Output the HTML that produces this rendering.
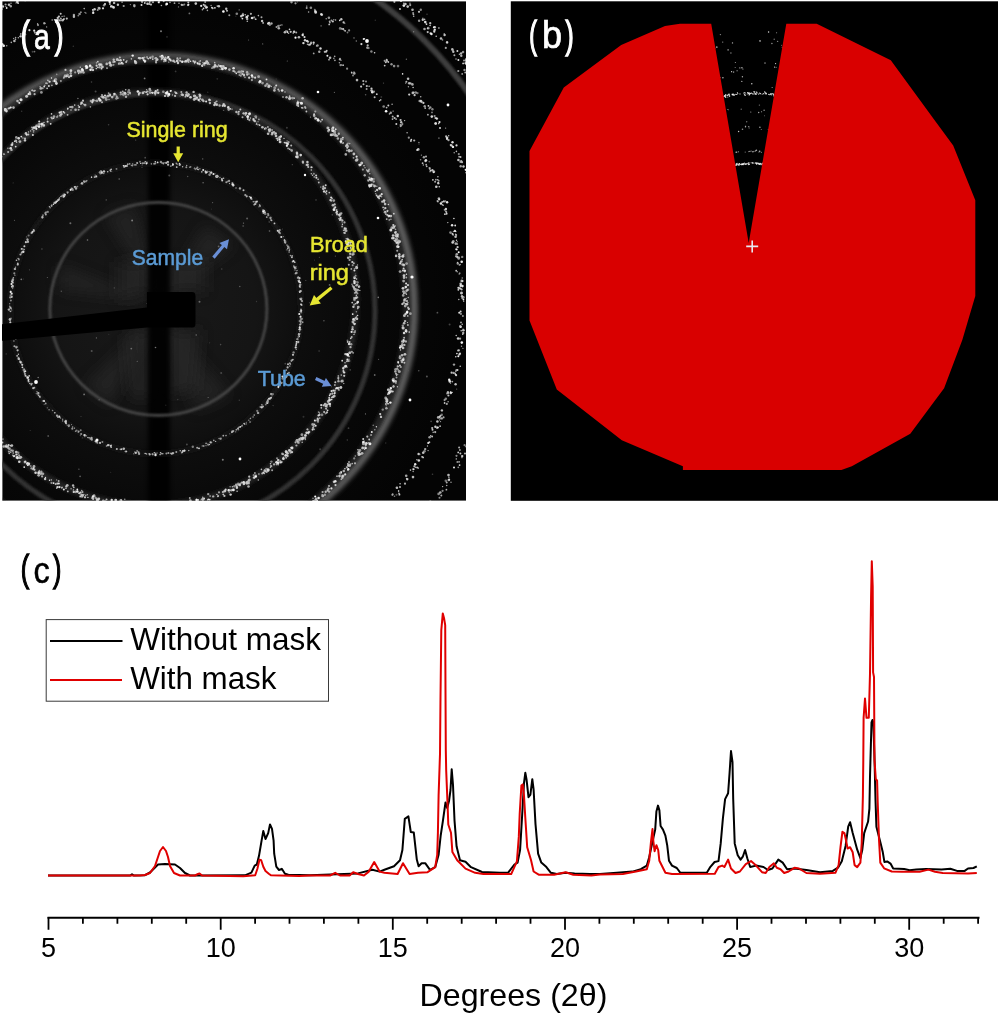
<!DOCTYPE html>
<html><head><meta charset="utf-8"><title>Figure</title>
<style>html,body{margin:0;padding:0;background:#fff;}body{width:1000px;height:1015px;overflow:hidden;}svg{display:block;}</style>
</head><body>
<svg width="1000" height="1015" viewBox="0 0 1000 1015">
<rect width="1000" height="1015" fill="#fff"/>
<defs><clipPath id="ca"><rect x="2.4" y="1.4" width="463.6" height="499.2"/></clipPath><filter id="bl1" x="-20%" y="-20%" width="140%" height="140%"><feGaussianBlur stdDeviation="1.3"/></filter><filter id="bl2" x="-20%" y="-20%" width="140%" height="140%"><feGaussianBlur stdDeviation="2.2"/></filter><filter id="bl3" x="-20%" y="-20%" width="140%" height="140%"><feGaussianBlur stdDeviation="3"/></filter><filter id="bl6" x="-20%" y="-20%" width="140%" height="140%"><feGaussianBlur stdDeviation="7"/></filter><filter id="bld" x="-5%" y="-5%" width="110%" height="110%"><feGaussianBlur stdDeviation="0.45"/></filter><radialGradient id="haze" cx="157" cy="309" r="300" gradientUnits="userSpaceOnUse"><stop offset="0" stop-color="#191919"/><stop offset="0.33" stop-color="#151515"/><stop offset="0.5" stop-color="#0d0d0d"/><stop offset="0.75" stop-color="#070707"/><stop offset="1" stop-color="#040404"/></radialGradient></defs><rect x="2.4" y="1.4" width="463.6" height="499.2" fill="url(#haze)"/><g clip-path="url(#ca)"><g fill="#2c2c2c" opacity="0.6" filter="url(#bl6)"><path d="M158,300 L105,215 L135,205 Z"/><path d="M160,315 L195,410 L230,395 Z"/><path d="M160,300 L205,225 L235,245 Z"/><path d="M158,315 L110,405 L85,385 Z"/><path d="M150,300 L60,265 L60,290 Z"/></g><g fill="#262626" filter="url(#bl6)" opacity="0.8"><path d="M118,262 L148,262 L148,292 L118,300 Z"/><path d="M170,262 L205,262 L205,292 L170,292 Z"/><path d="M125,335 L148,330 L148,400 L130,395 Z"/><path d="M170,330 L200,330 L195,390 L170,395 Z"/></g><rect x="148" y="0" width="22" height="505" fill="#030303" filter="url(#bl2)" opacity="0.9"/><g fill="none" filter="url(#bl1)"><ellipse cx="158.4" cy="308.9" rx="108.5" ry="106.5" stroke="#4a4a4a" stroke-width="2.6"/><circle cx="157" cy="311" r="218" stroke="#333" stroke-width="5"/><circle cx="157" cy="309" r="379" stroke="#3c3c3c" stroke-width="6"/></g><ellipse cx="157" cy="308" rx="257" ry="251.5" stroke="#5c5c5c" stroke-width="8" fill="none" filter="url(#bl2)"/><g fill="none" filter="url(#bl2)"><ellipse cx="151" cy="299" rx="205" ry="207" stroke="#2a2a2a" stroke-width="5"/><circle cx="157" cy="308" r="249" stroke="#2a2a2a" stroke-width="5"/><circle cx="155.7" cy="308.3" r="145.5" stroke="#1e1e1e" stroke-width="3"/></g><g filter="url(#bld)"><circle cx="90.3" cy="439" r="0.6" fill="rgb(218,218,218)" opacity="0.64"/><circle cx="28.6" cy="235.5" r="1.1" fill="rgb(177,177,177)" opacity="0.61"/><circle cx="22.4" cy="367.3" r="0.9" fill="rgb(255,255,255)" opacity="0.83"/><circle cx="293.5" cy="261.1" r="1" fill="rgb(224,224,224)" opacity="0.98"/><circle cx="28.5" cy="241.3" r="0.6" fill="rgb(167,167,167)" opacity="0.72"/><circle cx="246.2" cy="423.9" r="0.7" fill="rgb(189,189,189)" opacity="0.82"/><circle cx="95.1" cy="175.1" r="0.7" fill="rgb(162,162,162)" opacity="0.82"/><circle cx="290.6" cy="364.5" r="0.6" fill="rgb(176,176,176)" opacity="0.80"/><circle cx="12.9" cy="279.5" r="1.2" fill="rgb(196,196,196)" opacity="0.72"/><circle cx="195.5" cy="169.3" r="1" fill="rgb(181,181,181)" opacity="0.63"/><circle cx="110.7" cy="445.9" r="0.9" fill="rgb(227,227,227)" opacity="0.99"/><circle cx="263" cy="406.6" r="0.9" fill="rgb(246,246,246)" opacity="0.74"/><circle cx="287" cy="249.8" r="0.6" fill="rgb(221,221,221)" opacity="0.83"/><circle cx="259.6" cy="205" r="0.8" fill="rgb(238,238,238)" opacity="0.74"/><circle cx="10.1" cy="311.3" r="0.7" fill="rgb(184,184,184)" opacity="0.79"/><circle cx="81.1" cy="183.7" r="0.6" fill="rgb(239,239,239)" opacity="0.72"/><circle cx="27.6" cy="240" r="1" fill="rgb(235,235,235)" opacity="0.74"/><circle cx="290.5" cy="255.6" r="0.8" fill="rgb(228,228,228)" opacity="0.65"/><circle cx="291.4" cy="361" r="0.7" fill="rgb(200,200,200)" opacity="0.97"/><circle cx="10.7" cy="311.5" r="0.7" fill="rgb(201,201,201)" opacity="0.82"/><circle cx="264.4" cy="210.5" r="0.8" fill="rgb(203,203,203)" opacity="0.99"/><circle cx="96.6" cy="176.9" r="0.8" fill="rgb(179,179,179)" opacity="0.66"/><circle cx="220.8" cy="438.5" r="0.9" fill="rgb(225,225,225)" opacity="0.67"/><circle cx="126.6" cy="451.4" r="0.7" fill="rgb(218,218,218)" opacity="0.75"/><circle cx="21.6" cy="248.9" r="0.9" fill="rgb(229,229,229)" opacity="0.86"/><circle cx="146.4" cy="163.5" r="0.9" fill="rgb(249,249,249)" opacity="0.98"/><circle cx="94.5" cy="177.1" r="0.8" fill="rgb(211,211,211)" opacity="0.85"/><circle cx="289.9" cy="363.7" r="0.6" fill="rgb(176,176,176)" opacity="0.78"/><circle cx="267.6" cy="400.8" r="0.9" fill="rgb(218,218,218)" opacity="0.64"/><circle cx="60.6" cy="418.1" r="0.6" fill="rgb(176,176,176)" opacity="0.85"/><circle cx="242.3" cy="425.2" r="0.8" fill="rgb(165,165,165)" opacity="0.65"/><circle cx="9.9" cy="319.3" r="1.2" fill="rgb(211,211,211)" opacity="0.79"/><circle cx="281" cy="383.4" r="0.8" fill="rgb(238,238,238)" opacity="0.66"/><circle cx="300.1" cy="329.4" r="1.2" fill="rgb(217,217,217)" opacity="0.74"/><circle cx="101.8" cy="171.9" r="0.8" fill="rgb(232,232,232)" opacity="0.95"/><circle cx="107.7" cy="171.7" r="0.8" fill="rgb(196,196,196)" opacity="0.96"/><circle cx="65.9" cy="423" r="0.9" fill="rgb(231,231,231)" opacity="0.69"/><circle cx="210.9" cy="172.6" r="1.2" fill="rgb(174,174,174)" opacity="0.92"/><circle cx="216.3" cy="176" r="0.9" fill="rgb(195,195,195)" opacity="0.89"/><circle cx="300.3" cy="298.8" r="1.1" fill="rgb(210,210,210)" opacity="0.70"/><circle cx="104" cy="171.4" r="1.2" fill="rgb(194,194,194)" opacity="0.98"/><circle cx="59.9" cy="417.5" r="0.7" fill="rgb(179,179,179)" opacity="0.79"/><circle cx="80.7" cy="430.3" r="1" fill="rgb(150,150,150)" opacity="0.79"/><circle cx="72.2" cy="188.8" r="1.1" fill="rgb(160,160,160)" opacity="0.93"/><circle cx="261.1" cy="407.2" r="0.7" fill="rgb(172,172,172)" opacity="0.77"/><circle cx="59.5" cy="198" r="0.7" fill="rgb(242,242,242)" opacity="0.76"/><circle cx="36.3" cy="393.5" r="0.7" fill="rgb(166,166,166)" opacity="0.61"/><circle cx="33.6" cy="229.9" r="0.9" fill="rgb(233,233,233)" opacity="0.66"/><circle cx="223.5" cy="178.3" r="0.8" fill="rgb(220,220,220)" opacity="0.82"/><circle cx="299.7" cy="327.8" r="1.1" fill="rgb(242,242,242)" opacity="0.86"/><circle cx="11.5" cy="284" r="1.1" fill="rgb(255,255,255)" opacity="0.95"/><circle cx="298.6" cy="333.7" r="0.7" fill="rgb(214,214,214)" opacity="0.70"/><circle cx="31.2" cy="233.1" r="0.7" fill="rgb(244,244,244)" opacity="0.74"/><circle cx="14.4" cy="346.3" r="1" fill="rgb(216,216,216)" opacity="0.77"/><circle cx="281.3" cy="236.9" r="0.9" fill="rgb(152,152,152)" opacity="0.95"/><circle cx="179.8" cy="164.8" r="1" fill="rgb(249,249,249)" opacity="0.92"/><circle cx="223.3" cy="435.7" r="0.9" fill="rgb(191,191,191)" opacity="0.87"/><circle cx="12.7" cy="280.3" r="0.9" fill="rgb(249,249,249)" opacity="0.64"/><circle cx="20.5" cy="254.5" r="1.1" fill="rgb(214,214,214)" opacity="0.78"/><circle cx="299.6" cy="333.8" r="1.1" fill="rgb(158,158,158)" opacity="0.78"/><circle cx="45.8" cy="214.4" r="1" fill="rgb(207,207,207)" opacity="0.80"/><circle cx="207" cy="172.2" r="0.9" fill="rgb(181,181,181)" opacity="0.88"/><circle cx="260" cy="206" r="0.9" fill="rgb(175,175,175)" opacity="0.94"/><circle cx="250.3" cy="418.6" r="0.7" fill="rgb(206,206,206)" opacity="0.73"/><circle cx="86.8" cy="180.7" r="0.8" fill="rgb(165,165,165)" opacity="0.96"/><circle cx="238" cy="428.6" r="1" fill="rgb(234,234,234)" opacity="0.75"/><circle cx="152.8" cy="454.4" r="1" fill="rgb(162,162,162)" opacity="0.76"/><circle cx="10" cy="320" r="1.2" fill="rgb(178,178,178)" opacity="0.66"/><circle cx="24.1" cy="368.7" r="0.7" fill="rgb(190,190,190)" opacity="0.64"/><circle cx="58.9" cy="416.8" r="0.8" fill="rgb(208,208,208)" opacity="0.78"/><circle cx="299.7" cy="324.7" r="0.9" fill="rgb(158,158,158)" opacity="0.65"/><circle cx="283.4" cy="236.6" r="0.7" fill="rgb(163,163,163)" opacity="0.63"/><circle cx="135.7" cy="452.8" r="1.1" fill="rgb(254,254,254)" opacity="0.77"/><circle cx="279" cy="231.6" r="1.1" fill="rgb(183,183,183)" opacity="0.76"/><circle cx="14.9" cy="275.3" r="0.8" fill="rgb(185,185,185)" opacity="0.62"/><circle cx="100.6" cy="173.7" r="0.9" fill="rgb(159,159,159)" opacity="0.71"/><circle cx="300.9" cy="323.7" r="1" fill="rgb(178,178,178)" opacity="0.63"/><circle cx="250.6" cy="197.6" r="0.9" fill="rgb(193,193,193)" opacity="1.00"/><circle cx="28.4" cy="380.7" r="0.6" fill="rgb(240,240,240)" opacity="0.70"/><circle cx="267.7" cy="400.3" r="0.7" fill="rgb(156,156,156)" opacity="0.67"/><circle cx="287.6" cy="248.5" r="0.7" fill="rgb(207,207,207)" opacity="0.80"/><circle cx="219.1" cy="438.5" r="0.8" fill="rgb(152,152,152)" opacity="1.00"/><circle cx="298.2" cy="342" r="1.2" fill="rgb(215,215,215)" opacity="0.79"/><circle cx="289.2" cy="250.2" r="0.7" fill="rgb(254,254,254)" opacity="0.86"/><circle cx="76" cy="188.5" r="1.2" fill="rgb(189,189,189)" opacity="0.88"/><circle cx="299.8" cy="292.3" r="0.8" fill="rgb(240,240,240)" opacity="0.89"/><circle cx="250.1" cy="422" r="1.1" fill="rgb(151,151,151)" opacity="0.63"/><circle cx="147.4" cy="163.2" r="0.8" fill="rgb(170,170,170)" opacity="0.62"/><circle cx="82.2" cy="183.6" r="1.2" fill="rgb(226,226,226)" opacity="0.70"/><circle cx="116.6" cy="449.1" r="0.9" fill="rgb(170,170,170)" opacity="0.71"/><circle cx="300.7" cy="311.6" r="1.2" fill="rgb(191,191,191)" opacity="0.70"/><circle cx="298.4" cy="277" r="0.8" fill="rgb(195,195,195)" opacity="0.67"/><circle cx="81.1" cy="433.9" r="1" fill="rgb(181,181,181)" opacity="0.80"/><circle cx="301.5" cy="312.8" r="0.8" fill="rgb(161,161,161)" opacity="0.66"/><circle cx="31.8" cy="233.1" r="1" fill="rgb(160,160,160)" opacity="0.83"/><circle cx="12.2" cy="281.7" r="1.1" fill="rgb(234,234,234)" opacity="0.96"/><circle cx="186.3" cy="167.2" r="1" fill="rgb(213,213,213)" opacity="0.66"/><circle cx="132.3" cy="165.5" r="1" fill="rgb(155,155,155)" opacity="0.93"/><circle cx="124.2" cy="167.1" r="1" fill="rgb(214,214,214)" opacity="0.66"/><circle cx="11.9" cy="286.7" r="0.9" fill="rgb(254,254,254)" opacity="0.92"/><circle cx="222.2" cy="180.5" r="1" fill="rgb(238,238,238)" opacity="0.86"/><circle cx="280.2" cy="382" r="0.6" fill="rgb(231,231,231)" opacity="0.74"/><circle cx="271.1" cy="397.7" r="1" fill="rgb(230,230,230)" opacity="0.81"/><circle cx="160.6" cy="452.8" r="0.8" fill="rgb(208,208,208)" opacity="0.92"/><circle cx="154.1" cy="163.8" r="1" fill="rgb(158,158,158)" opacity="0.90"/><circle cx="12.2" cy="332.1" r="1.1" fill="rgb(183,183,183)" opacity="0.69"/><circle cx="161.6" cy="162.8" r="0.9" fill="rgb(198,198,198)" opacity="0.63"/><circle cx="279.8" cy="230.1" r="0.8" fill="rgb(155,155,155)" opacity="0.85"/><circle cx="64.7" cy="194.3" r="0.8" fill="rgb(245,245,245)" opacity="0.88"/><circle cx="50.2" cy="207.8" r="0.7" fill="rgb(211,211,211)" opacity="0.62"/><circle cx="138.6" cy="452.2" r="1" fill="rgb(187,187,187)" opacity="0.88"/><circle cx="123.7" cy="449.1" r="0.9" fill="rgb(248,248,248)" opacity="0.65"/><circle cx="270.5" cy="217.7" r="1.2" fill="rgb(152,152,152)" opacity="0.72"/><circle cx="286.6" cy="376.5" r="0.9" fill="rgb(207,207,207)" opacity="1.00"/><circle cx="44.2" cy="404.3" r="0.6" fill="rgb(161,161,161)" opacity="0.66"/><circle cx="12.8" cy="286.5" r="1.2" fill="rgb(166,166,166)" opacity="0.84"/><circle cx="57.3" cy="201.3" r="0.8" fill="rgb(213,213,213)" opacity="0.96"/><circle cx="10.4" cy="321" r="0.6" fill="rgb(150,150,150)" opacity="0.98"/><circle cx="95.5" cy="177" r="0.8" fill="rgb(198,198,198)" opacity="0.73"/><circle cx="234.2" cy="185" r="0.6" fill="rgb(246,246,246)" opacity="0.74"/><circle cx="38.5" cy="395.4" r="0.6" fill="rgb(244,244,244)" opacity="0.72"/><circle cx="54.8" cy="412.8" r="0.8" fill="rgb(225,225,225)" opacity="0.63"/><circle cx="285.6" cy="242.6" r="0.8" fill="rgb(156,156,156)" opacity="0.93"/><circle cx="123.8" cy="448.6" r="1.2" fill="rgb(181,181,181)" opacity="0.99"/><circle cx="22.2" cy="364.8" r="1.1" fill="rgb(204,204,204)" opacity="0.95"/><circle cx="211.4" cy="172.5" r="1" fill="rgb(220,220,220)" opacity="0.82"/><circle cx="127.8" cy="164.2" r="0.9" fill="rgb(246,246,246)" opacity="0.66"/><circle cx="255.2" cy="201.6" r="0.9" fill="rgb(220,220,220)" opacity="0.65"/><circle cx="12.8" cy="333.5" r="1" fill="rgb(233,233,233)" opacity="0.70"/><circle cx="74.4" cy="187" r="0.8" fill="rgb(221,221,221)" opacity="0.87"/><circle cx="261.8" cy="407.6" r="0.9" fill="rgb(253,253,253)" opacity="0.80"/><circle cx="182.9" cy="451" r="1.1" fill="rgb(247,247,247)" opacity="0.78"/><circle cx="248.8" cy="420.3" r="0.8" fill="rgb(161,161,161)" opacity="0.73"/><circle cx="57" cy="415.7" r="1.1" fill="rgb(175,175,175)" opacity="0.95"/><circle cx="155.4" cy="163.5" r="0.9" fill="rgb(198,198,198)" opacity="0.71"/><circle cx="157.6" cy="162.4" r="0.9" fill="rgb(223,223,223)" opacity="0.99"/><circle cx="257.2" cy="410.9" r="1.1" fill="rgb(177,177,177)" opacity="0.64"/><circle cx="271.6" cy="220.4" r="0.8" fill="rgb(232,232,232)" opacity="0.78"/><circle cx="296.1" cy="266.5" r="0.6" fill="rgb(154,154,154)" opacity="0.77"/><circle cx="168.1" cy="164.7" r="1.1" fill="rgb(225,225,225)" opacity="0.80"/><circle cx="287.6" cy="373.6" r="0.9" fill="rgb(209,209,209)" opacity="0.99"/><circle cx="157.1" cy="453" r="0.7" fill="rgb(169,169,169)" opacity="0.66"/><circle cx="300.1" cy="282.5" r="1" fill="rgb(247,247,247)" opacity="0.96"/><circle cx="281.7" cy="382.8" r="1.1" fill="rgb(150,150,150)" opacity="0.91"/><circle cx="171.7" cy="453.9" r="0.8" fill="rgb(166,166,166)" opacity="0.85"/><circle cx="13" cy="282.7" r="0.9" fill="rgb(247,247,247)" opacity="0.64"/><circle cx="286.3" cy="370.1" r="0.8" fill="rgb(178,178,178)" opacity="0.92"/><circle cx="301" cy="309.4" r="0.9" fill="rgb(208,208,208)" opacity="0.71"/><circle cx="96.6" cy="441.6" r="0.9" fill="rgb(220,220,220)" opacity="0.70"/><circle cx="296.3" cy="272.8" r="1" fill="rgb(189,189,189)" opacity="0.62"/><circle cx="206" cy="445.7" r="0.6" fill="rgb(179,179,179)" opacity="0.87"/><circle cx="284.7" cy="242.7" r="0.7" fill="rgb(154,154,154)" opacity="0.88"/><circle cx="127" cy="166.2" r="0.6" fill="rgb(187,187,187)" opacity="0.90"/><circle cx="9.7" cy="303.8" r="0.7" fill="rgb(175,175,175)" opacity="0.72"/><circle cx="217.7" cy="176.6" r="1.1" fill="rgb(187,187,187)" opacity="0.64"/><circle cx="51.5" cy="205.9" r="1" fill="rgb(178,178,178)" opacity="0.79"/><circle cx="279.6" cy="230.1" r="1.2" fill="rgb(156,156,156)" opacity="0.69"/><circle cx="299.6" cy="284.7" r="0.7" fill="rgb(156,156,156)" opacity="0.88"/><circle cx="213.8" cy="440.4" r="0.8" fill="rgb(164,164,164)" opacity="1.00"/><circle cx="288.3" cy="247.5" r="0.8" fill="rgb(173,173,173)" opacity="0.86"/><circle cx="12.6" cy="285.8" r="1" fill="rgb(197,197,197)" opacity="0.99"/><circle cx="19.5" cy="359.8" r="0.7" fill="rgb(160,160,160)" opacity="0.71"/><circle cx="68.9" cy="425.5" r="1.2" fill="rgb(176,176,176)" opacity="0.75"/><circle cx="172.8" cy="163.9" r="0.8" fill="rgb(252,252,252)" opacity="0.77"/><circle cx="293.6" cy="352.4" r="1.2" fill="rgb(174,174,174)" opacity="0.73"/><circle cx="144.1" cy="163.1" r="0.9" fill="rgb(230,230,230)" opacity="0.76"/><circle cx="210.8" cy="173.6" r="0.6" fill="rgb(158,158,158)" opacity="0.92"/><circle cx="290.1" cy="363.5" r="0.7" fill="rgb(158,158,158)" opacity="0.96"/><circle cx="78.6" cy="431.4" r="1" fill="rgb(183,183,183)" opacity="0.90"/><circle cx="101" cy="171.3" r="1.2" fill="rgb(188,188,188)" opacity="0.60"/><circle cx="160.9" cy="161.9" r="1.2" fill="rgb(153,153,153)" opacity="0.93"/><circle cx="268.9" cy="398.7" r="1" fill="rgb(209,209,209)" opacity="0.98"/><circle cx="45.7" cy="403.5" r="0.9" fill="rgb(213,213,213)" opacity="0.67"/><circle cx="203.2" cy="169.9" r="1" fill="rgb(255,255,255)" opacity="0.88"/><circle cx="240.3" cy="426.8" r="0.9" fill="rgb(250,250,250)" opacity="0.91"/><circle cx="285" cy="378.4" r="0.7" fill="rgb(246,246,246)" opacity="0.66"/><circle cx="34.4" cy="387.7" r="0.9" fill="rgb(170,170,170)" opacity="0.99"/><circle cx="263.4" cy="211.5" r="1.2" fill="rgb(183,183,183)" opacity="0.85"/><circle cx="192.8" cy="446.8" r="1.2" fill="rgb(172,172,172)" opacity="0.69"/><circle cx="28.6" cy="381.5" r="1" fill="rgb(236,236,236)" opacity="0.69"/><circle cx="14.3" cy="273.3" r="1.1" fill="rgb(187,187,187)" opacity="0.72"/><circle cx="24.1" cy="249.5" r="0.8" fill="rgb(244,244,244)" opacity="0.70"/><circle cx="20.4" cy="362.5" r="0.8" fill="rgb(224,224,224)" opacity="0.68"/><circle cx="289.8" cy="366.1" r="0.8" fill="rgb(181,181,181)" opacity="0.80"/><circle cx="172.7" cy="453.2" r="1.2" fill="rgb(163,163,163)" opacity="0.60"/><circle cx="262.7" cy="211.3" r="0.7" fill="rgb(207,207,207)" opacity="0.97"/><circle cx="296.4" cy="344.8" r="0.7" fill="rgb(255,255,255)" opacity="0.83"/><circle cx="287.8" cy="246.3" r="0.8" fill="rgb(172,172,172)" opacity="0.78"/><circle cx="146.6" cy="453.9" r="0.7" fill="rgb(226,226,226)" opacity="0.88"/><circle cx="71.5" cy="424.6" r="0.6" fill="rgb(193,193,193)" opacity="0.66"/><circle cx="197.2" cy="447.7" r="1" fill="rgb(176,176,176)" opacity="0.93"/><circle cx="217.1" cy="175.2" r="0.8" fill="rgb(197,197,197)" opacity="0.67"/><circle cx="100.1" cy="443.2" r="0.9" fill="rgb(158,158,158)" opacity="0.76"/><circle cx="197.4" cy="167.5" r="1" fill="rgb(169,169,169)" opacity="0.86"/><circle cx="278.5" cy="387.5" r="0.8" fill="rgb(186,186,186)" opacity="0.87"/><circle cx="28.2" cy="380.6" r="0.6" fill="rgb(245,245,245)" opacity="0.83"/><circle cx="65.8" cy="421" r="1.2" fill="rgb(196,196,196)" opacity="0.86"/><circle cx="42.5" cy="401" r="0.8" fill="rgb(150,150,150)" opacity="0.77"/><circle cx="236.4" cy="429.7" r="0.9" fill="rgb(196,196,196)" opacity="0.78"/><circle cx="231.8" cy="432.6" r="0.6" fill="rgb(220,220,220)" opacity="0.66"/><circle cx="206" cy="172.6" r="1.2" fill="rgb(244,244,244)" opacity="0.80"/><circle cx="244.6" cy="424.3" r="0.8" fill="rgb(216,216,216)" opacity="0.67"/><circle cx="287.6" cy="367.4" r="1.1" fill="rgb(253,253,253)" opacity="0.68"/><circle cx="258.1" cy="412.9" r="1.2" fill="rgb(211,211,211)" opacity="0.73"/><circle cx="42.4" cy="217.4" r="1" fill="rgb(238,238,238)" opacity="0.93"/><circle cx="233.3" cy="431.1" r="1.1" fill="rgb(178,178,178)" opacity="0.85"/><circle cx="46.2" cy="212.1" r="0.9" fill="rgb(155,155,155)" opacity="0.76"/><circle cx="10.3" cy="291.9" r="0.8" fill="rgb(165,165,165)" opacity="0.66"/><circle cx="298.9" cy="281.6" r="1.1" fill="rgb(246,246,246)" opacity="0.87"/><circle cx="84.2" cy="182.2" r="0.8" fill="rgb(199,199,199)" opacity="0.84"/><circle cx="17.8" cy="263.4" r="0.9" fill="rgb(224,224,224)" opacity="0.70"/><circle cx="44.4" cy="401.3" r="0.8" fill="rgb(214,214,214)" opacity="0.78"/><circle cx="299" cy="329.5" r="0.7" fill="rgb(247,247,247)" opacity="0.85"/><circle cx="216.5" cy="176.8" r="1.1" fill="rgb(253,253,253)" opacity="0.79"/><circle cx="270" cy="399.3" r="0.7" fill="rgb(206,206,206)" opacity="0.80"/><circle cx="75.2" cy="186.4" r="0.6" fill="rgb(166,166,166)" opacity="0.63"/><circle cx="140.6" cy="163.4" r="0.6" fill="rgb(214,214,214)" opacity="0.96"/><circle cx="72.8" cy="189.9" r="1.1" fill="rgb(153,153,153)" opacity="0.94"/><circle cx="301" cy="304.8" r="0.7" fill="rgb(212,212,212)" opacity="0.72"/><circle cx="209.6" cy="174.7" r="1.1" fill="rgb(237,237,237)" opacity="0.92"/><circle cx="288.2" cy="246.5" r="1.1" fill="rgb(170,170,170)" opacity="0.73"/><circle cx="45.5" cy="212.9" r="1.1" fill="rgb(208,208,208)" opacity="0.66"/><circle cx="9.7" cy="306.3" r="0.8" fill="rgb(214,214,214)" opacity="0.69"/><circle cx="54.8" cy="412.7" r="0.7" fill="rgb(201,201,201)" opacity="0.66"/><circle cx="289.1" cy="252" r="0.7" fill="rgb(250,250,250)" opacity="0.71"/><circle cx="172.2" cy="165.3" r="0.6" fill="rgb(196,196,196)" opacity="0.99"/><circle cx="17.6" cy="350.3" r="1.1" fill="rgb(182,182,182)" opacity="1.00"/><circle cx="56.1" cy="202.5" r="0.8" fill="rgb(252,252,252)" opacity="0.75"/><circle cx="52.6" cy="410.5" r="0.8" fill="rgb(160,160,160)" opacity="0.78"/><circle cx="220.5" cy="439" r="1" fill="rgb(156,156,156)" opacity="0.72"/><circle cx="11.7" cy="293.7" r="1.1" fill="rgb(234,234,234)" opacity="0.96"/><circle cx="140" cy="161.7" r="1" fill="rgb(178,178,178)" opacity="0.66"/><circle cx="47.8" cy="211.9" r="1.1" fill="rgb(166,166,166)" opacity="0.80"/><circle cx="44.8" cy="213.5" r="0.6" fill="rgb(156,156,156)" opacity="0.60"/><circle cx="66.2" cy="423.8" r="0.7" fill="rgb(224,224,224)" opacity="0.72"/><circle cx="253.1" cy="417" r="0.8" fill="rgb(210,210,210)" opacity="0.66"/><circle cx="301" cy="321.2" r="0.9" fill="rgb(158,158,158)" opacity="0.86"/><circle cx="255.3" cy="203.9" r="1.1" fill="rgb(201,201,201)" opacity="0.92"/><circle cx="299.5" cy="278.2" r="1.1" fill="rgb(226,226,226)" opacity="0.86"/><circle cx="18.7" cy="358.8" r="1.2" fill="rgb(243,243,243)" opacity="0.80"/><circle cx="229.8" cy="433.8" r="0.6" fill="rgb(173,173,173)" opacity="0.70"/><circle cx="291.5" cy="360.5" r="1.1" fill="rgb(151,151,151)" opacity="0.85"/><circle cx="75.1" cy="186.8" r="0.9" fill="rgb(232,232,232)" opacity="0.80"/><circle cx="63.6" cy="194.7" r="1.1" fill="rgb(172,172,172)" opacity="0.80"/><circle cx="288" cy="364.3" r="1" fill="rgb(211,211,211)" opacity="0.89"/><circle cx="299.3" cy="314" r="1.1" fill="rgb(245,245,245)" opacity="0.96"/><circle cx="282.7" cy="378.6" r="1.2" fill="rgb(183,183,183)" opacity="0.69"/><circle cx="296.5" cy="343.3" r="0.8" fill="rgb(245,245,245)" opacity="0.97"/><circle cx="291.9" cy="257.2" r="1" fill="rgb(236,236,236)" opacity="0.77"/><circle cx="190.6" cy="166.8" r="0.9" fill="rgb(183,183,183)" opacity="0.72"/><circle cx="287" cy="245.1" r="0.9" fill="rgb(171,171,171)" opacity="0.70"/><circle cx="168.4" cy="453" r="1" fill="rgb(170,170,170)" opacity="0.90"/><circle cx="87.9" cy="437.6" r="0.7" fill="rgb(230,230,230)" opacity="0.97"/><circle cx="299.8" cy="291.6" r="1.1" fill="rgb(218,218,218)" opacity="0.79"/><circle cx="233.2" cy="185.7" r="0.9" fill="rgb(242,242,242)" opacity="0.69"/><circle cx="263.6" cy="212.9" r="1.1" fill="rgb(200,200,200)" opacity="0.85"/><circle cx="284.5" cy="376.8" r="0.6" fill="rgb(163,163,163)" opacity="0.85"/><circle cx="232.1" cy="431.8" r="1.2" fill="rgb(239,239,239)" opacity="0.61"/><circle cx="295.9" cy="345.8" r="1" fill="rgb(244,244,244)" opacity="0.62"/><circle cx="245.3" cy="195" r="1.1" fill="rgb(175,175,175)" opacity="0.93"/><circle cx="217.4" cy="176.3" r="1.1" fill="rgb(241,241,241)" opacity="0.98"/><circle cx="269.3" cy="398.9" r="0.7" fill="rgb(164,164,164)" opacity="0.61"/><circle cx="294.9" cy="262.3" r="0.7" fill="rgb(246,246,246)" opacity="0.85"/><circle cx="122" cy="449.1" r="0.7" fill="rgb(162,162,162)" opacity="0.92"/><circle cx="67.6" cy="192.8" r="0.8" fill="rgb(194,194,194)" opacity="0.70"/><circle cx="126" cy="451.4" r="1" fill="rgb(197,197,197)" opacity="0.96"/><circle cx="173.2" cy="164.6" r="0.8" fill="rgb(245,245,245)" opacity="0.61"/><circle cx="31.9" cy="383.7" r="0.9" fill="rgb(248,248,248)" opacity="0.64"/><circle cx="12" cy="336.7" r="1" fill="rgb(255,255,255)" opacity="0.64"/><circle cx="217.6" cy="176.3" r="0.7" fill="rgb(150,150,150)" opacity="0.81"/><circle cx="121" cy="449.6" r="0.8" fill="rgb(162,162,162)" opacity="0.80"/><circle cx="197.8" cy="169.3" r="0.7" fill="rgb(213,213,213)" opacity="0.84"/><circle cx="295" cy="269.9" r="0.7" fill="rgb(254,254,254)" opacity="0.69"/><circle cx="110.3" cy="170.2" r="0.9" fill="rgb(164,164,164)" opacity="0.98"/><circle cx="170.8" cy="166.1" r="0.9" fill="rgb(163,163,163)" opacity="0.85"/><circle cx="66" cy="423" r="0.8" fill="rgb(200,200,200)" opacity="0.96"/><circle cx="151.4" cy="163.9" r="0.8" fill="rgb(188,188,188)" opacity="0.71"/><circle cx="274.5" cy="223.4" r="0.9" fill="rgb(198,198,198)" opacity="0.99"/><circle cx="56.3" cy="201.5" r="1" fill="rgb(238,238,238)" opacity="0.90"/><circle cx="67.6" cy="192.7" r="0.8" fill="rgb(191,191,191)" opacity="0.81"/><circle cx="253.3" cy="201.7" r="0.8" fill="rgb(209,209,209)" opacity="0.78"/><circle cx="177.1" cy="164.1" r="0.9" fill="rgb(166,166,166)" opacity="0.73"/><circle cx="65.1" cy="194.9" r="0.8" fill="rgb(246,246,246)" opacity="0.88"/><circle cx="236" cy="188" r="0.7" fill="rgb(169,169,169)" opacity="0.99"/><circle cx="131.4" cy="165.4" r="0.7" fill="rgb(174,174,174)" opacity="0.70"/><circle cx="295" cy="267.8" r="1.2" fill="rgb(171,171,171)" opacity="0.98"/><circle cx="271.1" cy="394" r="1.1" fill="rgb(243,243,243)" opacity="0.72"/><circle cx="133.8" cy="453.7" r="0.7" fill="rgb(163,163,163)" opacity="0.71"/><circle cx="264.9" cy="212.3" r="1.1" fill="rgb(205,205,205)" opacity="0.88"/><circle cx="10.2" cy="307.9" r="1" fill="rgb(209,209,209)" opacity="0.61"/><circle cx="149.1" cy="453.6" r="0.7" fill="rgb(205,205,205)" opacity="0.88"/><circle cx="31.7" cy="232.4" r="1" fill="rgb(179,179,179)" opacity="0.87"/><circle cx="71.6" cy="188.6" r="1" fill="rgb(179,179,179)" opacity="0.87"/><circle cx="64.5" cy="195.9" r="0.9" fill="rgb(190,190,190)" opacity="0.70"/><circle cx="111.2" cy="169.3" r="0.8" fill="rgb(241,241,241)" opacity="0.85"/><circle cx="155.6" cy="453.4" r="0.9" fill="rgb(208,208,208)" opacity="0.61"/><circle cx="246.7" cy="196.3" r="1.1" fill="rgb(233,233,233)" opacity="0.73"/><circle cx="300.7" cy="318" r="1.1" fill="rgb(163,163,163)" opacity="0.62"/><circle cx="14.9" cy="268.9" r="1.2" fill="rgb(216,216,216)" opacity="0.74"/><circle cx="239.8" cy="188.1" r="0.9" fill="rgb(176,176,176)" opacity="0.89"/><circle cx="11.6" cy="297.2" r="0.9" fill="rgb(202,202,202)" opacity="0.90"/><circle cx="16.6" cy="346.9" r="1.2" fill="rgb(173,173,173)" opacity="0.76"/><circle cx="167.4" cy="161.6" r="0.8" fill="rgb(157,157,157)" opacity="0.70"/><circle cx="47.3" cy="407.8" r="0.6" fill="rgb(159,159,159)" opacity="0.77"/><circle cx="28.2" cy="377.8" r="0.8" fill="rgb(178,178,178)" opacity="0.72"/><circle cx="38.3" cy="393.1" r="1.2" fill="rgb(178,178,178)" opacity="1.00"/><circle cx="296.4" cy="273" r="1.2" fill="rgb(158,158,158)" opacity="0.92"/><circle cx="58.9" cy="199.5" r="0.9" fill="rgb(221,221,221)" opacity="0.89"/><circle cx="213.5" cy="174" r="1.1" fill="rgb(251,251,251)" opacity="0.93"/><circle cx="12.2" cy="337.5" r="0.8" fill="rgb(220,220,220)" opacity="0.86"/><circle cx="182.6" cy="166.7" r="0.7" fill="rgb(240,240,240)" opacity="0.75"/><circle cx="152.4" cy="454" r="0.9" fill="rgb(173,173,173)" opacity="0.79"/><circle cx="205.4" cy="171.3" r="1" fill="rgb(191,191,191)" opacity="0.79"/><circle cx="25.3" cy="371.2" r="1" fill="rgb(234,234,234)" opacity="0.96"/><circle cx="239" cy="427.3" r="0.7" fill="rgb(222,222,222)" opacity="0.96"/><circle cx="186.7" cy="165.4" r="0.7" fill="rgb(194,194,194)" opacity="0.85"/><circle cx="302.5" cy="322.2" r="1" fill="rgb(182,182,182)" opacity="0.84"/><circle cx="27.4" cy="239.4" r="1.1" fill="rgb(173,173,173)" opacity="0.91"/><circle cx="72.3" cy="428.7" r="1.1" fill="rgb(171,171,171)" opacity="0.84"/><circle cx="99.9" cy="172.4" r="1.2" fill="rgb(161,161,161)" opacity="0.87"/><circle cx="270.3" cy="218.1" r="0.7" fill="rgb(238,238,238)" opacity="0.69"/><circle cx="282.5" cy="376.6" r="1.1" fill="rgb(235,235,235)" opacity="0.95"/><circle cx="18.9" cy="259" r="0.7" fill="rgb(213,213,213)" opacity="0.82"/><circle cx="10.3" cy="322.6" r="1.1" fill="rgb(239,239,239)" opacity="0.80"/><circle cx="11.8" cy="310" r="0.6" fill="rgb(191,191,191)" opacity="0.79"/><circle cx="21.7" cy="252.7" r="1" fill="rgb(209,209,209)" opacity="0.75"/><circle cx="28.5" cy="379.5" r="1" fill="rgb(231,231,231)" opacity="0.86"/><circle cx="299.9" cy="327" r="0.6" fill="rgb(244,244,244)" opacity="0.97"/><circle cx="84.8" cy="436.4" r="0.9" fill="rgb(168,168,168)" opacity="0.61"/><circle cx="126.8" cy="165.8" r="1" fill="rgb(193,193,193)" opacity="0.64"/><circle cx="77.4" cy="186.6" r="0.9" fill="rgb(176,176,176)" opacity="0.71"/><circle cx="75.6" cy="431.2" r="0.8" fill="rgb(156,156,156)" opacity="0.93"/><circle cx="116.9" cy="448.9" r="0.9" fill="rgb(184,184,184)" opacity="0.95"/><circle cx="74.5" cy="428.1" r="0.7" fill="rgb(213,213,213)" opacity="0.92"/><circle cx="85" cy="435.2" r="1" fill="rgb(231,231,231)" opacity="0.64"/><circle cx="301.8" cy="305.1" r="0.8" fill="rgb(220,220,220)" opacity="0.95"/><circle cx="15.5" cy="267.2" r="0.6" fill="rgb(174,174,174)" opacity="0.93"/><circle cx="11.8" cy="331" r="1.1" fill="rgb(157,157,157)" opacity="0.92"/><circle cx="277.7" cy="230.7" r="1" fill="rgb(239,239,239)" opacity="0.88"/><circle cx="258.9" cy="206.8" r="0.6" fill="rgb(155,155,155)" opacity="0.87"/><circle cx="15.2" cy="346.4" r="0.7" fill="rgb(154,154,154)" opacity="0.77"/><circle cx="272.8" cy="394.1" r="1.2" fill="rgb(151,151,151)" opacity="0.75"/><circle cx="219.9" cy="177.5" r="0.8" fill="rgb(188,188,188)" opacity="0.67"/><circle cx="296.9" cy="339.1" r="0.6" fill="rgb(222,222,222)" opacity="0.86"/><circle cx="289.7" cy="249.2" r="0.6" fill="rgb(165,165,165)" opacity="0.91"/><circle cx="27.4" cy="377.7" r="1" fill="rgb(201,201,201)" opacity="0.78"/><circle cx="299.8" cy="321.1" r="1.2" fill="rgb(169,169,169)" opacity="0.79"/><circle cx="31.1" cy="384.8" r="0.7" fill="rgb(232,232,232)" opacity="0.79"/><circle cx="270.6" cy="220" r="0.6" fill="rgb(235,235,235)" opacity="0.65"/><circle cx="297.4" cy="277.9" r="0.7" fill="rgb(165,165,165)" opacity="0.65"/><circle cx="300.2" cy="324.5" r="1" fill="rgb(173,173,173)" opacity="0.97"/><circle cx="59.3" cy="416.5" r="1" fill="rgb(238,238,238)" opacity="0.94"/><circle cx="137.1" cy="163" r="1" fill="rgb(208,208,208)" opacity="0.87"/><circle cx="268.3" cy="215.2" r="1.1" fill="rgb(156,156,156)" opacity="0.89"/><circle cx="302" cy="318.8" r="1.1" fill="rgb(160,160,160)" opacity="0.76"/><circle cx="100" cy="442.8" r="1" fill="rgb(212,212,212)" opacity="0.84"/><circle cx="96.3" cy="442.5" r="0.9" fill="rgb(171,171,171)" opacity="0.66"/><circle cx="198.2" cy="169.6" r="0.8" fill="rgb(232,232,232)" opacity="0.67"/><circle cx="201.8" cy="171.8" r="0.9" fill="rgb(184,184,184)" opacity="0.91"/><circle cx="22.7" cy="248.9" r="0.8" fill="rgb(157,157,157)" opacity="0.85"/><circle cx="70.7" cy="189.8" r="1.1" fill="rgb(242,242,242)" opacity="0.99"/><circle cx="226.3" cy="182.3" r="1" fill="rgb(189,189,189)" opacity="0.83"/><circle cx="299.6" cy="286.8" r="0.8" fill="rgb(248,248,248)" opacity="0.96"/><circle cx="207.4" cy="171.4" r="0.8" fill="rgb(150,150,150)" opacity="0.73"/><circle cx="139.1" cy="453.9" r="1.1" fill="rgb(250,250,250)" opacity="0.62"/><circle cx="229.1" cy="180.9" r="1.1" fill="rgb(223,223,223)" opacity="0.66"/><circle cx="299.8" cy="285.8" r="1.1" fill="rgb(213,213,213)" opacity="0.74"/><circle cx="280.1" cy="381.9" r="0.9" fill="rgb(252,252,252)" opacity="0.75"/><circle cx="189.7" cy="167.2" r="0.8" fill="rgb(157,157,157)" opacity="0.87"/><circle cx="15.8" cy="339.3" r="0.7" fill="rgb(182,182,182)" opacity="0.83"/><circle cx="300.2" cy="316.8" r="0.9" fill="rgb(195,195,195)" opacity="0.91"/><circle cx="171.4" cy="453.6" r="0.9" fill="rgb(183,183,183)" opacity="0.95"/><circle cx="12.6" cy="288.5" r="0.7" fill="rgb(174,174,174)" opacity="0.64"/><circle cx="205.8" cy="171.5" r="0.8" fill="rgb(223,223,223)" opacity="0.83"/><circle cx="37" cy="391.7" r="0.6" fill="rgb(213,213,213)" opacity="0.75"/><circle cx="270" cy="398.3" r="1" fill="rgb(250,250,250)" opacity="0.63"/><circle cx="97" cy="442.1" r="1" fill="rgb(162,162,162)" opacity="0.61"/><circle cx="301.1" cy="299.5" r="1.1" fill="rgb(212,212,212)" opacity="0.83"/><circle cx="188.8" cy="450.6" r="0.7" fill="rgb(207,207,207)" opacity="0.91"/><circle cx="216.6" cy="176.5" r="1.2" fill="rgb(182,182,182)" opacity="0.94"/><circle cx="78.2" cy="432.4" r="0.6" fill="rgb(154,154,154)" opacity="0.82"/><circle cx="255.7" cy="202.7" r="0.9" fill="rgb(158,158,158)" opacity="0.95"/><circle cx="62.1" cy="195.4" r="0.7" fill="rgb(190,190,190)" opacity="0.83"/><circle cx="63.8" cy="196.3" r="1.2" fill="rgb(235,235,235)" opacity="0.80"/><circle cx="215.6" cy="441.4" r="0.7" fill="rgb(242,242,242)" opacity="0.69"/><circle cx="296.3" cy="343.1" r="0.8" fill="rgb(195,195,195)" opacity="0.62"/><circle cx="16.5" cy="260.3" r="0.8" fill="rgb(215,215,215)" opacity="0.88"/><circle cx="67.6" cy="192.1" r="1.2" fill="rgb(157,157,157)" opacity="0.64"/><circle cx="95.5" cy="441.3" r="1" fill="rgb(225,225,225)" opacity="0.84"/><circle cx="162.9" cy="163" r="0.7" fill="rgb(191,191,191)" opacity="0.75"/><circle cx="44" cy="400.7" r="0.9" fill="rgb(253,253,253)" opacity="0.66"/><circle cx="91.6" cy="177.1" r="0.6" fill="rgb(241,241,241)" opacity="0.97"/><circle cx="199.9" cy="168.8" r="0.6" fill="rgb(229,229,229)" opacity="0.95"/><circle cx="268" cy="213.8" r="0.7" fill="rgb(207,207,207)" opacity="0.98"/><circle cx="285.6" cy="243.1" r="0.6" fill="rgb(193,193,193)" opacity="0.73"/><circle cx="170.4" cy="453.2" r="0.7" fill="rgb(196,196,196)" opacity="0.66"/><circle cx="181.7" cy="452.7" r="0.9" fill="rgb(168,168,168)" opacity="0.78"/><circle cx="241.9" cy="426" r="0.9" fill="rgb(181,181,181)" opacity="0.66"/><circle cx="136.4" cy="452.9" r="0.7" fill="rgb(212,212,212)" opacity="0.64"/><circle cx="16.3" cy="347.7" r="0.9" fill="rgb(169,169,169)" opacity="0.99"/><circle cx="292.9" cy="359.5" r="0.7" fill="rgb(211,211,211)" opacity="0.93"/><circle cx="261.7" cy="406.9" r="1.1" fill="rgb(196,196,196)" opacity="0.77"/><circle cx="145.2" cy="453.5" r="0.8" fill="rgb(203,203,203)" opacity="0.96"/><circle cx="292.4" cy="359.9" r="1" fill="rgb(187,187,187)" opacity="0.66"/><circle cx="63.4" cy="197" r="0.9" fill="rgb(206,206,206)" opacity="0.60"/><circle cx="227.8" cy="181.5" r="0.9" fill="rgb(173,173,173)" opacity="0.74"/><circle cx="296" cy="344.8" r="0.7" fill="rgb(173,173,173)" opacity="0.81"/><circle cx="173.6" cy="453" r="0.7" fill="rgb(226,226,226)" opacity="0.63"/><circle cx="279.2" cy="383.9" r="0.8" fill="rgb(176,176,176)" opacity="0.65"/><circle cx="85.8" cy="181.4" r="1" fill="rgb(174,174,174)" opacity="0.83"/><circle cx="199" cy="448.4" r="0.8" fill="rgb(242,242,242)" opacity="0.97"/><circle cx="10.7" cy="291.4" r="0.8" fill="rgb(186,186,186)" opacity="0.94"/><circle cx="251.5" cy="199" r="1.1" fill="rgb(211,211,211)" opacity="0.65"/><circle cx="82" cy="182.8" r="0.7" fill="rgb(222,222,222)" opacity="0.93"/><circle cx="57.8" cy="416.5" r="1" fill="rgb(150,150,150)" opacity="0.74"/><circle cx="288.8" cy="247.8" r="1.2" fill="rgb(159,159,159)" opacity="0.65"/><circle cx="123.5" cy="165.8" r="0.8" fill="rgb(241,241,241)" opacity="0.95"/><circle cx="27.9" cy="241.9" r="1.1" fill="rgb(187,187,187)" opacity="0.95"/><circle cx="294.3" cy="267.1" r="0.9" fill="rgb(218,218,218)" opacity="0.65"/><circle cx="161.6" cy="453.7" r="0.7" fill="rgb(229,229,229)" opacity="0.67"/><circle cx="272" cy="395.8" r="0.6" fill="rgb(162,162,162)" opacity="0.97"/><circle cx="145.3" cy="161.7" r="0.8" fill="rgb(226,226,226)" opacity="0.85"/><circle cx="13.9" cy="341" r="0.8" fill="rgb(162,162,162)" opacity="0.89"/><circle cx="296.2" cy="349.3" r="0.7" fill="rgb(213,213,213)" opacity="0.83"/><circle cx="166.2" cy="162.9" r="1.1" fill="rgb(219,219,219)" opacity="0.84"/><circle cx="249.4" cy="196.6" r="0.7" fill="rgb(223,223,223)" opacity="0.78"/><circle cx="39.7" cy="396.4" r="1" fill="rgb(238,238,238)" opacity="0.77"/><circle cx="233.4" cy="185.4" r="0.9" fill="rgb(200,200,200)" opacity="0.99"/><circle cx="293" cy="354.8" r="1.1" fill="rgb(241,241,241)" opacity="0.77"/><circle cx="300.8" cy="291.1" r="1.1" fill="rgb(191,191,191)" opacity="0.93"/><circle cx="240" cy="188.6" r="1.2" fill="rgb(195,195,195)" opacity="0.70"/><circle cx="27" cy="376.8" r="1" fill="rgb(196,196,196)" opacity="0.64"/><circle cx="211.3" cy="442.5" r="1" fill="rgb(178,178,178)" opacity="0.66"/><circle cx="299" cy="280.7" r="1.1" fill="rgb(208,208,208)" opacity="0.85"/><circle cx="209.1" cy="171.6" r="0.6" fill="rgb(232,232,232)" opacity="0.85"/><circle cx="281.3" cy="237.1" r="1" fill="rgb(230,230,230)" opacity="0.82"/><circle cx="284.7" cy="241.9" r="0.9" fill="rgb(205,205,205)" opacity="0.69"/><circle cx="296.4" cy="343.9" r="0.7" fill="rgb(194,194,194)" opacity="0.86"/><circle cx="260.3" cy="407" r="0.9" fill="rgb(184,184,184)" opacity="0.63"/><circle cx="33.9" cy="230.7" r="1.2" fill="rgb(206,206,206)" opacity="0.65"/><circle cx="254.2" cy="415.1" r="0.8" fill="rgb(181,181,181)" opacity="0.89"/><circle cx="146.9" cy="162.3" r="0.8" fill="rgb(208,208,208)" opacity="0.84"/><circle cx="24.4" cy="246.3" r="1" fill="rgb(208,208,208)" opacity="0.96"/><circle cx="107.7" cy="445.2" r="0.9" fill="rgb(254,254,254)" opacity="0.72"/><circle cx="162.8" cy="453.8" r="0.8" fill="rgb(224,224,224)" opacity="0.76"/><circle cx="285.8" cy="241.2" r="0.7" fill="rgb(180,180,180)" opacity="0.73"/><circle cx="89.3" cy="437.6" r="0.7" fill="rgb(157,157,157)" opacity="0.91"/><circle cx="235.7" cy="431.8" r="0.6" fill="rgb(194,194,194)" opacity="0.78"/><circle cx="289.7" cy="363.3" r="1" fill="rgb(163,163,163)" opacity="0.81"/><circle cx="301.4" cy="298.5" r="1" fill="rgb(169,169,169)" opacity="0.77"/><circle cx="84" cy="181.3" r="1" fill="rgb(185,185,185)" opacity="0.93"/><circle cx="10.7" cy="292" r="1" fill="rgb(245,245,245)" opacity="0.97"/><circle cx="301" cy="304.3" r="1" fill="rgb(240,240,240)" opacity="0.65"/><circle cx="256.6" cy="201.9" r="0.6" fill="rgb(248,248,248)" opacity="0.82"/><circle cx="261.9" cy="404.8" r="0.7" fill="rgb(250,250,250)" opacity="0.71"/><circle cx="49.4" cy="206.7" r="0.7" fill="rgb(207,207,207)" opacity="0.88"/><circle cx="121.3" cy="449.2" r="0.9" fill="rgb(226,226,226)" opacity="0.75"/><circle cx="91.8" cy="439.7" r="1.1" fill="rgb(213,213,213)" opacity="0.75"/><circle cx="111.2" cy="445.3" r="0.9" fill="rgb(198,198,198)" opacity="0.83"/><circle cx="279.3" cy="384.5" r="1.2" fill="rgb(191,191,191)" opacity="0.99"/><circle cx="42.5" cy="216.9" r="1.2" fill="rgb(151,151,151)" opacity="0.61"/><circle cx="149.7" cy="454.4" r="1.1" fill="rgb(188,188,188)" opacity="0.97"/><circle cx="176.7" cy="167.1" r="0.9" fill="rgb(216,216,216)" opacity="0.89"/><circle cx="24.6" cy="369.9" r="0.9" fill="rgb(155,155,155)" opacity="0.84"/><circle cx="68.7" cy="426.3" r="0.9" fill="rgb(162,162,162)" opacity="0.76"/><circle cx="10.6" cy="307.5" r="1" fill="rgb(223,223,223)" opacity="0.66"/><circle cx="210.5" cy="442.3" r="1.1" fill="rgb(225,225,225)" opacity="0.74"/><circle cx="12.4" cy="280.8" r="1.1" fill="rgb(171,171,171)" opacity="0.75"/><circle cx="57.9" cy="416.9" r="0.7" fill="rgb(233,233,233)" opacity="0.96"/><circle cx="101.9" cy="172.8" r="1.1" fill="rgb(215,215,215)" opacity="0.96"/><circle cx="27.5" cy="377.9" r="0.9" fill="rgb(214,214,214)" opacity="0.96"/><circle cx="31.3" cy="384.8" r="0.6" fill="rgb(222,222,222)" opacity="0.84"/><circle cx="67.2" cy="425.2" r="0.6" fill="rgb(202,202,202)" opacity="0.60"/><circle cx="301.1" cy="310.8" r="1" fill="rgb(220,220,220)" opacity="0.60"/><circle cx="106.7" cy="445.9" r="1" fill="rgb(175,175,175)" opacity="0.67"/><circle cx="172.9" cy="164.7" r="0.9" fill="rgb(232,232,232)" opacity="0.96"/><circle cx="10.5" cy="295.2" r="1" fill="rgb(168,168,168)" opacity="0.66"/><circle cx="164.4" cy="162.6" r="0.7" fill="rgb(162,162,162)" opacity="0.63"/><circle cx="292.6" cy="261.7" r="0.9" fill="rgb(252,252,252)" opacity="0.62"/><circle cx="300.8" cy="319.7" r="1.1" fill="rgb(191,191,191)" opacity="0.66"/><circle cx="166.4" cy="453.4" r="1" fill="rgb(224,224,224)" opacity="0.63"/><circle cx="207.9" cy="444.3" r="1" fill="rgb(152,152,152)" opacity="0.62"/><circle cx="266.8" cy="217.1" r="0.9" fill="rgb(229,229,229)" opacity="0.70"/><circle cx="180.2" cy="450.7" r="0.7" fill="rgb(225,225,225)" opacity="0.94"/><circle cx="97.6" cy="443" r="0.8" fill="rgb(227,227,227)" opacity="0.70"/><circle cx="265.3" cy="213.9" r="1.2" fill="rgb(158,158,158)" opacity="0.70"/><circle cx="43.8" cy="401.1" r="0.8" fill="rgb(241,241,241)" opacity="0.79"/><circle cx="194.2" cy="168.6" r="0.7" fill="rgb(172,172,172)" opacity="0.67"/><circle cx="49.1" cy="409.7" r="0.8" fill="rgb(196,196,196)" opacity="0.65"/><circle cx="13.4" cy="277.7" r="0.8" fill="rgb(201,201,201)" opacity="0.86"/><circle cx="295.4" cy="273.6" r="0.9" fill="rgb(199,199,199)" opacity="0.68"/><circle cx="125" cy="451.4" r="0.7" fill="rgb(154,154,154)" opacity="0.71"/><circle cx="299.6" cy="331.3" r="0.7" fill="rgb(175,175,175)" opacity="0.71"/><circle cx="229.5" cy="183.5" r="0.7" fill="rgb(206,206,206)" opacity="0.79"/><circle cx="196.3" cy="168.5" r="0.7" fill="rgb(201,201,201)" opacity="0.75"/><circle cx="297" cy="270.5" r="0.7" fill="rgb(210,210,210)" opacity="0.80"/><circle cx="176.3" cy="451.9" r="1" fill="rgb(183,183,183)" opacity="0.84"/><circle cx="20.2" cy="361.6" r="1.2" fill="rgb(218,218,218)" opacity="0.70"/><circle cx="42.3" cy="216.6" r="0.7" fill="rgb(215,215,215)" opacity="0.64"/><circle cx="243.5" cy="190.3" r="1" fill="rgb(247,247,247)" opacity="0.75"/><circle cx="76.2" cy="187.2" r="0.8" fill="rgb(161,161,161)" opacity="0.88"/><circle cx="179.4" cy="165" r="0.7" fill="rgb(174,174,174)" opacity="0.87"/><circle cx="267.9" cy="399.9" r="0.9" fill="rgb(188,188,188)" opacity="0.68"/><circle cx="127.3" cy="165.9" r="0.7" fill="rgb(186,186,186)" opacity="0.65"/><circle cx="125.5" cy="166.1" r="1.1" fill="rgb(249,249,249)" opacity="0.85"/><circle cx="54.6" cy="202.5" r="1.1" fill="rgb(185,185,185)" opacity="0.67"/><circle cx="58.1" cy="416.8" r="1.1" fill="rgb(153,153,153)" opacity="0.86"/><circle cx="110.5" cy="171.2" r="0.7" fill="rgb(201,201,201)" opacity="0.74"/><circle cx="55.2" cy="202.9" r="1.1" fill="rgb(243,243,243)" opacity="0.69"/><circle cx="91.5" cy="177.3" r="0.8" fill="rgb(227,227,227)" opacity="0.66"/><circle cx="202.2" cy="445.9" r="0.6" fill="rgb(189,189,189)" opacity="0.85"/><circle cx="292.2" cy="255.8" r="0.9" fill="rgb(179,179,179)" opacity="0.83"/><circle cx="125.4" cy="166" r="1" fill="rgb(194,194,194)" opacity="0.97"/><circle cx="267.4" cy="402.9" r="1.1" fill="rgb(233,233,233)" opacity="0.71"/><circle cx="296.6" cy="347.3" r="0.6" fill="rgb(181,181,181)" opacity="0.87"/><circle cx="296.4" cy="341.7" r="0.8" fill="rgb(249,249,249)" opacity="0.97"/><circle cx="155.3" cy="161.7" r="0.8" fill="rgb(245,245,245)" opacity="0.85"/><circle cx="182.4" cy="452" r="0.9" fill="rgb(194,194,194)" opacity="0.98"/><circle cx="25.5" cy="375.7" r="1" fill="rgb(230,230,230)" opacity="0.85"/><circle cx="10.9" cy="300.4" r="1" fill="rgb(176,176,176)" opacity="0.77"/><circle cx="10.2" cy="297.4" r="1.1" fill="rgb(155,155,155)" opacity="0.98"/><circle cx="221.8" cy="178.9" r="0.9" fill="rgb(172,172,172)" opacity="0.82"/><circle cx="297.9" cy="280.6" r="0.7" fill="rgb(157,157,157)" opacity="0.67"/><circle cx="72.7" cy="426.9" r="0.7" fill="rgb(231,231,231)" opacity="0.72"/><circle cx="250.6" cy="418.1" r="0.7" fill="rgb(180,180,180)" opacity="0.60"/><circle cx="103.8" cy="173.6" r="0.7" fill="rgb(232,232,232)" opacity="0.74"/><circle cx="111.2" cy="447.2" r="0.9" fill="rgb(192,192,192)" opacity="0.85"/><circle cx="262.8" cy="406.3" r="0.9" fill="rgb(171,171,171)" opacity="0.87"/><circle cx="238.5" cy="429.8" r="0.8" fill="rgb(176,176,176)" opacity="0.65"/><circle cx="120.1" cy="449.2" r="0.8" fill="rgb(176,176,176)" opacity="0.62"/><circle cx="271" cy="219.8" r="0.8" fill="rgb(164,164,164)" opacity="0.66"/><circle cx="18.4" cy="357.6" r="0.9" fill="rgb(187,187,187)" opacity="0.67"/><circle cx="288.9" cy="372.8" r="1.1" fill="rgb(160,160,160)" opacity="0.90"/><circle cx="84.1" cy="435.2" r="1" fill="rgb(183,183,183)" opacity="0.64"/><circle cx="11" cy="318.4" r="0.9" fill="rgb(151,151,151)" opacity="0.74"/><circle cx="278.2" cy="387.1" r="0.8" fill="rgb(228,228,228)" opacity="0.97"/><circle cx="72.1" cy="189.2" r="0.7" fill="rgb(153,153,153)" opacity="0.61"/><circle cx="40.1" cy="397.6" r="0.7" fill="rgb(197,197,197)" opacity="0.67"/><circle cx="61" cy="196.5" r="0.7" fill="rgb(250,250,250)" opacity="0.89"/><circle cx="102.4" cy="442.1" r="1" fill="rgb(198,198,198)" opacity="0.67"/><circle cx="221.9" cy="179.1" r="0.9" fill="rgb(197,197,197)" opacity="0.94"/><circle cx="152.4" cy="454.5" r="0.6" fill="rgb(163,163,163)" opacity="0.83"/><circle cx="54.5" cy="203" r="1.1" fill="rgb(177,177,177)" opacity="0.80"/><circle cx="11.3" cy="308.7" r="0.7" fill="rgb(188,188,188)" opacity="0.84"/><circle cx="53.5" cy="204.2" r="0.7" fill="rgb(231,231,231)" opacity="0.99"/><circle cx="279.1" cy="386.2" r="0.6" fill="rgb(206,206,206)" opacity="0.79"/><circle cx="184.5" cy="450.8" r="1" fill="rgb(250,250,250)" opacity="0.80"/><circle cx="246.3" cy="422.3" r="0.6" fill="rgb(157,157,157)" opacity="0.81"/><circle cx="28.1" cy="377.2" r="1" fill="rgb(255,255,255)" opacity="0.67"/><circle cx="132.6" cy="163.9" r="0.8" fill="rgb(150,150,150)" opacity="0.78"/><circle cx="21.9" cy="252" r="0.7" fill="rgb(191,191,191)" opacity="0.81"/><circle cx="24.3" cy="371.8" r="0.9" fill="rgb(230,230,230)" opacity="0.95"/><circle cx="300.4" cy="284.8" r="1.1" fill="rgb(157,157,157)" opacity="0.89"/><circle cx="84.5" cy="434.9" r="1" fill="rgb(222,222,222)" opacity="0.83"/><circle cx="293.8" cy="266.1" r="0.8" fill="rgb(193,193,193)" opacity="0.81"/><circle cx="58.5" cy="199.8" r="1.1" fill="rgb(178,178,178)" opacity="0.87"/><circle cx="17.1" cy="355.9" r="0.8" fill="rgb(224,224,224)" opacity="0.98"/><circle cx="62.6" cy="420.9" r="0.7" fill="rgb(206,206,206)" opacity="0.76"/><circle cx="265.8" cy="404.5" r="0.9" fill="rgb(164,164,164)" opacity="0.69"/><circle cx="232.4" cy="182.9" r="1" fill="rgb(174,174,174)" opacity="0.81"/><circle cx="154.3" cy="452.8" r="0.7" fill="rgb(223,223,223)" opacity="0.88"/><circle cx="142.5" cy="163.3" r="1.1" fill="rgb(222,222,222)" opacity="0.63"/><circle cx="33.2" cy="388.2" r="1.1" fill="rgb(220,220,220)" opacity="0.80"/><circle cx="232.7" cy="184.4" r="1.2" fill="rgb(230,230,230)" opacity="1.00"/><circle cx="129.7" cy="163.9" r="0.8" fill="rgb(171,171,171)" opacity="0.99"/><circle cx="208.2" cy="445" r="0.9" fill="rgb(161,161,161)" opacity="0.65"/><circle cx="179.6" cy="164.2" r="0.8" fill="rgb(151,151,151)" opacity="0.88"/><circle cx="295.8" cy="268.2" r="0.9" fill="rgb(165,165,165)" opacity="0.88"/><circle cx="24.9" cy="373.9" r="1.1" fill="rgb(222,222,222)" opacity="0.65"/><circle cx="135.9" cy="164.9" r="0.8" fill="rgb(196,196,196)" opacity="0.90"/><circle cx="76.6" cy="430.5" r="1.1" fill="rgb(165,165,165)" opacity="0.70"/><circle cx="11.9" cy="296.4" r="0.9" fill="rgb(195,195,195)" opacity="0.89"/><circle cx="295.5" cy="347.5" r="0.9" fill="rgb(252,252,252)" opacity="0.84"/><circle cx="297.6" cy="339.2" r="1.1" fill="rgb(181,181,181)" opacity="0.70"/><circle cx="206.1" cy="443.3" r="0.9" fill="rgb(164,164,164)" opacity="0.92"/><circle cx="10.1" cy="319.3" r="0.6" fill="rgb(183,183,183)" opacity="0.67"/><circle cx="18.9" cy="259.8" r="0.8" fill="rgb(168,168,168)" opacity="0.84"/><circle cx="155.5" cy="455" r="1.2" fill="rgb(247,247,247)" opacity="0.92"/><circle cx="294.4" cy="262" r="0.7" fill="rgb(214,214,214)" opacity="0.79"/><circle cx="298.4" cy="337" r="1.1" fill="rgb(159,159,159)" opacity="0.67"/><circle cx="216.1" cy="176.3" r="0.9" fill="rgb(170,170,170)" opacity="0.88"/><circle cx="18.4" cy="354.3" r="0.7" fill="rgb(228,228,228)" opacity="0.81"/><circle cx="62.7" cy="419.3" r="0.7" fill="rgb(229,229,229)" opacity="0.62"/><circle cx="226" cy="435.6" r="0.8" fill="rgb(209,209,209)" opacity="0.73"/><circle cx="12.4" cy="337.1" r="0.8" fill="rgb(211,211,211)" opacity="0.73"/><circle cx="299.7" cy="327" r="0.9" fill="rgb(227,227,227)" opacity="0.62"/><circle cx="244.1" cy="423.5" r="0.8" fill="rgb(214,214,214)" opacity="1.00"/><circle cx="65.6" cy="421.8" r="0.9" fill="rgb(224,224,224)" opacity="0.98"/><circle cx="302" cy="301.1" r="1.1" fill="rgb(175,175,175)" opacity="0.91"/><circle cx="58" cy="200.2" r="1" fill="rgb(196,196,196)" opacity="0.92"/><circle cx="194.6" cy="168" r="0.7" fill="rgb(159,159,159)" opacity="0.72"/><circle cx="168" cy="161.9" r="1" fill="rgb(215,215,215)" opacity="0.94"/><circle cx="160.1" cy="454.6" r="0.8" fill="rgb(240,240,240)" opacity="0.73"/><circle cx="91.5" cy="437.9" r="1.2" fill="rgb(211,211,211)" opacity="0.80"/><circle cx="271" cy="217.9" r="0.7" fill="rgb(176,176,176)" opacity="0.60"/><circle cx="254.2" cy="204.7" r="0.9" fill="rgb(207,207,207)" opacity="0.76"/><circle cx="176.2" cy="163.3" r="0.7" fill="rgb(242,242,242)" opacity="0.72"/><circle cx="134.5" cy="164.8" r="0.9" fill="rgb(193,193,193)" opacity="0.63"/><circle cx="209.4" cy="444.5" r="0.8" fill="rgb(195,195,195)" opacity="0.99"/><circle cx="65.4" cy="421.8" r="1.1" fill="rgb(204,204,204)" opacity="0.89"/><circle cx="284.4" cy="239.6" r="0.7" fill="rgb(182,182,182)" opacity="0.82"/><circle cx="163.4" cy="163.6" r="1" fill="rgb(180,180,180)" opacity="0.88"/><circle cx="184.4" cy="450.5" r="1" fill="rgb(214,214,214)" opacity="0.86"/><circle cx="203.6" cy="446" r="1" fill="rgb(166,166,166)" opacity="0.84"/><circle cx="284" cy="378.1" r="0.8" fill="rgb(167,167,167)" opacity="0.60"/><circle cx="137.1" cy="451.1" r="1" fill="rgb(151,151,151)" opacity="0.86"/><circle cx="284.6" cy="240.5" r="1" fill="rgb(233,233,233)" opacity="0.79"/><circle cx="42.9" cy="215.3" r="1.1" fill="rgb(172,172,172)" opacity="0.62"/><circle cx="29.9" cy="383.5" r="0.8" fill="rgb(213,213,213)" opacity="1.00"/><circle cx="38" cy="394.3" r="1.2" fill="rgb(151,151,151)" opacity="0.61"/><circle cx="96.5" cy="440.8" r="0.8" fill="rgb(240,240,240)" opacity="0.89"/><circle cx="86.5" cy="435.7" r="0.7" fill="rgb(169,169,169)" opacity="0.68"/><circle cx="12.3" cy="281.4" r="0.8" fill="rgb(194,194,194)" opacity="0.82"/><circle cx="32.7" cy="231.8" r="0.9" fill="rgb(234,234,234)" opacity="0.99"/><circle cx="25.9" cy="242.2" r="1.1" fill="rgb(211,211,211)" opacity="0.91"/><circle cx="179.5" cy="163.6" r="0.8" fill="rgb(248,248,248)" opacity="0.82"/><circle cx="116.5" cy="168.9" r="0.9" fill="rgb(185,185,185)" opacity="0.65"/><circle cx="300.7" cy="316.5" r="0.9" fill="rgb(233,233,233)" opacity="0.92"/><circle cx="300.3" cy="287.1" r="0.8" fill="rgb(161,161,161)" opacity="0.97"/><circle cx="51.9" cy="205" r="0.7" fill="rgb(219,219,219)" opacity="0.80"/><circle cx="18.1" cy="258.5" r="0.8" fill="rgb(169,169,169)" opacity="0.96"/><circle cx="257" cy="201.5" r="1.1" fill="rgb(249,249,249)" opacity="0.66"/><circle cx="298.9" cy="334.7" r="1.2" fill="rgb(213,213,213)" opacity="0.69"/><circle cx="279.2" cy="232.5" r="1.1" fill="rgb(199,199,199)" opacity="0.78"/><circle cx="90.5" cy="438.7" r="1" fill="rgb(158,158,158)" opacity="0.92"/><circle cx="280.1" cy="233.3" r="1" fill="rgb(194,194,194)" opacity="0.62"/><circle cx="23.3" cy="251.8" r="1.2" fill="rgb(230,230,230)" opacity="0.94"/><circle cx="299.4" cy="336.4" r="0.6" fill="rgb(240,240,240)" opacity="0.77"/><circle cx="172.7" cy="453.2" r="1" fill="rgb(188,188,188)" opacity="0.95"/><circle cx="8.9" cy="309.6" r="1.2" fill="rgb(251,251,251)" opacity="0.66"/><circle cx="250.9" cy="197.7" r="1.1" fill="rgb(255,255,255)" opacity="0.72"/><circle cx="278.9" cy="384.8" r="0.6" fill="rgb(181,181,181)" opacity="0.66"/><circle cx="96.3" cy="176.2" r="0.9" fill="rgb(250,250,250)" opacity="0.68"/><circle cx="263.6" cy="211.4" r="0.8" fill="rgb(249,249,249)" opacity="0.91"/><circle cx="21.1" cy="362.5" r="1.2" fill="rgb(237,237,237)" opacity="0.61"/><circle cx="267" cy="402.3" r="1.2" fill="rgb(151,151,151)" opacity="0.65"/><circle cx="108.6" cy="445.2" r="1.1" fill="rgb(209,209,209)" opacity="0.87"/><circle cx="278.4" cy="386.4" r="0.8" fill="rgb(235,235,235)" opacity="0.89"/><circle cx="263.1" cy="209.9" r="0.7" fill="rgb(251,251,251)" opacity="0.85"/><circle cx="300.5" cy="322.3" r="0.7" fill="rgb(226,226,226)" opacity="0.69"/><circle cx="23.7" cy="369.9" r="1.2" fill="rgb(190,190,190)" opacity="0.63"/><circle cx="267.7" cy="401.4" r="1.2" fill="rgb(167,167,167)" opacity="0.81"/><circle cx="301.3" cy="310.7" r="1" fill="rgb(219,219,219)" opacity="0.80"/><circle cx="267.2" cy="403.3" r="0.8" fill="rgb(213,213,213)" opacity="0.98"/><circle cx="285.7" cy="377" r="1.2" fill="rgb(178,178,178)" opacity="0.89"/><circle cx="134.8" cy="452" r="0.7" fill="rgb(183,183,183)" opacity="0.71"/><circle cx="298" cy="277.7" r="1.1" fill="rgb(196,196,196)" opacity="0.71"/><circle cx="89" cy="437.9" r="0.6" fill="rgb(208,208,208)" opacity="0.82"/><circle cx="17.8" cy="264.6" r="1.1" fill="rgb(241,241,241)" opacity="0.71"/><circle cx="29.2" cy="375.8" r="0.9" fill="rgb(199,199,199)" opacity="0.99"/><circle cx="279.4" cy="462" r="1.4" fill="rgb(170,170,170)" opacity="0.77"/><circle cx="125.3" cy="93.8" r="1.4" fill="rgb(195,195,195)" opacity="0.90"/><circle cx="326" cy="406.2" r="1.2" fill="rgb(221,221,221)" opacity="0.91"/><circle cx="58.8" cy="483.5" r="1.1" fill="rgb(240,240,240)" opacity="0.90"/><circle cx="28.3" cy="134.4" r="1" fill="rgb(213,213,213)" opacity="0.88"/><circle cx="356.1" cy="292.2" r="1.2" fill="rgb(218,218,218)" opacity="0.81"/><circle cx="341.9" cy="381.2" r="1.4" fill="rgb(204,204,204)" opacity="0.88"/><circle cx="61" cy="114.3" r="1.1" fill="rgb(198,198,198)" opacity="0.98"/><circle cx="171" cy="90.7" r="0.8" fill="rgb(230,230,230)" opacity="0.96"/><circle cx="34" cy="466.5" r="1.4" fill="rgb(178,178,178)" opacity="0.98"/><circle cx="247.5" cy="482.6" r="1.1" fill="rgb(253,253,253)" opacity="0.96"/><circle cx="346.7" cy="354.1" r="0.9" fill="rgb(224,224,224)" opacity="0.74"/><circle cx="267.5" cy="469.3" r="0.9" fill="rgb(236,236,236)" opacity="0.86"/><circle cx="321.3" cy="405.1" r="1.2" fill="rgb(227,227,227)" opacity="0.89"/><circle cx="125.7" cy="89.8" r="0.8" fill="rgb(236,236,236)" opacity="0.74"/><circle cx="64.5" cy="112.9" r="0.8" fill="rgb(217,217,217)" opacity="0.86"/><circle cx="216.8" cy="101.2" r="0.8" fill="rgb(241,241,241)" opacity="0.76"/><circle cx="110.2" cy="95.7" r="0.9" fill="rgb(211,211,211)" opacity="0.78"/><circle cx="327.6" cy="410.3" r="0.9" fill="rgb(217,217,217)" opacity="0.98"/><circle cx="108.6" cy="93.1" r="0.9" fill="rgb(175,175,175)" opacity="0.91"/><circle cx="94.1" cy="495.6" r="1.3" fill="rgb(215,215,215)" opacity="0.77"/><circle cx="272" cy="130.1" r="0.7" fill="rgb(249,249,249)" opacity="0.76"/><circle cx="352.3" cy="262" r="1.1" fill="rgb(212,212,212)" opacity="0.96"/><circle cx="329.2" cy="397.8" r="1" fill="rgb(220,220,220)" opacity="0.86"/><circle cx="351.6" cy="331.9" r="1.1" fill="rgb(229,229,229)" opacity="0.98"/><circle cx="90.4" cy="106.9" r="0.8" fill="rgb(178,178,178)" opacity="0.83"/><circle cx="138.8" cy="94.8" r="1" fill="rgb(175,175,175)" opacity="0.98"/><circle cx="95.3" cy="497.3" r="1" fill="rgb(181,181,181)" opacity="0.77"/><circle cx="333.8" cy="396.2" r="1.3" fill="rgb(183,183,183)" opacity="0.85"/><circle cx="269.8" cy="129.8" r="1.3" fill="rgb(195,195,195)" opacity="0.91"/><circle cx="343.3" cy="368.6" r="1.1" fill="rgb(222,222,222)" opacity="0.95"/><circle cx="291.9" cy="151.1" r="0.8" fill="rgb(212,212,212)" opacity="0.76"/><circle cx="355.6" cy="275.8" r="1" fill="rgb(181,181,181)" opacity="0.79"/><circle cx="279.3" cy="140.2" r="1" fill="rgb(176,176,176)" opacity="0.79"/><circle cx="2.9" cy="439.1" r="0.9" fill="rgb(186,186,186)" opacity="0.72"/><circle cx="8.6" cy="445" r="1.1" fill="rgb(216,216,216)" opacity="0.98"/><circle cx="39" cy="472.9" r="1" fill="rgb(241,241,241)" opacity="0.90"/><circle cx="124.3" cy="93.1" r="1.4" fill="rgb(211,211,211)" opacity="0.71"/><circle cx="189.8" cy="502.3" r="1" fill="rgb(195,195,195)" opacity="0.91"/><circle cx="216.8" cy="104.7" r="1.4" fill="rgb(226,226,226)" opacity="0.76"/><circle cx="210.1" cy="496.1" r="0.8" fill="rgb(251,251,251)" opacity="0.74"/><circle cx="286.2" cy="457.8" r="1" fill="rgb(171,171,171)" opacity="0.98"/><circle cx="214.4" cy="105" r="1.2" fill="rgb(207,207,207)" opacity="0.94"/><circle cx="262.2" cy="473.5" r="1" fill="rgb(229,229,229)" opacity="0.73"/><circle cx="194.2" cy="99.5" r="1.4" fill="rgb(223,223,223)" opacity="0.77"/><circle cx="253.5" cy="120.3" r="1" fill="rgb(177,177,177)" opacity="0.98"/><circle cx="286.9" cy="451.5" r="0.8" fill="rgb(227,227,227)" opacity="0.79"/><circle cx="268.1" cy="470.6" r="1.3" fill="rgb(189,189,189)" opacity="0.98"/><circle cx="47.5" cy="121.3" r="0.8" fill="rgb(174,174,174)" opacity="0.80"/><circle cx="264.8" cy="470.4" r="1.2" fill="rgb(195,195,195)" opacity="0.84"/><circle cx="122.7" cy="91.4" r="1" fill="rgb(221,221,221)" opacity="0.73"/><circle cx="249.4" cy="114.1" r="1.4" fill="rgb(237,237,237)" opacity="0.86"/><circle cx="98.4" cy="502" r="0.9" fill="rgb(233,233,233)" opacity="0.97"/><circle cx="326.5" cy="191.1" r="0.9" fill="rgb(244,244,244)" opacity="0.86"/><circle cx="326.3" cy="408.9" r="0.8" fill="rgb(204,204,204)" opacity="0.93"/><circle cx="170.6" cy="91" r="0.9" fill="rgb(244,244,244)" opacity="0.88"/><circle cx="350.4" cy="257.1" r="0.9" fill="rgb(189,189,189)" opacity="0.90"/><circle cx="345" cy="362.7" r="0.8" fill="rgb(216,216,216)" opacity="0.75"/><circle cx="199.5" cy="96.1" r="0.9" fill="rgb(178,178,178)" opacity="0.92"/><circle cx="258.9" cy="474" r="0.9" fill="rgb(174,174,174)" opacity="0.71"/><circle cx="290.5" cy="452.7" r="1.1" fill="rgb(215,215,215)" opacity="0.72"/><circle cx="122.3" cy="94.2" r="1.1" fill="rgb(181,181,181)" opacity="0.80"/><circle cx="262.4" cy="127.3" r="1.3" fill="rgb(231,231,231)" opacity="0.79"/><circle cx="268.7" cy="469.5" r="0.9" fill="rgb(239,239,239)" opacity="0.74"/><circle cx="13.2" cy="453.1" r="0.8" fill="rgb(186,186,186)" opacity="0.97"/><circle cx="120.7" cy="92.5" r="1.1" fill="rgb(200,200,200)" opacity="0.97"/><circle cx="357" cy="318.8" r="1.2" fill="rgb(243,243,243)" opacity="0.76"/><circle cx="142.9" cy="92.9" r="0.7" fill="rgb(191,191,191)" opacity="0.75"/><circle cx="97.4" cy="499.4" r="1.1" fill="rgb(199,199,199)" opacity="0.77"/><circle cx="182.9" cy="95" r="1" fill="rgb(177,177,177)" opacity="0.95"/><circle cx="334.4" cy="390.5" r="0.8" fill="rgb(192,192,192)" opacity="0.94"/><circle cx="38.5" cy="472.9" r="1.3" fill="rgb(229,229,229)" opacity="0.88"/><circle cx="234.3" cy="486.2" r="1.2" fill="rgb(174,174,174)" opacity="0.73"/><circle cx="130.2" cy="93.5" r="0.9" fill="rgb(187,187,187)" opacity="0.76"/><circle cx="332.8" cy="205.3" r="1.2" fill="rgb(178,178,178)" opacity="1.00"/><circle cx="203.4" cy="101.1" r="1.2" fill="rgb(178,178,178)" opacity="0.93"/><circle cx="16.6" cy="142.3" r="0.8" fill="rgb(250,250,250)" opacity="0.72"/><circle cx="16.3" cy="452.1" r="1.4" fill="rgb(244,244,244)" opacity="0.75"/><circle cx="352.6" cy="254.5" r="1.2" fill="rgb(233,233,233)" opacity="0.74"/><circle cx="249.7" cy="113.4" r="1.2" fill="rgb(245,245,245)" opacity="0.75"/><circle cx="18.8" cy="138.2" r="1.2" fill="rgb(245,245,245)" opacity="0.86"/><circle cx="343.5" cy="230.3" r="0.7" fill="rgb(202,202,202)" opacity="0.93"/><circle cx="268.9" cy="129.5" r="1.1" fill="rgb(233,233,233)" opacity="0.87"/><circle cx="340.4" cy="213.7" r="1.3" fill="rgb(176,176,176)" opacity="0.82"/><circle cx="194.4" cy="95.9" r="1.4" fill="rgb(218,218,218)" opacity="0.82"/><circle cx="323.8" cy="405.3" r="1.1" fill="rgb(213,213,213)" opacity="0.90"/><circle cx="318.8" cy="182.5" r="0.9" fill="rgb(247,247,247)" opacity="0.70"/><circle cx="309" cy="432" r="1.3" fill="rgb(223,223,223)" opacity="0.82"/><circle cx="87.9" cy="497.4" r="0.7" fill="rgb(220,220,220)" opacity="0.95"/><circle cx="97" cy="500" r="1.2" fill="rgb(226,226,226)" opacity="0.82"/><circle cx="3.7" cy="446.5" r="1.3" fill="rgb(219,219,219)" opacity="0.78"/><circle cx="348" cy="244.9" r="1.3" fill="rgb(248,248,248)" opacity="0.96"/><circle cx="350.7" cy="247.9" r="0.9" fill="rgb(210,210,210)" opacity="0.99"/><circle cx="250.4" cy="118.1" r="0.8" fill="rgb(237,237,237)" opacity="0.70"/><circle cx="275.8" cy="133.4" r="1.1" fill="rgb(254,254,254)" opacity="0.78"/><circle cx="27.6" cy="465.4" r="0.7" fill="rgb(240,240,240)" opacity="0.92"/><circle cx="155" cy="92.5" r="1.2" fill="rgb(202,202,202)" opacity="0.90"/><circle cx="332.4" cy="393.6" r="1.1" fill="rgb(226,226,226)" opacity="0.78"/><circle cx="93" cy="496.5" r="1.2" fill="rgb(236,236,236)" opacity="0.94"/><circle cx="344.2" cy="375.8" r="1.1" fill="rgb(233,233,233)" opacity="0.81"/><circle cx="356.9" cy="267.7" r="1.2" fill="rgb(241,241,241)" opacity="0.81"/><circle cx="73.7" cy="492" r="1" fill="rgb(189,189,189)" opacity="0.92"/><circle cx="150.8" cy="90.4" r="0.8" fill="rgb(204,204,204)" opacity="0.74"/><circle cx="147.6" cy="91.5" r="1.1" fill="rgb(205,205,205)" opacity="0.89"/><circle cx="18.3" cy="138.2" r="1" fill="rgb(216,216,216)" opacity="0.91"/><circle cx="246" cy="113.3" r="1.2" fill="rgb(214,214,214)" opacity="0.97"/><circle cx="213.5" cy="496.4" r="0.9" fill="rgb(236,236,236)" opacity="0.75"/><circle cx="73.4" cy="489.9" r="0.7" fill="rgb(208,208,208)" opacity="0.99"/><circle cx="185.4" cy="96.7" r="0.9" fill="rgb(230,230,230)" opacity="0.76"/><circle cx="61.8" cy="487.7" r="1" fill="rgb(183,183,183)" opacity="0.90"/><circle cx="19.4" cy="456" r="1" fill="rgb(184,184,184)" opacity="0.76"/><circle cx="325.7" cy="185.2" r="1" fill="rgb(222,222,222)" opacity="0.89"/><circle cx="187.6" cy="95.8" r="1.2" fill="rgb(230,230,230)" opacity="0.90"/><circle cx="270.1" cy="129.3" r="1" fill="rgb(179,179,179)" opacity="0.78"/><circle cx="16.4" cy="457.7" r="0.9" fill="rgb(250,250,250)" opacity="0.74"/><circle cx="352.7" cy="314.1" r="0.9" fill="rgb(247,247,247)" opacity="0.98"/><circle cx="155.8" cy="91.1" r="1.2" fill="rgb(222,222,222)" opacity="0.95"/><circle cx="102" cy="97" r="0.8" fill="rgb(251,251,251)" opacity="0.92"/><circle cx="302" cy="438.3" r="1" fill="rgb(213,213,213)" opacity="0.82"/><circle cx="102" cy="94.8" r="0.8" fill="rgb(236,236,236)" opacity="0.82"/><circle cx="334.7" cy="207.8" r="1.2" fill="rgb(222,222,222)" opacity="0.72"/><circle cx="357.2" cy="303.1" r="1.1" fill="rgb(200,200,200)" opacity="0.87"/><circle cx="265.6" cy="128.2" r="1.2" fill="rgb(186,186,186)" opacity="0.75"/><circle cx="54" cy="116.6" r="1.3" fill="rgb(174,174,174)" opacity="0.92"/><circle cx="238.5" cy="114.2" r="1.1" fill="rgb(206,206,206)" opacity="0.74"/><circle cx="92.9" cy="101.2" r="0.9" fill="rgb(178,178,178)" opacity="0.93"/><circle cx="77.3" cy="489.5" r="0.9" fill="rgb(242,242,242)" opacity="0.99"/><circle cx="216.4" cy="104.7" r="0.7" fill="rgb(211,211,211)" opacity="0.77"/><circle cx="168.8" cy="94.8" r="1.4" fill="rgb(245,245,245)" opacity="0.87"/><circle cx="223.6" cy="104.6" r="0.7" fill="rgb(229,229,229)" opacity="0.73"/><circle cx="183.6" cy="502.2" r="0.9" fill="rgb(242,242,242)" opacity="0.77"/><circle cx="238.4" cy="112.8" r="1.1" fill="rgb(173,173,173)" opacity="0.77"/><circle cx="248.5" cy="486.5" r="1.3" fill="rgb(204,204,204)" opacity="0.83"/><circle cx="338.3" cy="378.1" r="1.1" fill="rgb(221,221,221)" opacity="0.82"/><circle cx="345.7" cy="241.3" r="1" fill="rgb(255,255,255)" opacity="0.96"/><circle cx="357.5" cy="293.4" r="0.9" fill="rgb(202,202,202)" opacity="0.72"/><circle cx="286" cy="451.2" r="1.2" fill="rgb(228,228,228)" opacity="0.76"/><circle cx="308.6" cy="433.8" r="0.7" fill="rgb(236,236,236)" opacity="0.70"/><circle cx="186.6" cy="92.5" r="1.2" fill="rgb(195,195,195)" opacity="0.93"/><circle cx="212.9" cy="496.5" r="0.9" fill="rgb(172,172,172)" opacity="0.98"/><circle cx="116.4" cy="98.5" r="1.2" fill="rgb(178,178,178)" opacity="0.81"/><circle cx="147.6" cy="94.3" r="1.1" fill="rgb(241,241,241)" opacity="0.81"/><circle cx="254.9" cy="473" r="0.9" fill="rgb(175,175,175)" opacity="0.92"/><circle cx="78.6" cy="109.8" r="1" fill="rgb(173,173,173)" opacity="0.94"/><circle cx="267.7" cy="469.8" r="1.2" fill="rgb(230,230,230)" opacity="0.85"/><circle cx="328.2" cy="401.4" r="1.3" fill="rgb(186,186,186)" opacity="0.95"/><circle cx="36.6" cy="125.9" r="1.4" fill="rgb(194,194,194)" opacity="0.91"/><circle cx="345.8" cy="228.6" r="1.2" fill="rgb(219,219,219)" opacity="0.75"/><circle cx="313.9" cy="173.7" r="1" fill="rgb(187,187,187)" opacity="0.70"/><circle cx="196.6" cy="499.2" r="0.7" fill="rgb(181,181,181)" opacity="0.84"/><circle cx="347.6" cy="354.3" r="1.3" fill="rgb(238,238,238)" opacity="0.97"/><circle cx="279.4" cy="139.2" r="1" fill="rgb(251,251,251)" opacity="0.97"/><circle cx="357.7" cy="308.6" r="0.8" fill="rgb(215,215,215)" opacity="0.81"/><circle cx="313.1" cy="424.4" r="0.8" fill="rgb(228,228,228)" opacity="0.87"/><circle cx="330.5" cy="200.1" r="1.2" fill="rgb(226,226,226)" opacity="0.93"/><circle cx="249.2" cy="476.7" r="1.1" fill="rgb(200,200,200)" opacity="0.92"/><circle cx="300.6" cy="438" r="1" fill="rgb(218,218,218)" opacity="0.72"/><circle cx="199.8" cy="96.8" r="1.2" fill="rgb(174,174,174)" opacity="0.77"/><circle cx="320.8" cy="187.1" r="0.8" fill="rgb(170,170,170)" opacity="0.71"/><circle cx="346.7" cy="361.4" r="0.8" fill="rgb(175,175,175)" opacity="0.98"/><circle cx="16.3" cy="137.4" r="1.3" fill="rgb(203,203,203)" opacity="0.71"/><circle cx="163.3" cy="91.8" r="1.3" fill="rgb(182,182,182)" opacity="0.76"/><circle cx="223.3" cy="104.1" r="0.7" fill="rgb(218,218,218)" opacity="0.97"/><circle cx="357.8" cy="302" r="1.3" fill="rgb(241,241,241)" opacity="0.89"/><circle cx="325.1" cy="403.9" r="1.2" fill="rgb(238,238,238)" opacity="0.72"/><circle cx="343.3" cy="367.9" r="1.1" fill="rgb(207,207,207)" opacity="0.84"/><circle cx="53.6" cy="118.2" r="0.8" fill="rgb(234,234,234)" opacity="0.94"/><circle cx="298" cy="442.2" r="1" fill="rgb(184,184,184)" opacity="0.88"/><circle cx="325.7" cy="405.4" r="1" fill="rgb(182,182,182)" opacity="0.73"/><circle cx="321.3" cy="407.8" r="0.9" fill="rgb(209,209,209)" opacity="0.93"/><circle cx="271.4" cy="461.6" r="1.2" fill="rgb(170,170,170)" opacity="0.72"/><circle cx="345.4" cy="354.1" r="1.2" fill="rgb(246,246,246)" opacity="0.76"/><circle cx="201" cy="499.9" r="0.7" fill="rgb(172,172,172)" opacity="0.95"/><circle cx="109" cy="99.5" r="0.7" fill="rgb(187,187,187)" opacity="0.95"/><circle cx="342.1" cy="226.4" r="1" fill="rgb(187,187,187)" opacity="0.78"/><circle cx="87.3" cy="494.8" r="0.7" fill="rgb(226,226,226)" opacity="0.75"/><circle cx="345.8" cy="230.5" r="1.1" fill="rgb(230,230,230)" opacity="0.93"/><circle cx="258.9" cy="119.4" r="0.9" fill="rgb(201,201,201)" opacity="0.70"/><circle cx="41.3" cy="471.9" r="1.3" fill="rgb(170,170,170)" opacity="0.93"/><circle cx="182.9" cy="95" r="1.3" fill="rgb(180,180,180)" opacity="0.86"/><circle cx="313.7" cy="426.2" r="1.1" fill="rgb(216,216,216)" opacity="0.72"/><circle cx="297.8" cy="441.5" r="1" fill="rgb(197,197,197)" opacity="0.86"/><circle cx="32.9" cy="134.9" r="1" fill="rgb(236,236,236)" opacity="0.91"/><circle cx="350.7" cy="257.1" r="0.7" fill="rgb(197,197,197)" opacity="0.77"/><circle cx="157.6" cy="89.9" r="1" fill="rgb(185,185,185)" opacity="1.00"/><circle cx="241.8" cy="482.5" r="1" fill="rgb(191,191,191)" opacity="0.91"/><circle cx="145.9" cy="92" r="0.8" fill="rgb(173,173,173)" opacity="0.73"/><circle cx="286.9" cy="145.8" r="1.1" fill="rgb(249,249,249)" opacity="0.99"/><circle cx="25" cy="138.6" r="1.1" fill="rgb(220,220,220)" opacity="0.79"/><circle cx="338.4" cy="379.4" r="0.7" fill="rgb(171,171,171)" opacity="0.72"/><circle cx="331.6" cy="391.1" r="1.1" fill="rgb(235,235,235)" opacity="0.91"/><circle cx="176" cy="93.2" r="0.9" fill="rgb(222,222,222)" opacity="0.91"/><circle cx="246.5" cy="483" r="1.4" fill="rgb(182,182,182)" opacity="0.96"/><circle cx="195.3" cy="95.9" r="0.9" fill="rgb(212,212,212)" opacity="0.78"/><circle cx="356.4" cy="311.8" r="0.8" fill="rgb(181,181,181)" opacity="0.75"/><circle cx="41.6" cy="126.7" r="0.8" fill="rgb(188,188,188)" opacity="0.84"/><circle cx="256.7" cy="123.3" r="0.7" fill="rgb(202,202,202)" opacity="0.90"/><circle cx="355.8" cy="318.3" r="1.3" fill="rgb(186,186,186)" opacity="0.98"/><circle cx="25.6" cy="461.4" r="0.9" fill="rgb(202,202,202)" opacity="0.81"/><circle cx="253.8" cy="477.7" r="1.1" fill="rgb(201,201,201)" opacity="0.97"/><circle cx="254.6" cy="478" r="0.7" fill="rgb(253,253,253)" opacity="0.76"/><circle cx="189.8" cy="498" r="0.9" fill="rgb(216,216,216)" opacity="0.77"/><circle cx="311.3" cy="170" r="0.7" fill="rgb(218,218,218)" opacity="0.95"/><circle cx="351.7" cy="336.9" r="1" fill="rgb(232,232,232)" opacity="0.73"/><circle cx="302.6" cy="438.8" r="1" fill="rgb(192,192,192)" opacity="0.97"/><circle cx="344.4" cy="372.5" r="1" fill="rgb(231,231,231)" opacity="0.92"/><circle cx="277.5" cy="140.4" r="0.7" fill="rgb(225,225,225)" opacity="0.86"/><circle cx="328.4" cy="402" r="1" fill="rgb(186,186,186)" opacity="0.72"/><circle cx="66" cy="488.2" r="0.9" fill="rgb(185,185,185)" opacity="0.91"/><circle cx="228.3" cy="107.4" r="1.3" fill="rgb(252,252,252)" opacity="0.84"/><circle cx="138.8" cy="93.7" r="1" fill="rgb(247,247,247)" opacity="0.74"/><circle cx="16.1" cy="454.5" r="0.9" fill="rgb(211,211,211)" opacity="0.92"/><circle cx="277.4" cy="139.4" r="0.8" fill="rgb(199,199,199)" opacity="0.70"/><circle cx="117.9" cy="98.1" r="0.9" fill="rgb(187,187,187)" opacity="0.95"/><circle cx="81.9" cy="495" r="0.9" fill="rgb(195,195,195)" opacity="0.98"/><circle cx="345.1" cy="233.1" r="0.8" fill="rgb(231,231,231)" opacity="0.81"/><circle cx="274.8" cy="134.2" r="0.8" fill="rgb(197,197,197)" opacity="0.76"/><circle cx="75.6" cy="491.8" r="1.4" fill="rgb(211,211,211)" opacity="0.71"/><circle cx="240.6" cy="483.6" r="1" fill="rgb(172,172,172)" opacity="0.87"/><circle cx="176.8" cy="93.4" r="0.8" fill="rgb(203,203,203)" opacity="0.88"/><circle cx="120.9" cy="500.3" r="1.4" fill="rgb(187,187,187)" opacity="0.87"/><circle cx="307.6" cy="162.3" r="0.7" fill="rgb(199,199,199)" opacity="0.83"/><circle cx="331.7" cy="399.6" r="0.8" fill="rgb(242,242,242)" opacity="0.90"/><circle cx="280.1" cy="141.9" r="1.4" fill="rgb(204,204,204)" opacity="0.99"/><circle cx="102.2" cy="96.3" r="1.3" fill="rgb(172,172,172)" opacity="0.97"/><circle cx="337.2" cy="388.2" r="1.2" fill="rgb(192,192,192)" opacity="0.96"/><circle cx="222.7" cy="105.8" r="1.1" fill="rgb(235,235,235)" opacity="0.87"/><circle cx="63.5" cy="111.8" r="0.9" fill="rgb(236,236,236)" opacity="0.99"/><circle cx="224.4" cy="495.9" r="1.1" fill="rgb(193,193,193)" opacity="0.96"/><circle cx="350.1" cy="242.8" r="1.1" fill="rgb(222,222,222)" opacity="0.81"/><circle cx="139.8" cy="92.9" r="1.1" fill="rgb(230,230,230)" opacity="0.76"/><circle cx="53.6" cy="483.1" r="0.9" fill="rgb(252,252,252)" opacity="0.97"/><circle cx="56.6" cy="488.3" r="0.7" fill="rgb(196,196,196)" opacity="0.86"/><circle cx="287.6" cy="453.3" r="1.2" fill="rgb(218,218,218)" opacity="0.90"/><circle cx="172.5" cy="94.9" r="0.7" fill="rgb(198,198,198)" opacity="0.89"/><circle cx="300.7" cy="155.1" r="1.3" fill="rgb(248,248,248)" opacity="0.83"/><circle cx="333.2" cy="396.9" r="1.1" fill="rgb(212,212,212)" opacity="0.87"/><circle cx="25" cy="461.6" r="0.8" fill="rgb(231,231,231)" opacity="0.91"/><circle cx="60.4" cy="115.4" r="1.2" fill="rgb(220,220,220)" opacity="0.81"/><circle cx="350.7" cy="250.6" r="1.1" fill="rgb(251,251,251)" opacity="0.77"/><circle cx="175.1" cy="95.9" r="1.1" fill="rgb(190,190,190)" opacity="0.95"/><circle cx="272.1" cy="129.9" r="0.8" fill="rgb(171,171,171)" opacity="0.88"/><circle cx="258" cy="121.7" r="0.7" fill="rgb(201,201,201)" opacity="0.70"/><circle cx="358.2" cy="282.2" r="0.7" fill="rgb(184,184,184)" opacity="0.72"/><circle cx="325.7" cy="408.6" r="0.7" fill="rgb(214,214,214)" opacity="0.80"/><circle cx="328.7" cy="403.5" r="0.8" fill="rgb(181,181,181)" opacity="0.72"/><circle cx="345.9" cy="366.1" r="1.3" fill="rgb(212,212,212)" opacity="0.80"/><circle cx="229.2" cy="492.6" r="0.7" fill="rgb(189,189,189)" opacity="0.95"/><circle cx="93.2" cy="499.2" r="0.7" fill="rgb(230,230,230)" opacity="0.73"/><circle cx="224.6" cy="491.3" r="1.2" fill="rgb(199,199,199)" opacity="0.89"/><circle cx="242.5" cy="117.3" r="1" fill="rgb(225,225,225)" opacity="0.74"/><circle cx="222.9" cy="492" r="1.1" fill="rgb(200,200,200)" opacity="0.93"/><circle cx="352.5" cy="329.3" r="1.2" fill="rgb(228,228,228)" opacity="0.88"/><circle cx="318.1" cy="179.3" r="0.8" fill="rgb(209,209,209)" opacity="1.00"/><circle cx="316.1" cy="175.6" r="1" fill="rgb(213,213,213)" opacity="0.95"/><circle cx="107.8" cy="96.2" r="1.4" fill="rgb(209,209,209)" opacity="0.82"/><circle cx="67.8" cy="491.4" r="0.9" fill="rgb(211,211,211)" opacity="0.85"/><circle cx="272.1" cy="470.2" r="1" fill="rgb(195,195,195)" opacity="0.80"/><circle cx="195.4" cy="98.5" r="1.2" fill="rgb(216,216,216)" opacity="0.91"/><circle cx="39.7" cy="124.4" r="1.1" fill="rgb(225,225,225)" opacity="0.85"/><circle cx="66.2" cy="486.2" r="1" fill="rgb(223,223,223)" opacity="0.93"/><circle cx="11.8" cy="445.6" r="1.4" fill="rgb(249,249,249)" opacity="0.72"/><circle cx="175.8" cy="92.1" r="0.7" fill="rgb(205,205,205)" opacity="0.74"/><circle cx="281.2" cy="136.3" r="0.7" fill="rgb(249,249,249)" opacity="0.71"/><circle cx="39" cy="126.6" r="1.3" fill="rgb(254,254,254)" opacity="0.93"/><circle cx="322" cy="414.8" r="1.4" fill="rgb(176,176,176)" opacity="0.71"/><circle cx="323.1" cy="188.5" r="1.2" fill="rgb(210,210,210)" opacity="0.75"/><circle cx="253.5" cy="119.1" r="1.2" fill="rgb(224,224,224)" opacity="0.91"/><circle cx="17.3" cy="457.2" r="1.3" fill="rgb(228,228,228)" opacity="0.99"/><circle cx="302.9" cy="437.7" r="1.3" fill="rgb(219,219,219)" opacity="0.84"/><circle cx="351.2" cy="242.2" r="1.1" fill="rgb(206,206,206)" opacity="0.93"/><circle cx="149.7" cy="89" r="1.3" fill="rgb(232,232,232)" opacity="0.73"/><circle cx="230.3" cy="108.9" r="0.8" fill="rgb(230,230,230)" opacity="0.94"/><circle cx="81.6" cy="103" r="1.4" fill="rgb(248,248,248)" opacity="0.80"/><circle cx="246.5" cy="482.1" r="0.8" fill="rgb(223,223,223)" opacity="0.72"/><circle cx="354.4" cy="299.2" r="0.8" fill="rgb(214,214,214)" opacity="0.70"/><circle cx="168" cy="95.8" r="1.4" fill="rgb(211,211,211)" opacity="0.77"/><circle cx="67.3" cy="485.3" r="1.3" fill="rgb(216,216,216)" opacity="0.79"/><circle cx="0.5" cy="160.2" r="1.4" fill="rgb(171,171,171)" opacity="0.97"/><circle cx="14.7" cy="141.3" r="0.8" fill="rgb(252,252,252)" opacity="0.94"/><circle cx="353.7" cy="287" r="1.2" fill="rgb(189,189,189)" opacity="0.94"/><circle cx="259.7" cy="125.3" r="0.8" fill="rgb(239,239,239)" opacity="0.91"/><circle cx="51.5" cy="113.9" r="0.8" fill="rgb(210,210,210)" opacity="0.96"/><circle cx="283.4" cy="458.7" r="1.4" fill="rgb(239,239,239)" opacity="0.90"/><circle cx="348.2" cy="361" r="1" fill="rgb(213,213,213)" opacity="0.84"/><circle cx="149.6" cy="90.5" r="0.9" fill="rgb(178,178,178)" opacity="0.73"/><circle cx="56.6" cy="479.9" r="0.7" fill="rgb(173,173,173)" opacity="0.77"/><circle cx="338.6" cy="389.1" r="0.8" fill="rgb(229,229,229)" opacity="0.89"/><circle cx="73.7" cy="492.1" r="1" fill="rgb(218,218,218)" opacity="0.79"/><circle cx="11.8" cy="144.9" r="1.3" fill="rgb(209,209,209)" opacity="0.92"/><circle cx="28.9" cy="463.7" r="1.3" fill="rgb(246,246,246)" opacity="0.88"/><circle cx="247.9" cy="118.9" r="1" fill="rgb(255,255,255)" opacity="0.77"/><circle cx="203.9" cy="498.7" r="1.1" fill="rgb(254,254,254)" opacity="0.91"/><circle cx="296.4" cy="445.5" r="1.1" fill="rgb(225,225,225)" opacity="0.71"/><circle cx="290.2" cy="450.6" r="1.4" fill="rgb(193,193,193)" opacity="0.86"/><circle cx="238.9" cy="111.6" r="0.8" fill="rgb(247,247,247)" opacity="0.94"/><circle cx="190.4" cy="500.5" r="1.3" fill="rgb(225,225,225)" opacity="0.75"/><circle cx="16.2" cy="140.8" r="0.9" fill="rgb(212,212,212)" opacity="0.85"/><circle cx="353.8" cy="263.2" r="1" fill="rgb(234,234,234)" opacity="0.70"/><circle cx="291.6" cy="150.3" r="1.3" fill="rgb(191,191,191)" opacity="0.76"/><circle cx="323.3" cy="188.9" r="1.1" fill="rgb(184,184,184)" opacity="0.96"/><circle cx="17.9" cy="457.9" r="0.7" fill="rgb(234,234,234)" opacity="0.96"/><circle cx="105.6" cy="97.7" r="1.2" fill="rgb(197,197,197)" opacity="0.85"/><circle cx="337.1" cy="214.4" r="1.1" fill="rgb(173,173,173)" opacity="0.83"/><circle cx="40.9" cy="473.7" r="1.2" fill="rgb(200,200,200)" opacity="0.86"/><circle cx="243.7" cy="482.3" r="1.3" fill="rgb(244,244,244)" opacity="0.92"/><circle cx="307.3" cy="429.2" r="0.8" fill="rgb(224,224,224)" opacity="0.98"/><circle cx="345.5" cy="366.3" r="1.4" fill="rgb(226,226,226)" opacity="0.96"/><circle cx="291.2" cy="145.5" r="1" fill="rgb(210,210,210)" opacity="0.84"/><circle cx="19.9" cy="141.6" r="1.4" fill="rgb(213,213,213)" opacity="0.82"/><circle cx="114.5" cy="94" r="1.3" fill="rgb(215,215,215)" opacity="0.89"/><circle cx="83.8" cy="494.5" r="0.8" fill="rgb(197,197,197)" opacity="0.83"/><circle cx="278.6" cy="460" r="0.9" fill="rgb(223,223,223)" opacity="0.84"/><circle cx="348.8" cy="264.8" r="1" fill="rgb(195,195,195)" opacity="0.84"/><circle cx="338.8" cy="387.7" r="0.9" fill="rgb(220,220,220)" opacity="0.89"/><circle cx="254.7" cy="121" r="1.2" fill="rgb(231,231,231)" opacity="0.81"/><circle cx="10.7" cy="148.3" r="1.3" fill="rgb(221,221,221)" opacity="0.99"/><circle cx="146.6" cy="89.8" r="0.7" fill="rgb(188,188,188)" opacity="0.89"/><circle cx="61.8" cy="114.1" r="1.1" fill="rgb(198,198,198)" opacity="0.80"/><circle cx="344.7" cy="228.4" r="1.1" fill="rgb(221,221,221)" opacity="0.90"/><circle cx="356.5" cy="266.8" r="1.1" fill="rgb(231,231,231)" opacity="0.83"/><circle cx="203.7" cy="101" r="0.7" fill="rgb(202,202,202)" opacity="0.82"/><circle cx="196.9" cy="97.4" r="0.9" fill="rgb(216,216,216)" opacity="0.94"/><circle cx="7.9" cy="148.3" r="0.7" fill="rgb(212,212,212)" opacity="0.79"/><circle cx="332.7" cy="393.5" r="0.8" fill="rgb(187,187,187)" opacity="0.74"/><circle cx="129.6" cy="92.6" r="1.2" fill="rgb(183,183,183)" opacity="0.98"/><circle cx="333.4" cy="205.3" r="1" fill="rgb(194,194,194)" opacity="0.71"/><circle cx="11.5" cy="149.9" r="1.2" fill="rgb(192,192,192)" opacity="0.88"/><circle cx="354.4" cy="268.8" r="0.7" fill="rgb(172,172,172)" opacity="0.80"/><circle cx="80.8" cy="104.3" r="0.8" fill="rgb(229,229,229)" opacity="0.75"/><circle cx="236.3" cy="484.9" r="1.4" fill="rgb(216,216,216)" opacity="0.74"/><circle cx="277.6" cy="138.4" r="0.9" fill="rgb(222,222,222)" opacity="0.78"/><circle cx="95.1" cy="100.8" r="0.8" fill="rgb(193,193,193)" opacity="0.97"/><circle cx="206.1" cy="101.5" r="1" fill="rgb(249,249,249)" opacity="0.90"/><circle cx="349.6" cy="341.9" r="1" fill="rgb(243,243,243)" opacity="0.70"/><circle cx="41.2" cy="123.8" r="1" fill="rgb(188,188,188)" opacity="0.96"/><circle cx="326.5" cy="193.9" r="0.8" fill="rgb(219,219,219)" opacity="0.75"/><circle cx="26.7" cy="134.8" r="1" fill="rgb(235,235,235)" opacity="0.98"/><circle cx="264.6" cy="128.9" r="0.8" fill="rgb(218,218,218)" opacity="0.92"/><circle cx="353.4" cy="246.5" r="1.1" fill="rgb(210,210,210)" opacity="0.97"/><circle cx="225" cy="490.8" r="1.4" fill="rgb(197,197,197)" opacity="0.94"/><circle cx="200.2" cy="95.6" r="1.2" fill="rgb(210,210,210)" opacity="0.89"/><circle cx="215.3" cy="103.7" r="1.1" fill="rgb(205,205,205)" opacity="0.96"/><circle cx="357.5" cy="284.3" r="1" fill="rgb(175,175,175)" opacity="0.74"/><circle cx="165" cy="96" r="1.1" fill="rgb(224,224,224)" opacity="0.91"/><circle cx="354.2" cy="304.6" r="1.1" fill="rgb(187,187,187)" opacity="0.73"/><circle cx="120.7" cy="94.4" r="1.1" fill="rgb(182,182,182)" opacity="0.71"/><circle cx="256.1" cy="117.8" r="0.9" fill="rgb(178,178,178)" opacity="0.90"/><circle cx="115.7" cy="500.1" r="1.4" fill="rgb(237,237,237)" opacity="0.83"/><circle cx="224.7" cy="105.7" r="1.3" fill="rgb(221,221,221)" opacity="0.91"/><circle cx="85.1" cy="105.1" r="1.4" fill="rgb(175,175,175)" opacity="0.92"/><circle cx="276.6" cy="462.3" r="1.4" fill="rgb(239,239,239)" opacity="0.92"/><circle cx="339.9" cy="220.1" r="0.9" fill="rgb(218,218,218)" opacity="0.96"/><circle cx="353.3" cy="332.1" r="0.7" fill="rgb(174,174,174)" opacity="0.76"/><circle cx="98.9" cy="498.7" r="1.3" fill="rgb(247,247,247)" opacity="0.76"/><circle cx="285.2" cy="455.9" r="0.8" fill="rgb(234,234,234)" opacity="0.78"/><circle cx="255.8" cy="475.9" r="1.3" fill="rgb(198,198,198)" opacity="0.84"/><circle cx="196.8" cy="97.2" r="0.8" fill="rgb(248,248,248)" opacity="0.79"/><circle cx="359.8" cy="290.4" r="0.7" fill="rgb(219,219,219)" opacity="0.86"/><circle cx="276" cy="135.9" r="1.3" fill="rgb(210,210,210)" opacity="0.90"/><circle cx="144.2" cy="91.8" r="0.8" fill="rgb(229,229,229)" opacity="0.84"/><circle cx="299.5" cy="439.4" r="1.3" fill="rgb(230,230,230)" opacity="0.84"/><circle cx="341.4" cy="213.3" r="1.1" fill="rgb(182,182,182)" opacity="0.87"/><circle cx="166.2" cy="93.5" r="1.3" fill="rgb(217,217,217)" opacity="0.81"/><circle cx="306.7" cy="432.8" r="1.4" fill="rgb(233,233,233)" opacity="0.87"/><circle cx="349.9" cy="256.5" r="0.9" fill="rgb(173,173,173)" opacity="0.80"/><circle cx="346.9" cy="243.9" r="1.2" fill="rgb(216,216,216)" opacity="0.84"/><circle cx="336.7" cy="210.1" r="0.8" fill="rgb(255,255,255)" opacity="0.90"/><circle cx="20.8" cy="457.3" r="1.4" fill="rgb(201,201,201)" opacity="0.91"/><circle cx="44" cy="122.4" r="0.7" fill="rgb(206,206,206)" opacity="0.98"/><circle cx="354.4" cy="288.8" r="1.2" fill="rgb(255,255,255)" opacity="0.70"/><circle cx="342.2" cy="360.7" r="0.9" fill="rgb(242,242,242)" opacity="0.91"/><circle cx="30.8" cy="466" r="0.8" fill="rgb(243,243,243)" opacity="0.76"/><circle cx="238.2" cy="483.9" r="1.3" fill="rgb(183,183,183)" opacity="0.76"/><circle cx="297.2" cy="440.5" r="1.4" fill="rgb(219,219,219)" opacity="0.82"/><circle cx="85" cy="104.6" r="0.7" fill="rgb(224,224,224)" opacity="0.73"/><circle cx="146.2" cy="92.2" r="0.9" fill="rgb(254,254,254)" opacity="0.71"/><circle cx="354" cy="334.4" r="0.7" fill="rgb(224,224,224)" opacity="0.89"/><circle cx="33.2" cy="127.7" r="1.1" fill="rgb(215,215,215)" opacity="0.98"/><circle cx="8.9" cy="451.6" r="1.1" fill="rgb(190,190,190)" opacity="0.75"/><circle cx="270.5" cy="463.7" r="0.8" fill="rgb(234,234,234)" opacity="0.87"/><circle cx="318.4" cy="415.5" r="1" fill="rgb(229,229,229)" opacity="0.86"/><circle cx="356.8" cy="318.8" r="0.8" fill="rgb(170,170,170)" opacity="0.77"/><circle cx="243.2" cy="113.4" r="0.8" fill="rgb(181,181,181)" opacity="0.95"/><circle cx="349.9" cy="352.7" r="1.4" fill="rgb(176,176,176)" opacity="0.84"/><circle cx="236.7" cy="485.8" r="0.7" fill="rgb(180,180,180)" opacity="0.93"/><circle cx="156.8" cy="92.5" r="1.2" fill="rgb(179,179,179)" opacity="0.85"/><circle cx="340.5" cy="218.5" r="0.8" fill="rgb(189,189,189)" opacity="0.75"/><circle cx="334" cy="209.7" r="1.4" fill="rgb(252,252,252)" opacity="0.92"/><circle cx="236.4" cy="112" r="1.2" fill="rgb(206,206,206)" opacity="0.85"/><circle cx="45.1" cy="479" r="1.2" fill="rgb(235,235,235)" opacity="0.82"/><circle cx="202.6" cy="499.2" r="0.8" fill="rgb(229,229,229)" opacity="0.70"/><circle cx="72.2" cy="107.1" r="1.4" fill="rgb(212,212,212)" opacity="0.77"/><circle cx="42.8" cy="123.4" r="1" fill="rgb(225,225,225)" opacity="0.72"/><circle cx="327.9" cy="404.4" r="0.7" fill="rgb(194,194,194)" opacity="1.00"/><circle cx="332.1" cy="198.4" r="1" fill="rgb(194,194,194)" opacity="0.73"/><circle cx="334.7" cy="204.4" r="1.1" fill="rgb(227,227,227)" opacity="0.79"/><circle cx="339.3" cy="215.1" r="0.8" fill="rgb(231,231,231)" opacity="0.83"/><circle cx="42.1" cy="125.8" r="0.7" fill="rgb(193,193,193)" opacity="0.87"/><circle cx="356.4" cy="267.9" r="1.3" fill="rgb(184,184,184)" opacity="0.94"/><circle cx="248.9" cy="480.3" r="1.3" fill="rgb(222,222,222)" opacity="0.91"/><circle cx="355.7" cy="303.7" r="0.7" fill="rgb(225,225,225)" opacity="0.96"/><circle cx="15.8" cy="140.7" r="1.2" fill="rgb(184,184,184)" opacity="0.94"/><circle cx="325.3" cy="413.7" r="0.8" fill="rgb(189,189,189)" opacity="0.71"/><circle cx="24.2" cy="467.1" r="0.9" fill="rgb(241,241,241)" opacity="0.96"/><circle cx="349.6" cy="259.9" r="1.1" fill="rgb(195,195,195)" opacity="0.79"/><circle cx="208.2" cy="494.1" r="1.2" fill="rgb(186,186,186)" opacity="0.81"/><circle cx="116" cy="502.3" r="1" fill="rgb(234,234,234)" opacity="0.71"/><circle cx="96.2" cy="498.1" r="0.7" fill="rgb(250,250,250)" opacity="0.91"/><circle cx="190.5" cy="97.3" r="1.3" fill="rgb(235,235,235)" opacity="0.86"/><circle cx="96.1" cy="498.7" r="0.8" fill="rgb(211,211,211)" opacity="0.92"/><circle cx="198.2" cy="500" r="1" fill="rgb(215,215,215)" opacity="0.91"/><circle cx="34.4" cy="127.7" r="1.3" fill="rgb(225,225,225)" opacity="0.90"/><circle cx="60.1" cy="115.5" r="0.9" fill="rgb(177,177,177)" opacity="0.80"/><circle cx="288.1" cy="148.4" r="0.9" fill="rgb(199,199,199)" opacity="0.80"/><circle cx="230.1" cy="486.8" r="0.7" fill="rgb(195,195,195)" opacity="0.78"/><circle cx="268.1" cy="133.7" r="1.3" fill="rgb(226,226,226)" opacity="0.79"/><circle cx="266.6" cy="471.7" r="1.2" fill="rgb(215,215,215)" opacity="0.78"/><circle cx="333.8" cy="200.6" r="1.3" fill="rgb(212,212,212)" opacity="0.71"/><circle cx="247.1" cy="483.9" r="0.8" fill="rgb(217,217,217)" opacity="0.85"/><circle cx="308.3" cy="432.7" r="0.9" fill="rgb(235,235,235)" opacity="0.82"/><circle cx="0.9" cy="442.6" r="1.2" fill="rgb(212,212,212)" opacity="0.74"/><circle cx="351.2" cy="344.3" r="1.2" fill="rgb(196,196,196)" opacity="0.71"/><circle cx="57.7" cy="116" r="0.8" fill="rgb(200,200,200)" opacity="0.77"/><circle cx="57.3" cy="483.6" r="1.1" fill="rgb(247,247,247)" opacity="0.73"/><circle cx="357.7" cy="290" r="1.3" fill="rgb(171,171,171)" opacity="0.97"/><circle cx="304.9" cy="437.8" r="1.3" fill="rgb(201,201,201)" opacity="0.80"/><circle cx="15.7" cy="146.6" r="0.9" fill="rgb(230,230,230)" opacity="0.93"/><circle cx="357" cy="282" r="0.8" fill="rgb(249,249,249)" opacity="0.75"/><circle cx="348" cy="242.8" r="1.4" fill="rgb(226,226,226)" opacity="0.98"/><circle cx="297.7" cy="156.3" r="1.2" fill="rgb(178,178,178)" opacity="0.73"/><circle cx="326.3" cy="412.8" r="0.9" fill="rgb(225,225,225)" opacity="0.82"/><circle cx="12.7" cy="450.7" r="1.2" fill="rgb(182,182,182)" opacity="0.85"/><circle cx="203.2" cy="501.9" r="1.3" fill="rgb(215,215,215)" opacity="0.95"/><circle cx="165.7" cy="93.1" r="1.1" fill="rgb(217,217,217)" opacity="0.95"/><circle cx="12.7" cy="455.3" r="0.8" fill="rgb(184,184,184)" opacity="0.80"/><circle cx="347.4" cy="243.9" r="0.8" fill="rgb(254,254,254)" opacity="0.76"/><circle cx="19.7" cy="457.9" r="1.2" fill="rgb(191,191,191)" opacity="0.95"/><circle cx="5.3" cy="446.2" r="1.2" fill="rgb(173,173,173)" opacity="0.81"/><circle cx="306.2" cy="165" r="0.7" fill="rgb(239,239,239)" opacity="0.84"/><circle cx="217.9" cy="496.4" r="0.8" fill="rgb(252,252,252)" opacity="0.75"/><circle cx="231.3" cy="490.3" r="1.2" fill="rgb(191,191,191)" opacity="0.90"/><circle cx="289.7" cy="149.2" r="0.9" fill="rgb(238,238,238)" opacity="0.74"/><circle cx="77.4" cy="491.5" r="1.2" fill="rgb(239,239,239)" opacity="0.99"/><circle cx="199.6" cy="94.6" r="1.2" fill="rgb(210,210,210)" opacity="0.87"/><circle cx="155" cy="93.3" r="0.9" fill="rgb(227,227,227)" opacity="0.86"/><circle cx="258.3" cy="480" r="0.7" fill="rgb(249,249,249)" opacity="0.71"/><circle cx="340" cy="214.9" r="1.4" fill="rgb(188,188,188)" opacity="0.78"/><circle cx="267.9" cy="127.1" r="1" fill="rgb(172,172,172)" opacity="0.89"/><circle cx="327" cy="407" r="0.8" fill="rgb(193,193,193)" opacity="0.76"/><circle cx="314.3" cy="176.9" r="0.9" fill="rgb(173,173,173)" opacity="0.74"/><circle cx="7.9" cy="447.7" r="1.2" fill="rgb(176,176,176)" opacity="0.75"/><circle cx="96.9" cy="498.4" r="0.9" fill="rgb(181,181,181)" opacity="0.96"/><circle cx="352.6" cy="285.9" r="0.9" fill="rgb(170,170,170)" opacity="0.94"/><circle cx="127.9" cy="92.1" r="0.8" fill="rgb(181,181,181)" opacity="0.98"/><circle cx="43.8" cy="125.4" r="1.3" fill="rgb(218,218,218)" opacity="0.91"/><circle cx="196.8" cy="98.4" r="1.4" fill="rgb(205,205,205)" opacity="0.78"/><circle cx="347.7" cy="239.4" r="1" fill="rgb(187,187,187)" opacity="0.91"/><circle cx="348.7" cy="239.7" r="0.9" fill="rgb(235,235,235)" opacity="0.80"/><circle cx="209.9" cy="103" r="1.2" fill="rgb(221,221,221)" opacity="0.76"/><circle cx="33.4" cy="468.2" r="1" fill="rgb(237,237,237)" opacity="0.93"/><circle cx="233.4" cy="489.9" r="1.4" fill="rgb(253,253,253)" opacity="0.92"/><circle cx="27.2" cy="463.7" r="1.3" fill="rgb(182,182,182)" opacity="0.78"/><circle cx="31.4" cy="468.4" r="1.1" fill="rgb(197,197,197)" opacity="0.79"/><circle cx="223.8" cy="104.4" r="1.3" fill="rgb(208,208,208)" opacity="0.78"/><circle cx="249.4" cy="120.1" r="1.1" fill="rgb(186,186,186)" opacity="0.91"/><circle cx="249.5" cy="479.7" r="1.2" fill="rgb(182,182,182)" opacity="0.94"/><circle cx="61.2" cy="112" r="1.2" fill="rgb(225,225,225)" opacity="0.76"/><circle cx="314.9" cy="420.4" r="1" fill="rgb(235,235,235)" opacity="0.97"/><circle cx="66.8" cy="486.4" r="0.9" fill="rgb(182,182,182)" opacity="0.75"/><circle cx="225.7" cy="489.4" r="1" fill="rgb(234,234,234)" opacity="0.85"/><circle cx="317.8" cy="420" r="1.4" fill="rgb(195,195,195)" opacity="0.83"/><circle cx="308.2" cy="166.9" r="1" fill="rgb(209,209,209)" opacity="0.89"/><circle cx="342.1" cy="221.9" r="0.7" fill="rgb(178,178,178)" opacity="0.99"/><circle cx="264.2" cy="473.3" r="0.9" fill="rgb(202,202,202)" opacity="0.87"/><circle cx="128.9" cy="90.4" r="1.3" fill="rgb(176,176,176)" opacity="0.76"/><circle cx="207.7" cy="500.1" r="0.8" fill="rgb(181,181,181)" opacity="0.78"/><circle cx="237.1" cy="491.3" r="0.8" fill="rgb(201,201,201)" opacity="0.94"/><circle cx="116" cy="95" r="0.7" fill="rgb(198,198,198)" opacity="0.96"/><circle cx="305.2" cy="435.3" r="1" fill="rgb(172,172,172)" opacity="1.00"/><circle cx="202.7" cy="497.2" r="0.7" fill="rgb(219,219,219)" opacity="0.82"/><circle cx="336" cy="212.7" r="0.7" fill="rgb(235,235,235)" opacity="0.92"/><circle cx="59.6" cy="112.6" r="1.1" fill="rgb(237,237,237)" opacity="0.95"/><circle cx="311.3" cy="167.3" r="1" fill="rgb(254,254,254)" opacity="0.71"/><circle cx="354.8" cy="292.9" r="1" fill="rgb(185,185,185)" opacity="0.72"/><circle cx="9.2" cy="453.5" r="0.7" fill="rgb(250,250,250)" opacity="0.85"/><circle cx="261.4" cy="469.4" r="0.8" fill="rgb(186,186,186)" opacity="0.96"/><circle cx="277" cy="458.2" r="0.9" fill="rgb(170,170,170)" opacity="0.90"/><circle cx="352.6" cy="327.2" r="1.1" fill="rgb(213,213,213)" opacity="0.72"/><circle cx="347.1" cy="361.3" r="0.7" fill="rgb(175,175,175)" opacity="0.94"/><circle cx="81.8" cy="490.5" r="0.7" fill="rgb(252,252,252)" opacity="0.72"/><circle cx="338.9" cy="218.7" r="0.7" fill="rgb(217,217,217)" opacity="0.91"/><circle cx="311.3" cy="173.7" r="0.7" fill="rgb(229,229,229)" opacity="0.79"/><circle cx="350.3" cy="257" r="0.8" fill="rgb(195,195,195)" opacity="0.80"/><circle cx="25.9" cy="133.4" r="1.3" fill="rgb(220,220,220)" opacity="0.86"/><circle cx="33.5" cy="132" r="0.8" fill="rgb(195,195,195)" opacity="0.75"/><circle cx="248.7" cy="482" r="1.3" fill="rgb(185,185,185)" opacity="0.87"/><circle cx="347.7" cy="341.9" r="0.9" fill="rgb(245,245,245)" opacity="0.83"/><circle cx="167.6" cy="91.3" r="0.7" fill="rgb(183,183,183)" opacity="0.82"/><circle cx="18.3" cy="452.8" r="1.2" fill="rgb(181,181,181)" opacity="0.70"/><circle cx="270.4" cy="467.4" r="0.7" fill="rgb(194,194,194)" opacity="0.88"/><circle cx="336.9" cy="388" r="0.9" fill="rgb(223,223,223)" opacity="0.83"/><circle cx="351.3" cy="268.9" r="0.9" fill="rgb(177,177,177)" opacity="0.96"/><circle cx="315.9" cy="420.7" r="0.7" fill="rgb(197,197,197)" opacity="0.88"/><circle cx="113.9" cy="95.8" r="0.8" fill="rgb(225,225,225)" opacity="0.71"/><circle cx="58.7" cy="481" r="1" fill="rgb(182,182,182)" opacity="0.94"/><circle cx="112.2" cy="97.1" r="1.3" fill="rgb(205,205,205)" opacity="0.88"/><circle cx="345.1" cy="230" r="1.3" fill="rgb(196,196,196)" opacity="0.74"/><circle cx="357.4" cy="319" r="0.8" fill="rgb(192,192,192)" opacity="0.81"/><circle cx="74.7" cy="105.1" r="0.8" fill="rgb(253,253,253)" opacity="0.73"/><circle cx="42.3" cy="124.4" r="0.7" fill="rgb(230,230,230)" opacity="0.89"/><circle cx="350.7" cy="244.6" r="0.9" fill="rgb(224,224,224)" opacity="0.76"/><circle cx="50.7" cy="123.8" r="0.9" fill="rgb(254,254,254)" opacity="0.87"/><circle cx="230.6" cy="494.6" r="1.2" fill="rgb(241,241,241)" opacity="0.84"/><circle cx="259.1" cy="124.8" r="0.8" fill="rgb(179,179,179)" opacity="0.91"/><circle cx="342.6" cy="220.4" r="0.9" fill="rgb(228,228,228)" opacity="0.84"/><circle cx="73.8" cy="487.3" r="0.9" fill="rgb(193,193,193)" opacity="0.95"/><circle cx="51.4" cy="117.5" r="1.1" fill="rgb(197,197,197)" opacity="0.84"/><circle cx="287" cy="142.9" r="1" fill="rgb(188,188,188)" opacity="0.92"/><circle cx="269.5" cy="131.7" r="0.9" fill="rgb(204,204,204)" opacity="0.76"/><circle cx="331.1" cy="197.5" r="1" fill="rgb(226,226,226)" opacity="0.96"/><circle cx="6.2" cy="444.9" r="0.7" fill="rgb(199,199,199)" opacity="0.82"/><circle cx="47.8" cy="118.2" r="0.8" fill="rgb(177,177,177)" opacity="0.81"/><circle cx="356.6" cy="285.2" r="1.3" fill="rgb(185,185,185)" opacity="0.93"/><circle cx="303" cy="162.7" r="1" fill="rgb(188,188,188)" opacity="0.94"/><circle cx="266.1" cy="468.6" r="0.9" fill="rgb(194,194,194)" opacity="0.73"/><circle cx="354.6" cy="278" r="1.2" fill="rgb(254,254,254)" opacity="0.89"/><circle cx="55.9" cy="484.2" r="0.7" fill="rgb(212,212,212)" opacity="0.78"/><circle cx="142.9" cy="92.9" r="1.4" fill="rgb(203,203,203)" opacity="0.90"/><circle cx="340.6" cy="219.4" r="1" fill="rgb(242,242,242)" opacity="0.80"/><circle cx="307.6" cy="429.5" r="1.1" fill="rgb(184,184,184)" opacity="0.77"/><circle cx="67.7" cy="109" r="0.8" fill="rgb(233,233,233)" opacity="0.90"/><circle cx="228.5" cy="490" r="0.9" fill="rgb(227,227,227)" opacity="0.84"/><circle cx="349" cy="359.2" r="0.7" fill="rgb(227,227,227)" opacity="0.72"/><circle cx="352.9" cy="321.9" r="1.4" fill="rgb(222,222,222)" opacity="0.77"/><circle cx="283.5" cy="457.2" r="0.7" fill="rgb(222,222,222)" opacity="0.77"/><circle cx="82.4" cy="492.1" r="1.1" fill="rgb(234,234,234)" opacity="0.70"/><circle cx="350.5" cy="347.1" r="1.2" fill="rgb(225,225,225)" opacity="0.76"/><circle cx="45.5" cy="477.4" r="0.7" fill="rgb(224,224,224)" opacity="0.96"/><circle cx="2.5" cy="442.5" r="0.9" fill="rgb(219,219,219)" opacity="0.89"/><circle cx="315.7" cy="425.8" r="1" fill="rgb(225,225,225)" opacity="0.94"/><circle cx="301.9" cy="434.7" r="1.4" fill="rgb(208,208,208)" opacity="0.71"/><circle cx="297.6" cy="157.4" r="1.1" fill="rgb(205,205,205)" opacity="0.90"/><circle cx="352.2" cy="302.6" r="0.9" fill="rgb(229,229,229)" opacity="0.81"/><circle cx="92.4" cy="498" r="1.2" fill="rgb(248,248,248)" opacity="0.72"/><circle cx="79.1" cy="493.2" r="0.9" fill="rgb(242,242,242)" opacity="0.94"/><circle cx="39.2" cy="121.5" r="1" fill="rgb(240,240,240)" opacity="0.89"/><circle cx="82.1" cy="496.4" r="1.3" fill="rgb(175,175,175)" opacity="0.91"/><circle cx="346.2" cy="230.7" r="1.3" fill="rgb(177,177,177)" opacity="0.93"/><circle cx="324.9" cy="188.1" r="1.2" fill="rgb(198,198,198)" opacity="0.92"/><circle cx="109.8" cy="95" r="1.4" fill="rgb(211,211,211)" opacity="0.88"/><circle cx="280.6" cy="460.9" r="0.7" fill="rgb(226,226,226)" opacity="0.85"/><circle cx="34.4" cy="469.7" r="1.1" fill="rgb(206,206,206)" opacity="0.98"/><circle cx="353.6" cy="323" r="0.9" fill="rgb(233,233,233)" opacity="0.72"/><circle cx="298.5" cy="442.8" r="1.3" fill="rgb(178,178,178)" opacity="0.80"/><circle cx="335.8" cy="388.4" r="0.9" fill="rgb(208,208,208)" opacity="0.86"/><circle cx="351.9" cy="351.7" r="1" fill="rgb(188,188,188)" opacity="0.85"/><circle cx="256.4" cy="124.3" r="0.7" fill="rgb(189,189,189)" opacity="0.94"/><circle cx="245.3" cy="115.2" r="0.7" fill="rgb(193,193,193)" opacity="0.93"/><circle cx="12.5" cy="142.9" r="0.9" fill="rgb(186,186,186)" opacity="0.98"/><circle cx="73.1" cy="485.5" r="1.2" fill="rgb(188,188,188)" opacity="0.95"/><circle cx="287.8" cy="456.4" r="0.8" fill="rgb(172,172,172)" opacity="0.90"/><circle cx="296.7" cy="440.4" r="1.2" fill="rgb(170,170,170)" opacity="0.79"/><circle cx="317.7" cy="418.4" r="1" fill="rgb(239,239,239)" opacity="0.75"/><circle cx="314.2" cy="429.3" r="0.9" fill="rgb(193,193,193)" opacity="0.75"/><circle cx="334.6" cy="391.1" r="1.2" fill="rgb(180,180,180)" opacity="0.74"/><circle cx="347.1" cy="367.1" r="0.7" fill="rgb(220,220,220)" opacity="0.80"/><circle cx="200.2" cy="98.8" r="1" fill="rgb(186,186,186)" opacity="0.96"/><circle cx="335.3" cy="382.3" r="1" fill="rgb(207,207,207)" opacity="0.92"/><circle cx="196.6" cy="500.1" r="1.3" fill="rgb(251,251,251)" opacity="0.94"/><circle cx="82.7" cy="495.6" r="1.1" fill="rgb(181,181,181)" opacity="0.98"/><circle cx="174.9" cy="92.1" r="0.8" fill="rgb(225,225,225)" opacity="0.76"/><circle cx="358.3" cy="307.1" r="1.4" fill="rgb(213,213,213)" opacity="0.81"/><circle cx="295.6" cy="442.3" r="1.1" fill="rgb(180,180,180)" opacity="0.98"/><circle cx="41.6" cy="124.8" r="0.9" fill="rgb(227,227,227)" opacity="0.95"/><circle cx="102.4" cy="502.2" r="1.3" fill="rgb(245,245,245)" opacity="0.84"/><circle cx="353.4" cy="252.5" r="1.1" fill="rgb(172,172,172)" opacity="0.82"/><circle cx="358.8" cy="287" r="0.7" fill="rgb(238,238,238)" opacity="0.95"/><circle cx="6.3" cy="446.5" r="1.2" fill="rgb(229,229,229)" opacity="1.00"/><circle cx="123.5" cy="95" r="1.2" fill="rgb(181,181,181)" opacity="0.73"/><circle cx="354.4" cy="270.5" r="1" fill="rgb(243,243,243)" opacity="0.90"/><circle cx="70.1" cy="106.9" r="1" fill="rgb(225,225,225)" opacity="0.81"/><circle cx="312.6" cy="429.6" r="1.1" fill="rgb(227,227,227)" opacity="0.93"/><circle cx="340.6" cy="217.8" r="1.1" fill="rgb(243,243,243)" opacity="0.83"/><circle cx="248.8" cy="483.5" r="1.1" fill="rgb(224,224,224)" opacity="0.80"/><circle cx="355.9" cy="298.3" r="1" fill="rgb(235,235,235)" opacity="0.76"/><circle cx="344" cy="367.3" r="0.8" fill="rgb(214,214,214)" opacity="0.79"/><circle cx="331.9" cy="397.4" r="0.9" fill="rgb(238,238,238)" opacity="0.82"/><circle cx="334.4" cy="396" r="1.2" fill="rgb(192,192,192)" opacity="0.90"/><circle cx="75.6" cy="109.7" r="1.3" fill="rgb(208,208,208)" opacity="0.81"/><circle cx="281.8" cy="462" r="0.9" fill="rgb(224,224,224)" opacity="0.77"/><circle cx="347.8" cy="355.2" r="1.2" fill="rgb(250,250,250)" opacity="0.92"/><circle cx="9.4" cy="448.7" r="1.4" fill="rgb(204,204,204)" opacity="0.76"/><circle cx="236.9" cy="487.8" r="1.2" fill="rgb(214,214,214)" opacity="0.93"/><circle cx="286.2" cy="452.2" r="1.2" fill="rgb(220,220,220)" opacity="0.93"/><circle cx="338.5" cy="381.2" r="0.9" fill="rgb(200,200,200)" opacity="0.89"/><circle cx="318" cy="421.8" r="0.9" fill="rgb(199,199,199)" opacity="0.89"/><circle cx="63.8" cy="489.4" r="1" fill="rgb(250,250,250)" opacity="0.92"/><circle cx="85.7" cy="495.4" r="0.8" fill="rgb(198,198,198)" opacity="0.79"/><circle cx="116.8" cy="96.7" r="1.1" fill="rgb(218,218,218)" opacity="0.72"/><circle cx="288.6" cy="142.2" r="1.1" fill="rgb(173,173,173)" opacity="0.88"/><circle cx="79.2" cy="107" r="1" fill="rgb(225,225,225)" opacity="0.94"/><circle cx="158.3" cy="92.6" r="1.2" fill="rgb(197,197,197)" opacity="0.80"/><circle cx="186.2" cy="95" r="1.2" fill="rgb(207,207,207)" opacity="0.90"/><circle cx="169.1" cy="94.1" r="1.2" fill="rgb(255,255,255)" opacity="0.95"/><circle cx="106.5" cy="499.5" r="1" fill="rgb(193,193,193)" opacity="0.92"/><circle cx="216.9" cy="494.4" r="0.7" fill="rgb(214,214,214)" opacity="0.97"/><circle cx="223.2" cy="494.4" r="0.8" fill="rgb(222,222,222)" opacity="0.92"/><circle cx="303.3" cy="437.6" r="0.7" fill="rgb(202,202,202)" opacity="0.93"/><circle cx="25" cy="140.4" r="1.2" fill="rgb(241,241,241)" opacity="0.80"/><circle cx="38.8" cy="124.5" r="1.4" fill="rgb(171,171,171)" opacity="0.77"/><circle cx="134.6" cy="502.1" r="0.9" fill="rgb(252,252,252)" opacity="0.79"/><circle cx="356.4" cy="316.7" r="0.8" fill="rgb(184,184,184)" opacity="0.89"/><circle cx="39.1" cy="471.5" r="1" fill="rgb(224,224,224)" opacity="0.78"/><circle cx="181.9" cy="94.6" r="1.3" fill="rgb(203,203,203)" opacity="0.87"/><circle cx="51.5" cy="482.9" r="1.1" fill="rgb(182,182,182)" opacity="0.77"/><circle cx="292" cy="452.1" r="1.2" fill="rgb(233,233,233)" opacity="0.81"/><circle cx="8.1" cy="152" r="1" fill="rgb(230,230,230)" opacity="0.76"/><circle cx="101" cy="96.8" r="0.7" fill="rgb(189,189,189)" opacity="0.85"/><circle cx="307.5" cy="164.8" r="1.4" fill="rgb(250,250,250)" opacity="0.73"/><circle cx="3.8" cy="154.1" r="0.8" fill="rgb(212,212,212)" opacity="0.84"/><circle cx="337" cy="213.7" r="0.9" fill="rgb(220,220,220)" opacity="0.76"/><circle cx="181.3" cy="92.1" r="1" fill="rgb(195,195,195)" opacity="0.86"/><circle cx="342.4" cy="224.2" r="0.7" fill="rgb(228,228,228)" opacity="0.93"/><circle cx="150.2" cy="92.7" r="1.4" fill="rgb(183,183,183)" opacity="0.76"/><circle cx="22.9" cy="138" r="0.7" fill="rgb(239,239,239)" opacity="0.71"/><circle cx="338.8" cy="214.7" r="0.9" fill="rgb(229,229,229)" opacity="0.84"/><circle cx="229" cy="108.4" r="0.7" fill="rgb(232,232,232)" opacity="0.75"/><circle cx="209.7" cy="499.6" r="0.9" fill="rgb(244,244,244)" opacity="0.83"/><circle cx="357.5" cy="265" r="0.7" fill="rgb(175,175,175)" opacity="0.88"/><circle cx="353.5" cy="319.4" r="1.3" fill="rgb(226,226,226)" opacity="0.98"/><circle cx="41.9" cy="123.8" r="1" fill="rgb(242,242,242)" opacity="0.78"/><circle cx="353.1" cy="352.9" r="0.8" fill="rgb(196,196,196)" opacity="0.92"/><circle cx="202.7" cy="501.7" r="1.1" fill="rgb(244,244,244)" opacity="0.78"/><circle cx="17.5" cy="458.1" r="1.2" fill="rgb(234,234,234)" opacity="1.00"/><circle cx="312.6" cy="424.5" r="1.4" fill="rgb(175,175,175)" opacity="0.82"/><circle cx="285.7" cy="455.3" r="1.2" fill="rgb(221,221,221)" opacity="0.94"/><circle cx="289.2" cy="450.4" r="1.3" fill="rgb(223,223,223)" opacity="0.78"/><circle cx="330.1" cy="406" r="0.9" fill="rgb(182,182,182)" opacity="0.97"/><circle cx="354.8" cy="320.5" r="0.9" fill="rgb(210,210,210)" opacity="0.77"/><circle cx="347.4" cy="359.4" r="1" fill="rgb(254,254,254)" opacity="0.91"/><circle cx="125" cy="92.9" r="1.2" fill="rgb(208,208,208)" opacity="0.93"/><circle cx="12.4" cy="144.2" r="1" fill="rgb(230,230,230)" opacity="0.75"/><circle cx="35.6" cy="472.7" r="1.3" fill="rgb(212,212,212)" opacity="0.99"/><circle cx="302.1" cy="439.2" r="1.2" fill="rgb(212,212,212)" opacity="0.89"/><circle cx="189" cy="94.7" r="1" fill="rgb(241,241,241)" opacity="0.74"/><circle cx="67.9" cy="108.3" r="0.7" fill="rgb(243,243,243)" opacity="0.93"/><circle cx="291.1" cy="447.8" r="1" fill="rgb(241,241,241)" opacity="0.86"/><circle cx="274.1" cy="464.4" r="1.1" fill="rgb(226,226,226)" opacity="0.71"/><circle cx="114.2" cy="93.8" r="0.9" fill="rgb(227,227,227)" opacity="0.75"/><circle cx="302.2" cy="442.2" r="0.8" fill="rgb(176,176,176)" opacity="0.98"/><circle cx="105" cy="501.3" r="1" fill="rgb(211,211,211)" opacity="0.97"/><circle cx="323.3" cy="186.4" r="1" fill="rgb(230,230,230)" opacity="0.83"/><circle cx="305.3" cy="439.4" r="0.8" fill="rgb(216,216,216)" opacity="0.73"/><circle cx="278.2" cy="464.8" r="0.7" fill="rgb(226,226,226)" opacity="0.90"/><circle cx="312" cy="167.2" r="0.7" fill="rgb(245,245,245)" opacity="0.70"/><circle cx="327" cy="412.3" r="1.1" fill="rgb(193,193,193)" opacity="0.92"/><circle cx="338.4" cy="381.3" r="1.3" fill="rgb(172,172,172)" opacity="0.73"/><circle cx="39.4" cy="470.4" r="0.7" fill="rgb(185,185,185)" opacity="0.80"/><circle cx="208.3" cy="499.3" r="0.8" fill="rgb(235,235,235)" opacity="0.78"/><circle cx="324.1" cy="191.4" r="1.2" fill="rgb(227,227,227)" opacity="0.93"/><circle cx="265" cy="470.8" r="1.3" fill="rgb(191,191,191)" opacity="0.88"/><circle cx="297.1" cy="154.1" r="1.3" fill="rgb(209,209,209)" opacity="0.82"/><circle cx="331.4" cy="200.7" r="1" fill="rgb(196,196,196)" opacity="0.81"/><circle cx="287.3" cy="455.4" r="1.2" fill="rgb(228,228,228)" opacity="0.85"/><circle cx="282.2" cy="453.8" r="1.2" fill="rgb(203,203,203)" opacity="0.70"/><circle cx="102" cy="102.3" r="1" fill="rgb(178,178,178)" opacity="0.99"/><circle cx="324.1" cy="412.1" r="1" fill="rgb(246,246,246)" opacity="0.77"/><circle cx="98.3" cy="500" r="0.9" fill="rgb(214,214,214)" opacity="0.90"/><circle cx="83" cy="100.7" r="1.1" fill="rgb(254,254,254)" opacity="0.73"/><circle cx="349" cy="356.4" r="0.8" fill="rgb(203,203,203)" opacity="0.96"/><circle cx="329.6" cy="395.4" r="0.8" fill="rgb(232,232,232)" opacity="0.99"/><circle cx="155.3" cy="94.7" r="0.9" fill="rgb(175,175,175)" opacity="0.95"/><circle cx="80.2" cy="496.5" r="0.9" fill="rgb(215,215,215)" opacity="0.93"/><circle cx="99.1" cy="98.8" r="1.3" fill="rgb(247,247,247)" opacity="0.89"/><circle cx="67.6" cy="114.8" r="0.9" fill="rgb(204,204,204)" opacity="0.88"/><circle cx="0.5" cy="438.4" r="1.1" fill="rgb(253,253,253)" opacity="0.83"/><circle cx="336.9" cy="211.8" r="1.1" fill="rgb(254,254,254)" opacity="0.85"/><circle cx="93.2" cy="498.7" r="1.1" fill="rgb(184,184,184)" opacity="0.87"/><circle cx="350.8" cy="338.4" r="0.8" fill="rgb(223,223,223)" opacity="0.97"/><circle cx="349.1" cy="353" r="0.9" fill="rgb(188,188,188)" opacity="0.71"/><circle cx="341.3" cy="375.1" r="0.8" fill="rgb(208,208,208)" opacity="0.79"/><circle cx="272.4" cy="132.6" r="1.2" fill="rgb(222,222,222)" opacity="0.89"/><circle cx="93.3" cy="498.6" r="1" fill="rgb(193,193,193)" opacity="0.74"/><circle cx="214.4" cy="102.8" r="0.7" fill="rgb(212,212,212)" opacity="0.88"/><circle cx="152.6" cy="92.8" r="1.1" fill="rgb(250,250,250)" opacity="0.87"/><circle cx="302.6" cy="438.4" r="1.3" fill="rgb(211,211,211)" opacity="0.96"/><circle cx="355.4" cy="323.6" r="0.7" fill="rgb(193,193,193)" opacity="0.91"/><circle cx="209.2" cy="99.4" r="0.9" fill="rgb(188,188,188)" opacity="0.92"/><circle cx="121.4" cy="500.2" r="0.7" fill="rgb(214,214,214)" opacity="0.80"/><circle cx="268.2" cy="470" r="1.3" fill="rgb(213,213,213)" opacity="0.79"/><circle cx="99.2" cy="100.5" r="0.7" fill="rgb(210,210,210)" opacity="0.96"/><circle cx="27.5" cy="463.4" r="1.3" fill="rgb(240,240,240)" opacity="0.87"/><circle cx="19" cy="455.1" r="0.9" fill="rgb(179,179,179)" opacity="0.94"/><circle cx="81" cy="494.7" r="1.4" fill="rgb(175,175,175)" opacity="0.71"/><circle cx="335.4" cy="207.2" r="0.9" fill="rgb(239,239,239)" opacity="0.75"/><circle cx="325.7" cy="192.5" r="0.8" fill="rgb(187,187,187)" opacity="0.99"/><circle cx="4.4" cy="154.3" r="0.8" fill="rgb(198,198,198)" opacity="0.70"/><circle cx="188.3" cy="94.1" r="1.2" fill="rgb(190,190,190)" opacity="0.96"/><circle cx="280.8" cy="136.5" r="1.2" fill="rgb(243,243,243)" opacity="0.82"/><circle cx="193.6" cy="91.9" r="1.2" fill="rgb(208,208,208)" opacity="0.87"/><circle cx="194" cy="96.2" r="1" fill="rgb(186,186,186)" opacity="0.91"/><circle cx="347.6" cy="248.3" r="0.7" fill="rgb(232,232,232)" opacity="0.87"/><circle cx="247.7" cy="116.4" r="0.9" fill="rgb(242,242,242)" opacity="1.00"/><circle cx="28.5" cy="131.9" r="0.7" fill="rgb(242,242,242)" opacity="0.82"/><circle cx="36.3" cy="128.8" r="1.1" fill="rgb(241,241,241)" opacity="0.98"/><circle cx="269.5" cy="130.7" r="1.4" fill="rgb(197,197,197)" opacity="0.95"/><circle cx="334.5" cy="393.8" r="0.7" fill="rgb(224,224,224)" opacity="0.98"/><circle cx="47.4" cy="119" r="0.8" fill="rgb(200,200,200)" opacity="0.77"/><circle cx="343.4" cy="371" r="1" fill="rgb(208,208,208)" opacity="0.98"/><circle cx="198.7" cy="100" r="1.2" fill="rgb(243,243,243)" opacity="0.91"/><circle cx="105" cy="95.4" r="1" fill="rgb(229,229,229)" opacity="0.96"/><circle cx="59.5" cy="487.1" r="1.1" fill="rgb(234,234,234)" opacity="0.96"/><circle cx="275.7" cy="133.6" r="0.8" fill="rgb(204,204,204)" opacity="0.81"/><circle cx="329.3" cy="192.6" r="0.9" fill="rgb(184,184,184)" opacity="0.98"/><circle cx="302.9" cy="162" r="1.3" fill="rgb(188,188,188)" opacity="0.75"/><circle cx="353.7" cy="254.2" r="1.1" fill="rgb(178,178,178)" opacity="0.84"/><circle cx="354.3" cy="277" r="1" fill="rgb(170,170,170)" opacity="0.81"/><circle cx="357.2" cy="297.4" r="1.1" fill="rgb(212,212,212)" opacity="0.78"/><circle cx="354.7" cy="332.3" r="1.1" fill="rgb(216,216,216)" opacity="0.72"/><circle cx="100.4" cy="100.2" r="1.3" fill="rgb(172,172,172)" opacity="0.80"/><circle cx="355.1" cy="331" r="0.9" fill="rgb(172,172,172)" opacity="0.81"/><circle cx="31.5" cy="127.3" r="0.7" fill="rgb(213,213,213)" opacity="0.72"/><circle cx="83.6" cy="104.1" r="0.7" fill="rgb(228,228,228)" opacity="0.83"/><circle cx="239.6" cy="484.9" r="1.4" fill="rgb(213,213,213)" opacity="0.99"/><circle cx="126" cy="96.8" r="1.2" fill="rgb(202,202,202)" opacity="0.82"/><circle cx="280" cy="139.4" r="0.7" fill="rgb(238,238,238)" opacity="0.96"/><circle cx="343.7" cy="372.4" r="0.9" fill="rgb(222,222,222)" opacity="0.82"/><circle cx="104" cy="97.5" r="0.7" fill="rgb(202,202,202)" opacity="0.83"/><circle cx="106.3" cy="99.6" r="1.4" fill="rgb(173,173,173)" opacity="0.88"/><circle cx="14.7" cy="456.1" r="0.8" fill="rgb(245,245,245)" opacity="0.73"/><circle cx="336.8" cy="213.6" r="0.8" fill="rgb(182,182,182)" opacity="0.83"/><circle cx="354.2" cy="281" r="0.9" fill="rgb(210,210,210)" opacity="1.00"/><circle cx="339.4" cy="216" r="0.8" fill="rgb(218,218,218)" opacity="0.94"/><circle cx="232.4" cy="486.8" r="0.7" fill="rgb(250,250,250)" opacity="0.73"/><circle cx="209.4" cy="100.1" r="1.2" fill="rgb(222,222,222)" opacity="0.84"/><circle cx="71" cy="110" r="0.8" fill="rgb(229,229,229)" opacity="0.79"/><circle cx="319.4" cy="414.9" r="1.1" fill="rgb(241,241,241)" opacity="0.75"/><circle cx="10.3" cy="445.7" r="0.8" fill="rgb(227,227,227)" opacity="0.91"/><circle cx="354.1" cy="298" r="0.9" fill="rgb(233,233,233)" opacity="0.83"/><circle cx="32.3" cy="129.2" r="0.9" fill="rgb(212,212,212)" opacity="0.72"/><circle cx="80.4" cy="492.4" r="1" fill="rgb(229,229,229)" opacity="0.89"/><circle cx="336.3" cy="210.7" r="0.7" fill="rgb(174,174,174)" opacity="0.86"/><circle cx="228.9" cy="490.4" r="1.4" fill="rgb(250,250,250)" opacity="0.74"/><circle cx="158.3" cy="93" r="0.8" fill="rgb(253,253,253)" opacity="0.89"/><circle cx="62.2" cy="487.3" r="0.7" fill="rgb(208,208,208)" opacity="0.70"/><circle cx="97" cy="100.8" r="1.4" fill="rgb(173,173,173)" opacity="0.93"/><circle cx="359.1" cy="286.5" r="1.2" fill="rgb(227,227,227)" opacity="0.74"/><circle cx="349.1" cy="344" r="1.3" fill="rgb(250,250,250)" opacity="0.84"/><circle cx="103.2" cy="500.6" r="1.2" fill="rgb(179,179,179)" opacity="0.97"/><circle cx="232" cy="109.1" r="0.7" fill="rgb(223,223,223)" opacity="0.96"/><circle cx="199.9" cy="101.5" r="0.7" fill="rgb(185,185,185)" opacity="0.78"/><circle cx="296.5" cy="156.8" r="1.4" fill="rgb(220,220,220)" opacity="0.96"/><circle cx="299.8" cy="440.7" r="0.9" fill="rgb(170,170,170)" opacity="0.91"/><circle cx="253.7" cy="475.2" r="1.1" fill="rgb(171,171,171)" opacity="0.72"/><circle cx="151.8" cy="92.5" r="0.8" fill="rgb(211,211,211)" opacity="1.00"/><circle cx="47.6" cy="121.8" r="1" fill="rgb(233,233,233)" opacity="0.76"/><circle cx="82.3" cy="495.3" r="1.4" fill="rgb(196,196,196)" opacity="0.92"/><circle cx="90.9" cy="101" r="1.3" fill="rgb(209,209,209)" opacity="0.71"/><circle cx="43" cy="473.7" r="1.3" fill="rgb(219,219,219)" opacity="0.72"/><circle cx="319.7" cy="418.1" r="0.9" fill="rgb(185,185,185)" opacity="0.85"/><circle cx="287.1" cy="141" r="0.7" fill="rgb(174,174,174)" opacity="0.92"/><circle cx="245.7" cy="113.8" r="1.1" fill="rgb(199,199,199)" opacity="0.89"/><circle cx="21.3" cy="136.6" r="0.9" fill="rgb(228,228,228)" opacity="0.98"/><circle cx="247.3" cy="481.5" r="0.7" fill="rgb(208,208,208)" opacity="0.77"/><circle cx="85" cy="497.3" r="1.1" fill="rgb(240,240,240)" opacity="0.81"/><circle cx="354.5" cy="299.8" r="1.4" fill="rgb(186,186,186)" opacity="0.72"/><circle cx="355.5" cy="289.4" r="1.3" fill="rgb(190,190,190)" opacity="0.85"/><circle cx="353.3" cy="306.9" r="0.8" fill="rgb(218,218,218)" opacity="0.95"/><circle cx="276.4" cy="138.5" r="0.8" fill="rgb(203,203,203)" opacity="0.81"/><circle cx="57.5" cy="487.1" r="1.2" fill="rgb(233,233,233)" opacity="0.90"/><circle cx="30.6" cy="130.9" r="0.7" fill="rgb(230,230,230)" opacity="0.84"/><circle cx="208.2" cy="499.5" r="0.7" fill="rgb(234,234,234)" opacity="0.84"/><circle cx="352" cy="284.2" r="0.7" fill="rgb(193,193,193)" opacity="0.89"/><circle cx="57" cy="117" r="0.9" fill="rgb(178,178,178)" opacity="0.90"/><circle cx="219" cy="492.3" r="1.1" fill="rgb(208,208,208)" opacity="0.72"/><circle cx="176" cy="92.7" r="0.8" fill="rgb(218,218,218)" opacity="0.78"/><circle cx="218.1" cy="496.1" r="1" fill="rgb(184,184,184)" opacity="0.90"/><circle cx="210.4" cy="100.3" r="0.8" fill="rgb(187,187,187)" opacity="0.96"/><circle cx="271.1" cy="466.1" r="1.2" fill="rgb(196,196,196)" opacity="0.85"/><circle cx="346.2" cy="238.7" r="0.8" fill="rgb(193,193,193)" opacity="0.74"/><circle cx="330.5" cy="394.2" r="1.1" fill="rgb(181,181,181)" opacity="0.99"/><circle cx="342.6" cy="380.9" r="1.3" fill="rgb(172,172,172)" opacity="0.71"/><circle cx="319.5" cy="413" r="0.7" fill="rgb(217,217,217)" opacity="0.77"/><circle cx="354.5" cy="283" r="1.2" fill="rgb(238,238,238)" opacity="0.97"/><circle cx="215.7" cy="102.1" r="0.9" fill="rgb(196,196,196)" opacity="0.76"/><circle cx="100.1" cy="100.4" r="1.2" fill="rgb(208,208,208)" opacity="1.00"/><circle cx="356.1" cy="297.6" r="1.2" fill="rgb(203,203,203)" opacity="0.91"/><circle cx="285.2" cy="142.8" r="1" fill="rgb(234,234,234)" opacity="0.71"/><circle cx="337" cy="388.2" r="0.9" fill="rgb(234,234,234)" opacity="0.78"/><circle cx="42.1" cy="476.4" r="1.1" fill="rgb(228,228,228)" opacity="0.71"/><circle cx="28.8" cy="464.9" r="0.9" fill="rgb(222,222,222)" opacity="0.85"/><circle cx="209.6" cy="99.6" r="0.8" fill="rgb(217,217,217)" opacity="0.77"/><circle cx="51.3" cy="479.9" r="0.7" fill="rgb(242,242,242)" opacity="0.83"/><circle cx="247.7" cy="116.7" r="1.4" fill="rgb(238,238,238)" opacity="1.00"/><circle cx="316.4" cy="177.8" r="1" fill="rgb(218,218,218)" opacity="0.98"/><circle cx="10.6" cy="452.2" r="0.9" fill="rgb(199,199,199)" opacity="0.77"/><circle cx="124.8" cy="499.2" r="0.7" fill="rgb(196,196,196)" opacity="0.84"/><circle cx="287.6" cy="144.1" r="1.4" fill="rgb(234,234,234)" opacity="0.93"/><circle cx="103.3" cy="97.4" r="1.3" fill="rgb(215,215,215)" opacity="0.85"/><circle cx="183.7" cy="502.5" r="0.7" fill="rgb(231,231,231)" opacity="0.81"/><circle cx="274" cy="132.4" r="1.3" fill="rgb(195,195,195)" opacity="0.87"/><circle cx="284.4" cy="142.5" r="0.8" fill="rgb(231,231,231)" opacity="0.78"/><circle cx="353.5" cy="306.8" r="1.2" fill="rgb(200,200,200)" opacity="0.85"/><circle cx="284" cy="138.4" r="0.7" fill="rgb(251,251,251)" opacity="0.75"/><circle cx="283.1" cy="454.2" r="1" fill="rgb(230,230,230)" opacity="0.70"/><circle cx="202.6" cy="499.1" r="1.2" fill="rgb(214,214,214)" opacity="0.79"/><circle cx="255.7" cy="116.6" r="1.4" fill="rgb(178,178,178)" opacity="0.77"/><circle cx="265.4" cy="471.6" r="0.7" fill="rgb(201,201,201)" opacity="0.85"/><circle cx="348.2" cy="257.7" r="1.3" fill="rgb(227,227,227)" opacity="0.75"/><circle cx="71.1" cy="488.8" r="0.8" fill="rgb(189,189,189)" opacity="0.78"/><circle cx="356.6" cy="279" r="0.7" fill="rgb(248,248,248)" opacity="0.84"/><circle cx="343.7" cy="383.5" r="0.8" fill="rgb(183,183,183)" opacity="0.77"/><circle cx="349.7" cy="361" r="0.7" fill="rgb(179,179,179)" opacity="0.93"/><circle cx="350.2" cy="253.8" r="1.2" fill="rgb(236,236,236)" opacity="0.74"/><circle cx="318.6" cy="412.1" r="0.9" fill="rgb(181,181,181)" opacity="0.74"/><circle cx="313.1" cy="427.9" r="1.1" fill="rgb(176,176,176)" opacity="0.99"/><circle cx="286.3" cy="142.9" r="0.7" fill="rgb(230,230,230)" opacity="0.99"/><circle cx="78.3" cy="105.4" r="0.7" fill="rgb(187,187,187)" opacity="0.89"/><circle cx="279.6" cy="137.5" r="1.4" fill="rgb(203,203,203)" opacity="0.87"/><circle cx="202.7" cy="499.3" r="1.3" fill="rgb(182,182,182)" opacity="0.94"/><circle cx="312.5" cy="175.3" r="0.7" fill="rgb(247,247,247)" opacity="0.76"/><circle cx="240.2" cy="485.6" r="0.7" fill="rgb(183,183,183)" opacity="0.79"/><circle cx="128.2" cy="94.6" r="1" fill="rgb(174,174,174)" opacity="0.87"/><circle cx="236.8" cy="486.8" r="1.1" fill="rgb(211,211,211)" opacity="0.87"/><circle cx="357.5" cy="315.5" r="0.8" fill="rgb(238,238,238)" opacity="0.88"/><circle cx="240.3" cy="109.4" r="1" fill="rgb(250,250,250)" opacity="0.73"/><circle cx="305.5" cy="435.5" r="1.3" fill="rgb(219,219,219)" opacity="0.93"/><circle cx="24.9" cy="462.1" r="1.3" fill="rgb(217,217,217)" opacity="0.77"/><circle cx="338.9" cy="390" r="1.1" fill="rgb(173,173,173)" opacity="0.71"/><circle cx="302.9" cy="161.2" r="0.8" fill="rgb(208,208,208)" opacity="0.75"/><circle cx="13.9" cy="456.1" r="1.2" fill="rgb(228,228,228)" opacity="0.88"/><circle cx="314.6" cy="424.2" r="0.7" fill="rgb(251,251,251)" opacity="0.89"/><circle cx="352.9" cy="321.9" r="0.9" fill="rgb(174,174,174)" opacity="0.84"/><circle cx="339.9" cy="219" r="0.9" fill="rgb(195,195,195)" opacity="0.73"/><circle cx="354.5" cy="324.2" r="1.1" fill="rgb(215,215,215)" opacity="0.98"/><circle cx="167" cy="92.2" r="1.2" fill="rgb(246,246,246)" opacity="0.73"/><circle cx="1.8" cy="156.7" r="0.7" fill="rgb(219,219,219)" opacity="0.84"/><circle cx="255.6" cy="121.5" r="0.7" fill="rgb(181,181,181)" opacity="0.86"/><circle cx="255.7" cy="476.6" r="1.2" fill="rgb(252,252,252)" opacity="0.99"/><circle cx="352.7" cy="265.2" r="1" fill="rgb(188,188,188)" opacity="0.75"/><circle cx="19.3" cy="461.7" r="1.3" fill="rgb(249,249,249)" opacity="0.83"/><circle cx="344.5" cy="222.4" r="1.1" fill="rgb(211,211,211)" opacity="0.75"/><circle cx="49.5" cy="480.2" r="0.7" fill="rgb(254,254,254)" opacity="0.95"/><circle cx="280.8" cy="462.5" r="1.1" fill="rgb(218,218,218)" opacity="0.98"/><circle cx="329.6" cy="400" r="1.4" fill="rgb(239,239,239)" opacity="0.92"/><circle cx="277.9" cy="460.2" r="1.1" fill="rgb(202,202,202)" opacity="0.90"/><circle cx="100.1" cy="99.9" r="1" fill="rgb(239,239,239)" opacity="0.77"/><circle cx="263.4" cy="472.6" r="1" fill="rgb(254,254,254)" opacity="0.81"/><circle cx="167.2" cy="93.3" r="1.3" fill="rgb(251,251,251)" opacity="0.79"/><circle cx="327" cy="405.3" r="1" fill="rgb(211,211,211)" opacity="0.71"/><circle cx="92.3" cy="102.3" r="1.1" fill="rgb(236,236,236)" opacity="0.88"/><circle cx="333.3" cy="390.5" r="1" fill="rgb(254,254,254)" opacity="0.79"/><circle cx="272" cy="134.3" r="1.2" fill="rgb(233,233,233)" opacity="0.74"/><circle cx="344.3" cy="232.8" r="1.1" fill="rgb(214,214,214)" opacity="0.81"/><circle cx="11.1" cy="450.2" r="1" fill="rgb(200,200,200)" opacity="0.78"/><circle cx="219.6" cy="105.5" r="1.2" fill="rgb(204,204,204)" opacity="0.79"/><circle cx="228.7" cy="109.6" r="1.3" fill="rgb(198,198,198)" opacity="0.78"/><circle cx="296.9" cy="152.8" r="1.2" fill="rgb(232,232,232)" opacity="0.83"/><circle cx="335.3" cy="390.1" r="0.8" fill="rgb(177,177,177)" opacity="0.85"/><circle cx="38.7" cy="475.3" r="1.4" fill="rgb(213,213,213)" opacity="0.78"/><circle cx="334.8" cy="392.9" r="1" fill="rgb(229,229,229)" opacity="0.93"/><circle cx="17" cy="454.8" r="0.7" fill="rgb(246,246,246)" opacity="0.96"/><circle cx="340.9" cy="387.5" r="1.4" fill="rgb(252,252,252)" opacity="0.76"/><circle cx="354.6" cy="281.4" r="1.2" fill="rgb(216,216,216)" opacity="0.97"/><circle cx="55.4" cy="483.9" r="0.7" fill="rgb(241,241,241)" opacity="0.89"/><circle cx="35.4" cy="127.2" r="1.3" fill="rgb(216,216,216)" opacity="0.85"/><circle cx="356.3" cy="295.2" r="0.7" fill="rgb(243,243,243)" opacity="0.89"/><circle cx="338.3" cy="376" r="0.8" fill="rgb(217,217,217)" opacity="0.95"/><circle cx="202.4" cy="99.8" r="1.4" fill="rgb(194,194,194)" opacity="0.86"/><circle cx="243.8" cy="113.4" r="1.2" fill="rgb(192,192,192)" opacity="0.96"/><circle cx="334.9" cy="385" r="1" fill="rgb(195,195,195)" opacity="0.79"/><circle cx="356.4" cy="291" r="0.9" fill="rgb(179,179,179)" opacity="0.87"/><circle cx="243.9" cy="483.8" r="1.4" fill="rgb(216,216,216)" opacity="0.96"/><circle cx="348.3" cy="244" r="1" fill="rgb(188,188,188)" opacity="0.76"/><circle cx="326.8" cy="404.5" r="1" fill="rgb(187,187,187)" opacity="0.96"/><circle cx="93.2" cy="100.1" r="1.4" fill="rgb(240,240,240)" opacity="0.74"/><circle cx="347.5" cy="238.8" r="1.1" fill="rgb(214,214,214)" opacity="0.76"/><circle cx="32.9" cy="469.3" r="0.9" fill="rgb(216,216,216)" opacity="0.75"/><circle cx="341.7" cy="220.2" r="1.1" fill="rgb(185,185,185)" opacity="0.78"/><circle cx="52.1" cy="118.4" r="1" fill="rgb(212,212,212)" opacity="0.79"/><circle cx="33.6" cy="130.5" r="1" fill="rgb(180,180,180)" opacity="0.79"/><circle cx="307.4" cy="162" r="1.2" fill="rgb(199,199,199)" opacity="0.97"/><circle cx="278" cy="463" r="1.2" fill="rgb(244,244,244)" opacity="0.93"/><circle cx="329.8" cy="404" r="1.3" fill="rgb(254,254,254)" opacity="0.86"/><circle cx="137.9" cy="91.5" r="1.3" fill="rgb(230,230,230)" opacity="0.98"/><circle cx="7.8" cy="446.4" r="1.2" fill="rgb(217,217,217)" opacity="0.79"/><circle cx="355.2" cy="289.9" r="1.4" fill="rgb(172,172,172)" opacity="0.76"/><circle cx="292.1" cy="448" r="1.4" fill="rgb(228,228,228)" opacity="0.98"/><circle cx="257.8" cy="124.7" r="0.7" fill="rgb(186,186,186)" opacity="0.76"/><circle cx="6.5" cy="445.4" r="0.9" fill="rgb(187,187,187)" opacity="0.83"/><circle cx="276.7" cy="464.3" r="1.1" fill="rgb(205,205,205)" opacity="0.76"/><circle cx="111.7" cy="499.9" r="1.2" fill="rgb(243,243,243)" opacity="0.90"/><circle cx="350" cy="352.9" r="0.7" fill="rgb(252,252,252)" opacity="0.75"/><circle cx="188.3" cy="60" r="1.4" fill="rgb(253,253,253)" opacity="0.76"/><circle cx="403.4" cy="358.4" r="1.1" fill="rgb(184,184,184)" opacity="0.85"/><circle cx="404" cy="277.7" r="1.2" fill="rgb(240,240,240)" opacity="0.71"/><circle cx="341.3" cy="141.2" r="1.1" fill="rgb(214,214,214)" opacity="0.71"/><circle cx="388.8" cy="216.1" r="1.3" fill="rgb(247,247,247)" opacity="0.72"/><circle cx="34.6" cy="94.2" r="1.1" fill="rgb(187,187,187)" opacity="0.92"/><circle cx="403.5" cy="342" r="0.8" fill="rgb(253,253,253)" opacity="0.99"/><circle cx="344.9" cy="468.7" r="0.8" fill="rgb(222,222,222)" opacity="0.99"/><circle cx="315.3" cy="111.5" r="1.1" fill="rgb(197,197,197)" opacity="0.74"/><circle cx="224" cy="67.3" r="1.1" fill="rgb(229,229,229)" opacity="0.77"/><circle cx="82.1" cy="69.2" r="1.2" fill="rgb(224,224,224)" opacity="0.99"/><circle cx="56.4" cy="83.5" r="1.4" fill="rgb(241,241,241)" opacity="0.88"/><circle cx="369.1" cy="169.4" r="0.9" fill="rgb(171,171,171)" opacity="0.90"/><circle cx="289.6" cy="98.3" r="1.3" fill="rgb(228,228,228)" opacity="0.98"/><circle cx="363.4" cy="443.4" r="1.4" fill="rgb(246,246,246)" opacity="0.71"/><circle cx="131.4" cy="58.9" r="0.8" fill="rgb(193,193,193)" opacity="0.91"/><circle cx="348.2" cy="469.3" r="1.2" fill="rgb(250,250,250)" opacity="0.93"/><circle cx="365.8" cy="444.9" r="1.1" fill="rgb(246,246,246)" opacity="0.76"/><circle cx="155.7" cy="58.3" r="1.4" fill="rgb(193,193,193)" opacity="0.76"/><circle cx="404" cy="275.7" r="1.4" fill="rgb(233,233,233)" opacity="0.82"/><circle cx="26.6" cy="96.2" r="1.5" fill="rgb(206,206,206)" opacity="0.94"/><circle cx="380.2" cy="195.8" r="1.2" fill="rgb(235,235,235)" opacity="0.80"/><circle cx="28.8" cy="93.9" r="0.8" fill="rgb(226,226,226)" opacity="0.87"/><circle cx="285" cy="92" r="0.7" fill="rgb(246,246,246)" opacity="0.73"/><circle cx="364.7" cy="175.2" r="1.2" fill="rgb(193,193,193)" opacity="0.82"/><circle cx="371.1" cy="435" r="1.1" fill="rgb(174,174,174)" opacity="0.78"/><circle cx="328.3" cy="131.1" r="1.3" fill="rgb(205,205,205)" opacity="0.72"/><circle cx="244" cy="75.8" r="0.9" fill="rgb(179,179,179)" opacity="0.86"/><circle cx="32.2" cy="90.6" r="0.8" fill="rgb(210,210,210)" opacity="0.92"/><circle cx="113.7" cy="59.8" r="1.2" fill="rgb(241,241,241)" opacity="0.71"/><circle cx="396.4" cy="238.9" r="1.3" fill="rgb(190,190,190)" opacity="0.76"/><circle cx="75.2" cy="72.4" r="1.1" fill="rgb(186,186,186)" opacity="0.80"/><circle cx="139" cy="58.1" r="1.1" fill="rgb(235,235,235)" opacity="0.95"/><circle cx="184.4" cy="61.6" r="1.1" fill="rgb(216,216,216)" opacity="0.73"/><circle cx="298.3" cy="106.1" r="0.9" fill="rgb(221,221,221)" opacity="0.88"/><circle cx="396.3" cy="239.8" r="0.9" fill="rgb(198,198,198)" opacity="0.79"/><circle cx="160.2" cy="56.5" r="1.1" fill="rgb(180,180,180)" opacity="0.80"/><circle cx="337.9" cy="138.5" r="1.3" fill="rgb(204,204,204)" opacity="0.78"/><circle cx="162.1" cy="56.2" r="1.4" fill="rgb(236,236,236)" opacity="0.99"/><circle cx="174.8" cy="61.9" r="1" fill="rgb(191,191,191)" opacity="0.95"/><circle cx="343.2" cy="142.9" r="0.9" fill="rgb(184,184,184)" opacity="0.96"/><circle cx="342.9" cy="137.7" r="0.9" fill="rgb(239,239,239)" opacity="0.91"/><circle cx="361.7" cy="163" r="1.5" fill="rgb(243,243,243)" opacity="0.75"/><circle cx="399.4" cy="258.4" r="1.1" fill="rgb(203,203,203)" opacity="0.85"/><circle cx="407.9" cy="325" r="1" fill="rgb(179,179,179)" opacity="0.95"/><circle cx="396.7" cy="242.6" r="1.3" fill="rgb(210,210,210)" opacity="0.95"/><circle cx="359.6" cy="165.1" r="1.3" fill="rgb(175,175,175)" opacity="0.94"/><circle cx="329" cy="485.9" r="0.9" fill="rgb(226,226,226)" opacity="0.87"/><circle cx="322.1" cy="494.5" r="0.7" fill="rgb(175,175,175)" opacity="0.73"/><circle cx="32.2" cy="90.2" r="0.9" fill="rgb(186,186,186)" opacity="0.80"/><circle cx="144.4" cy="57.5" r="1.1" fill="rgb(176,176,176)" opacity="0.89"/><circle cx="402.9" cy="270.5" r="0.9" fill="rgb(223,223,223)" opacity="0.96"/><circle cx="406.6" cy="263.6" r="1.4" fill="rgb(185,185,185)" opacity="0.75"/><circle cx="405.2" cy="292.9" r="1.4" fill="rgb(183,183,183)" opacity="0.79"/><circle cx="118.5" cy="63.9" r="0.7" fill="rgb(204,204,204)" opacity="0.87"/><circle cx="399.6" cy="241.8" r="0.9" fill="rgb(186,186,186)" opacity="0.86"/><circle cx="376.8" cy="186.3" r="0.8" fill="rgb(216,216,216)" opacity="0.70"/><circle cx="302.6" cy="107.9" r="0.9" fill="rgb(233,233,233)" opacity="0.72"/><circle cx="53.2" cy="81.1" r="0.9" fill="rgb(181,181,181)" opacity="0.74"/><circle cx="78.3" cy="71" r="1.4" fill="rgb(246,246,246)" opacity="0.71"/><circle cx="241" cy="72.1" r="0.9" fill="rgb(221,221,221)" opacity="0.72"/><circle cx="393.3" cy="379.2" r="1.5" fill="rgb(198,198,198)" opacity="0.74"/><circle cx="249.2" cy="77.5" r="1" fill="rgb(188,188,188)" opacity="0.93"/><circle cx="403.7" cy="293.3" r="0.8" fill="rgb(213,213,213)" opacity="0.97"/><circle cx="202.2" cy="65.9" r="1.1" fill="rgb(245,245,245)" opacity="0.88"/><circle cx="145" cy="60.6" r="0.8" fill="rgb(197,197,197)" opacity="0.84"/><circle cx="28.5" cy="94.2" r="1.1" fill="rgb(244,244,244)" opacity="0.91"/><circle cx="386.8" cy="401.5" r="1.4" fill="rgb(228,228,228)" opacity="0.96"/><circle cx="337" cy="476.2" r="0.9" fill="rgb(210,210,210)" opacity="0.79"/><circle cx="188.5" cy="61.9" r="1.1" fill="rgb(184,184,184)" opacity="0.94"/><circle cx="369.3" cy="185.2" r="1.3" fill="rgb(192,192,192)" opacity="0.97"/><circle cx="316.7" cy="501" r="1.4" fill="rgb(255,255,255)" opacity="0.84"/><circle cx="325.7" cy="491.8" r="1.2" fill="rgb(222,222,222)" opacity="0.77"/><circle cx="279.2" cy="91" r="0.8" fill="rgb(207,207,207)" opacity="0.97"/><circle cx="345.9" cy="145.7" r="0.7" fill="rgb(199,199,199)" opacity="0.72"/><circle cx="152.6" cy="56.8" r="1.3" fill="rgb(190,190,190)" opacity="0.75"/><circle cx="374.8" cy="429.8" r="0.8" fill="rgb(192,192,192)" opacity="0.71"/><circle cx="406.5" cy="294.2" r="0.7" fill="rgb(255,255,255)" opacity="0.74"/><circle cx="243" cy="71.6" r="1.1" fill="rgb(213,213,213)" opacity="0.92"/><circle cx="400.8" cy="367" r="1.1" fill="rgb(186,186,186)" opacity="0.85"/><circle cx="178.6" cy="59.5" r="0.8" fill="rgb(184,184,184)" opacity="0.75"/><circle cx="118.8" cy="60.5" r="0.7" fill="rgb(229,229,229)" opacity="0.92"/><circle cx="402.2" cy="345.2" r="0.9" fill="rgb(230,230,230)" opacity="0.89"/><circle cx="70.9" cy="70.7" r="1.4" fill="rgb(216,216,216)" opacity="0.96"/><circle cx="328.5" cy="488.8" r="1" fill="rgb(253,253,253)" opacity="0.92"/><circle cx="404.9" cy="354.3" r="1.4" fill="rgb(197,197,197)" opacity="0.97"/><circle cx="148.3" cy="58.8" r="0.8" fill="rgb(247,247,247)" opacity="0.85"/><circle cx="363.5" cy="443.9" r="1.4" fill="rgb(173,173,173)" opacity="0.87"/><circle cx="165.7" cy="60.8" r="1.1" fill="rgb(246,246,246)" opacity="0.74"/><circle cx="403.8" cy="302.2" r="0.8" fill="rgb(181,181,181)" opacity="0.78"/><circle cx="199.5" cy="63.9" r="1.3" fill="rgb(246,246,246)" opacity="0.78"/><circle cx="364.8" cy="175.5" r="0.7" fill="rgb(177,177,177)" opacity="0.70"/><circle cx="34.1" cy="90.9" r="1.1" fill="rgb(184,184,184)" opacity="0.89"/><circle cx="164.9" cy="59.7" r="1.1" fill="rgb(237,237,237)" opacity="0.76"/><circle cx="90.2" cy="66.2" r="1.4" fill="rgb(241,241,241)" opacity="0.75"/><circle cx="373.2" cy="425.2" r="0.7" fill="rgb(184,184,184)" opacity="0.74"/><circle cx="247.2" cy="74.7" r="1.1" fill="rgb(237,237,237)" opacity="0.77"/><circle cx="100.8" cy="64.5" r="1.2" fill="rgb(180,180,180)" opacity="0.72"/><circle cx="398.5" cy="246.8" r="1.1" fill="rgb(215,215,215)" opacity="0.98"/><circle cx="400.3" cy="346" r="0.9" fill="rgb(240,240,240)" opacity="0.81"/><circle cx="363.2" cy="439" r="1" fill="rgb(234,234,234)" opacity="0.87"/><circle cx="126.9" cy="60.8" r="0.9" fill="rgb(199,199,199)" opacity="0.70"/><circle cx="138.3" cy="58.2" r="0.7" fill="rgb(181,181,181)" opacity="0.73"/><circle cx="382.8" cy="409.6" r="1.2" fill="rgb(173,173,173)" opacity="0.71"/><circle cx="204.6" cy="65.5" r="0.8" fill="rgb(180,180,180)" opacity="0.70"/><circle cx="162.5" cy="57.6" r="1.4" fill="rgb(223,223,223)" opacity="0.98"/><circle cx="206.7" cy="61.6" r="1.4" fill="rgb(231,231,231)" opacity="0.81"/><circle cx="331.1" cy="134.9" r="1.4" fill="rgb(227,227,227)" opacity="0.85"/><circle cx="404.4" cy="315.7" r="1.4" fill="rgb(196,196,196)" opacity="0.95"/><circle cx="396" cy="373.8" r="1" fill="rgb(239,239,239)" opacity="0.74"/><circle cx="329.1" cy="129.8" r="1.1" fill="rgb(223,223,223)" opacity="0.99"/><circle cx="394.2" cy="240.3" r="0.8" fill="rgb(232,232,232)" opacity="0.80"/><circle cx="164.3" cy="59.5" r="1" fill="rgb(213,213,213)" opacity="0.91"/><circle cx="388.4" cy="403.8" r="0.8" fill="rgb(218,218,218)" opacity="0.91"/><circle cx="306.4" cy="111.5" r="0.9" fill="rgb(245,245,245)" opacity="0.77"/><circle cx="381.7" cy="194.2" r="1.1" fill="rgb(232,232,232)" opacity="0.93"/><circle cx="78.7" cy="73.5" r="0.8" fill="rgb(213,213,213)" opacity="0.91"/><circle cx="404.8" cy="271.1" r="1.4" fill="rgb(223,223,223)" opacity="0.77"/><circle cx="403.2" cy="328.1" r="1.5" fill="rgb(221,221,221)" opacity="0.87"/><circle cx="381" cy="416.9" r="1.2" fill="rgb(215,215,215)" opacity="0.86"/><circle cx="220.1" cy="69.3" r="0.7" fill="rgb(200,200,200)" opacity="0.73"/><circle cx="47.9" cy="80.3" r="0.9" fill="rgb(195,195,195)" opacity="0.90"/><circle cx="348" cy="143.3" r="0.7" fill="rgb(231,231,231)" opacity="0.83"/><circle cx="365.4" cy="447.7" r="1.5" fill="rgb(230,230,230)" opacity="0.71"/><circle cx="397.4" cy="386.8" r="0.7" fill="rgb(232,232,232)" opacity="0.73"/><circle cx="405.2" cy="306" r="1.4" fill="rgb(214,214,214)" opacity="0.73"/><circle cx="379.6" cy="188.4" r="1.4" fill="rgb(254,254,254)" opacity="0.91"/><circle cx="407.5" cy="322.6" r="0.7" fill="rgb(227,227,227)" opacity="0.78"/><circle cx="332.8" cy="134.8" r="1.3" fill="rgb(225,225,225)" opacity="0.78"/><circle cx="96.3" cy="68.6" r="0.8" fill="rgb(213,213,213)" opacity="0.93"/><circle cx="342.5" cy="143.2" r="0.8" fill="rgb(171,171,171)" opacity="0.75"/><circle cx="92.3" cy="67.4" r="1.2" fill="rgb(187,187,187)" opacity="0.85"/><circle cx="329.1" cy="491.6" r="1.2" fill="rgb(189,189,189)" opacity="0.86"/><circle cx="386.6" cy="399.1" r="1.2" fill="rgb(220,220,220)" opacity="0.97"/><circle cx="315.5" cy="501.7" r="0.9" fill="rgb(191,191,191)" opacity="0.77"/><circle cx="410.4" cy="313.7" r="1.4" fill="rgb(178,178,178)" opacity="0.82"/><circle cx="214.7" cy="62.5" r="0.8" fill="rgb(225,225,225)" opacity="0.73"/><circle cx="265.5" cy="85.8" r="1.3" fill="rgb(220,220,220)" opacity="0.72"/><circle cx="403.2" cy="359.8" r="1.4" fill="rgb(243,243,243)" opacity="0.88"/><circle cx="135.4" cy="62" r="1.4" fill="rgb(217,217,217)" opacity="0.75"/><circle cx="365.7" cy="448.2" r="0.9" fill="rgb(251,251,251)" opacity="0.87"/><circle cx="369.9" cy="443.8" r="1.5" fill="rgb(245,245,245)" opacity="0.96"/><circle cx="390.9" cy="219.2" r="0.8" fill="rgb(199,199,199)" opacity="0.85"/><circle cx="157.3" cy="59.5" r="1.2" fill="rgb(231,231,231)" opacity="0.86"/><circle cx="113.2" cy="62" r="1" fill="rgb(197,197,197)" opacity="0.89"/><circle cx="391.5" cy="391.5" r="0.9" fill="rgb(249,249,249)" opacity="0.78"/><circle cx="391.9" cy="227.8" r="1.5" fill="rgb(186,186,186)" opacity="0.81"/><circle cx="404.1" cy="337.8" r="1" fill="rgb(231,231,231)" opacity="0.74"/><circle cx="402.8" cy="256.3" r="1.5" fill="rgb(223,223,223)" opacity="0.91"/><circle cx="385.5" cy="211.7" r="0.7" fill="rgb(206,206,206)" opacity="0.74"/><circle cx="359.3" cy="164.5" r="0.7" fill="rgb(249,249,249)" opacity="0.79"/><circle cx="349" cy="462" r="0.9" fill="rgb(211,211,211)" opacity="0.80"/><circle cx="221.1" cy="66.5" r="1.2" fill="rgb(230,230,230)" opacity="0.79"/><circle cx="117.3" cy="59.4" r="1.5" fill="rgb(230,230,230)" opacity="0.77"/><circle cx="362.7" cy="447.9" r="1.4" fill="rgb(216,216,216)" opacity="0.93"/><circle cx="86.3" cy="66.3" r="1.4" fill="rgb(238,238,238)" opacity="0.99"/><circle cx="199.2" cy="61.3" r="0.8" fill="rgb(174,174,174)" opacity="0.79"/><circle cx="385.1" cy="204.1" r="1.3" fill="rgb(213,213,213)" opacity="0.85"/><circle cx="366.3" cy="443.3" r="1.4" fill="rgb(231,231,231)" opacity="0.93"/><circle cx="49.3" cy="81.7" r="1.1" fill="rgb(196,196,196)" opacity="0.81"/><circle cx="42.7" cy="88.2" r="1" fill="rgb(183,183,183)" opacity="0.81"/><circle cx="401.4" cy="360.6" r="1.1" fill="rgb(236,236,236)" opacity="0.72"/><circle cx="345.8" cy="154.4" r="1.3" fill="rgb(175,175,175)" opacity="0.93"/><circle cx="342.4" cy="477.6" r="1.3" fill="rgb(197,197,197)" opacity="0.88"/><circle cx="403.6" cy="268.5" r="1" fill="rgb(232,232,232)" opacity="0.89"/><circle cx="400.1" cy="271.6" r="1.4" fill="rgb(192,192,192)" opacity="0.77"/><circle cx="395.4" cy="371.5" r="1.2" fill="rgb(211,211,211)" opacity="0.79"/><circle cx="48.9" cy="85.9" r="1" fill="rgb(233,233,233)" opacity="0.88"/><circle cx="147.5" cy="58.2" r="0.9" fill="rgb(172,172,172)" opacity="0.86"/><circle cx="5.3" cy="109.5" r="1.4" fill="rgb(254,254,254)" opacity="0.82"/><circle cx="403" cy="288.3" r="1.4" fill="rgb(216,216,216)" opacity="0.94"/><circle cx="377.1" cy="190" r="1.2" fill="rgb(193,193,193)" opacity="1.00"/><circle cx="220.1" cy="66.1" r="1.1" fill="rgb(252,252,252)" opacity="0.87"/><circle cx="390.8" cy="216.1" r="1.4" fill="rgb(198,198,198)" opacity="0.93"/><circle cx="335.5" cy="485.1" r="1.1" fill="rgb(234,234,234)" opacity="0.83"/><circle cx="145.1" cy="61" r="1.3" fill="rgb(218,218,218)" opacity="0.76"/><circle cx="185.7" cy="61.5" r="1.1" fill="rgb(223,223,223)" opacity="0.88"/><circle cx="366.5" cy="170" r="0.7" fill="rgb(249,249,249)" opacity="0.75"/><circle cx="404.4" cy="300.5" r="1.3" fill="rgb(186,186,186)" opacity="0.84"/><circle cx="226" cy="67.9" r="0.9" fill="rgb(210,210,210)" opacity="0.86"/><circle cx="389.1" cy="215.8" r="1" fill="rgb(251,251,251)" opacity="0.79"/><circle cx="214.9" cy="64.5" r="1.1" fill="rgb(207,207,207)" opacity="0.71"/><circle cx="393.8" cy="381.8" r="1.2" fill="rgb(178,178,178)" opacity="0.78"/><circle cx="99.5" cy="64.6" r="1.4" fill="rgb(215,215,215)" opacity="0.96"/><circle cx="404.4" cy="362.7" r="1" fill="rgb(210,210,210)" opacity="0.85"/><circle cx="19.3" cy="102.8" r="1.1" fill="rgb(220,220,220)" opacity="0.98"/><circle cx="223.4" cy="66.1" r="1.1" fill="rgb(214,214,214)" opacity="0.80"/><circle cx="218.6" cy="65.1" r="0.8" fill="rgb(231,231,231)" opacity="0.77"/><circle cx="348.4" cy="465.5" r="1.2" fill="rgb(252,252,252)" opacity="0.76"/><circle cx="6.6" cy="110.5" r="1.2" fill="rgb(198,198,198)" opacity="0.85"/><circle cx="297.5" cy="104.8" r="1.5" fill="rgb(205,205,205)" opacity="0.82"/><circle cx="396" cy="231.8" r="0.7" fill="rgb(220,220,220)" opacity="0.86"/><circle cx="180.2" cy="60.8" r="1.1" fill="rgb(194,194,194)" opacity="0.91"/><circle cx="235.1" cy="72.1" r="0.9" fill="rgb(202,202,202)" opacity="0.79"/><circle cx="135.8" cy="62.8" r="1.5" fill="rgb(201,201,201)" opacity="0.85"/><circle cx="193.1" cy="60.6" r="0.7" fill="rgb(182,182,182)" opacity="0.99"/><circle cx="396.3" cy="239" r="1.5" fill="rgb(183,183,183)" opacity="0.96"/><circle cx="259.6" cy="82.2" r="1.2" fill="rgb(254,254,254)" opacity="0.78"/><circle cx="404.1" cy="333" r="1.3" fill="rgb(227,227,227)" opacity="0.94"/><circle cx="368.5" cy="442.7" r="0.7" fill="rgb(197,197,197)" opacity="0.89"/><circle cx="372.1" cy="179.2" r="0.7" fill="rgb(212,212,212)" opacity="0.98"/><circle cx="60.9" cy="80.7" r="0.7" fill="rgb(192,192,192)" opacity="0.99"/><circle cx="165.1" cy="59.3" r="1" fill="rgb(177,177,177)" opacity="0.70"/><circle cx="302.6" cy="98.3" r="1.3" fill="rgb(184,184,184)" opacity="0.92"/><circle cx="332.7" cy="134.3" r="0.9" fill="rgb(179,179,179)" opacity="0.98"/><circle cx="397.8" cy="236.4" r="1.2" fill="rgb(188,188,188)" opacity="0.88"/><circle cx="341.4" cy="472.7" r="0.7" fill="rgb(232,232,232)" opacity="0.95"/><circle cx="315.2" cy="500.6" r="1.4" fill="rgb(209,209,209)" opacity="0.76"/><circle cx="20.5" cy="99.6" r="1.1" fill="rgb(216,216,216)" opacity="0.79"/><circle cx="169.4" cy="58.6" r="0.8" fill="rgb(234,234,234)" opacity="0.78"/><circle cx="395.6" cy="381.3" r="1.3" fill="rgb(246,246,246)" opacity="0.72"/><circle cx="188.7" cy="59.9" r="0.9" fill="rgb(183,183,183)" opacity="0.98"/><circle cx="67.5" cy="76" r="0.7" fill="rgb(220,220,220)" opacity="0.93"/><circle cx="364.5" cy="449.4" r="0.7" fill="rgb(218,218,218)" opacity="0.82"/><circle cx="406.8" cy="301" r="1.3" fill="rgb(224,224,224)" opacity="0.71"/><circle cx="372.2" cy="178.8" r="0.9" fill="rgb(247,247,247)" opacity="0.80"/><circle cx="402.3" cy="344.3" r="1.2" fill="rgb(174,174,174)" opacity="0.89"/><circle cx="239" cy="71.9" r="1.3" fill="rgb(186,186,186)" opacity="0.86"/><circle cx="83.5" cy="72.5" r="1.3" fill="rgb(210,210,210)" opacity="0.75"/><circle cx="0.8" cy="116" r="0.9" fill="rgb(232,232,232)" opacity="0.88"/><circle cx="392.7" cy="391.5" r="1.1" fill="rgb(208,208,208)" opacity="0.97"/><circle cx="156.1" cy="62.4" r="1.1" fill="rgb(175,175,175)" opacity="0.98"/><circle cx="400.1" cy="357.7" r="1.5" fill="rgb(190,190,190)" opacity="0.82"/><circle cx="267.1" cy="84.2" r="1.4" fill="rgb(179,179,179)" opacity="0.83"/><circle cx="376.4" cy="426.7" r="0.7" fill="rgb(254,254,254)" opacity="0.81"/><circle cx="163.8" cy="59.4" r="1" fill="rgb(184,184,184)" opacity="0.75"/><circle cx="368.1" cy="171" r="1.5" fill="rgb(206,206,206)" opacity="0.84"/><circle cx="269.3" cy="85.8" r="1.4" fill="rgb(253,253,253)" opacity="0.73"/><circle cx="360.6" cy="454" r="1.3" fill="rgb(197,197,197)" opacity="0.83"/><circle cx="123.7" cy="59.9" r="0.8" fill="rgb(250,250,250)" opacity="0.86"/><circle cx="173.5" cy="60.9" r="1.4" fill="rgb(201,201,201)" opacity="0.94"/><circle cx="315.5" cy="118.4" r="1.4" fill="rgb(170,170,170)" opacity="0.98"/><circle cx="203.9" cy="63.9" r="1.1" fill="rgb(224,224,224)" opacity="0.72"/><circle cx="274.4" cy="90.4" r="1.3" fill="rgb(195,195,195)" opacity="0.94"/><circle cx="313.2" cy="501.8" r="1.5" fill="rgb(237,237,237)" opacity="0.85"/><circle cx="301.5" cy="103.2" r="1.5" fill="rgb(242,242,242)" opacity="0.94"/><circle cx="164" cy="61.4" r="0.9" fill="rgb(193,193,193)" opacity="0.87"/><circle cx="339.5" cy="476.1" r="1.3" fill="rgb(212,212,212)" opacity="0.91"/><circle cx="67" cy="75.8" r="1" fill="rgb(237,237,237)" opacity="0.98"/><circle cx="406.1" cy="283.6" r="1" fill="rgb(244,244,244)" opacity="0.91"/><circle cx="150.3" cy="57.8" r="1.2" fill="rgb(204,204,204)" opacity="0.92"/><circle cx="186" cy="61.1" r="1.2" fill="rgb(244,244,244)" opacity="0.73"/><circle cx="135.4" cy="61.6" r="0.9" fill="rgb(212,212,212)" opacity="0.88"/><circle cx="240.8" cy="75.7" r="1" fill="rgb(193,193,193)" opacity="0.77"/><circle cx="392.8" cy="380.6" r="1" fill="rgb(255,255,255)" opacity="0.86"/><circle cx="56.2" cy="81.5" r="0.7" fill="rgb(212,212,212)" opacity="0.98"/><circle cx="194.6" cy="63.5" r="0.7" fill="rgb(188,188,188)" opacity="0.81"/><circle cx="40.8" cy="88.4" r="1.4" fill="rgb(180,180,180)" opacity="0.99"/><circle cx="396.1" cy="255.9" r="1.3" fill="rgb(205,205,205)" opacity="0.93"/><circle cx="403.5" cy="254.9" r="1.1" fill="rgb(209,209,209)" opacity="0.73"/><circle cx="349.1" cy="151.4" r="1" fill="rgb(218,218,218)" opacity="0.89"/><circle cx="397.2" cy="250.8" r="1" fill="rgb(182,182,182)" opacity="0.91"/><circle cx="334.7" cy="133.1" r="1.5" fill="rgb(194,194,194)" opacity="0.74"/><circle cx="386.2" cy="405.7" r="0.7" fill="rgb(171,171,171)" opacity="0.77"/><circle cx="9.4" cy="108.2" r="1" fill="rgb(200,200,200)" opacity="0.93"/><circle cx="373.8" cy="178.9" r="1" fill="rgb(174,174,174)" opacity="0.81"/><circle cx="335.5" cy="129.3" r="0.7" fill="rgb(240,240,240)" opacity="0.99"/><circle cx="252.5" cy="77.1" r="1.3" fill="rgb(210,210,210)" opacity="0.76"/><circle cx="338.8" cy="133.7" r="1.2" fill="rgb(214,214,214)" opacity="0.82"/><circle cx="368.1" cy="180.1" r="0.8" fill="rgb(213,213,213)" opacity="0.90"/><circle cx="121.8" cy="62.7" r="1" fill="rgb(251,251,251)" opacity="0.92"/><circle cx="380.2" cy="414.1" r="1.1" fill="rgb(221,221,221)" opacity="0.91"/><circle cx="369.7" cy="178.3" r="1" fill="rgb(178,178,178)" opacity="0.80"/><circle cx="314.1" cy="114.3" r="1" fill="rgb(209,209,209)" opacity="0.96"/><circle cx="244.1" cy="74.9" r="1.1" fill="rgb(241,241,241)" opacity="0.70"/><circle cx="328.6" cy="127.7" r="0.8" fill="rgb(244,244,244)" opacity="0.97"/><circle cx="402.5" cy="327.7" r="1" fill="rgb(198,198,198)" opacity="0.70"/><circle cx="405.7" cy="314.1" r="0.9" fill="rgb(183,183,183)" opacity="0.87"/><circle cx="347" cy="144.7" r="1.3" fill="rgb(231,231,231)" opacity="0.78"/><circle cx="161.9" cy="57.6" r="1.3" fill="rgb(183,183,183)" opacity="0.71"/><circle cx="8.4" cy="108.6" r="1" fill="rgb(211,211,211)" opacity="0.78"/><circle cx="376.6" cy="195.5" r="0.9" fill="rgb(229,229,229)" opacity="0.85"/><circle cx="126.1" cy="62.1" r="1" fill="rgb(227,227,227)" opacity="0.78"/><circle cx="368.3" cy="180.7" r="1" fill="rgb(191,191,191)" opacity="0.87"/><circle cx="70.9" cy="75.8" r="1.4" fill="rgb(242,242,242)" opacity="0.82"/><circle cx="324.9" cy="494.8" r="1.2" fill="rgb(175,175,175)" opacity="0.79"/><circle cx="177.4" cy="58.4" r="1.1" fill="rgb(211,211,211)" opacity="0.81"/><circle cx="194.6" cy="62.4" r="0.7" fill="rgb(212,212,212)" opacity="0.99"/><circle cx="362.9" cy="169.6" r="1.1" fill="rgb(175,175,175)" opacity="0.81"/><circle cx="322.6" cy="492" r="1.1" fill="rgb(202,202,202)" opacity="0.83"/><circle cx="407.3" cy="311.6" r="1.1" fill="rgb(250,250,250)" opacity="0.83"/><circle cx="403" cy="354.9" r="0.7" fill="rgb(170,170,170)" opacity="0.84"/><circle cx="168.8" cy="62.1" r="0.7" fill="rgb(236,236,236)" opacity="0.77"/><circle cx="5.2" cy="110.4" r="1.2" fill="rgb(225,225,225)" opacity="0.73"/><circle cx="402" cy="355.3" r="1.3" fill="rgb(191,191,191)" opacity="0.94"/><circle cx="401.6" cy="346.7" r="1.1" fill="rgb(229,229,229)" opacity="0.89"/><circle cx="40.1" cy="86.6" r="0.7" fill="rgb(221,221,221)" opacity="0.82"/><circle cx="283" cy="97" r="1" fill="rgb(189,189,189)" opacity="0.71"/><circle cx="85.9" cy="68.6" r="0.8" fill="rgb(246,246,246)" opacity="0.71"/><circle cx="398.3" cy="362.8" r="0.9" fill="rgb(193,193,193)" opacity="0.96"/><circle cx="271.3" cy="86.5" r="0.7" fill="rgb(189,189,189)" opacity="0.92"/><circle cx="106.7" cy="63.9" r="1.3" fill="rgb(226,226,226)" opacity="0.77"/><circle cx="60.9" cy="81.4" r="0.8" fill="rgb(176,176,176)" opacity="0.74"/><circle cx="385.7" cy="398" r="1.4" fill="rgb(201,201,201)" opacity="0.79"/><circle cx="390.4" cy="402.6" r="1.2" fill="rgb(255,255,255)" opacity="0.93"/><circle cx="55.6" cy="79.2" r="1.5" fill="rgb(175,175,175)" opacity="0.74"/><circle cx="395.4" cy="232.6" r="1.3" fill="rgb(208,208,208)" opacity="1.00"/><circle cx="400.4" cy="262.1" r="0.8" fill="rgb(206,206,206)" opacity="0.83"/><circle cx="64" cy="77.3" r="1" fill="rgb(207,207,207)" opacity="0.75"/><circle cx="400" cy="347.7" r="1.1" fill="rgb(237,237,237)" opacity="1.00"/><circle cx="54.5" cy="79.9" r="0.9" fill="rgb(221,221,221)" opacity="0.77"/><circle cx="378.3" cy="197" r="1.4" fill="rgb(238,238,238)" opacity="0.84"/><circle cx="398.1" cy="242.4" r="1.5" fill="rgb(247,247,247)" opacity="0.83"/><circle cx="335.5" cy="135.2" r="1.5" fill="rgb(209,209,209)" opacity="0.86"/><circle cx="402" cy="362" r="1.3" fill="rgb(187,187,187)" opacity="0.89"/><circle cx="121" cy="63.6" r="1.1" fill="rgb(219,219,219)" opacity="0.76"/><circle cx="403.6" cy="340.1" r="1.1" fill="rgb(242,242,242)" opacity="0.92"/><circle cx="399.3" cy="371.4" r="1.5" fill="rgb(194,194,194)" opacity="0.82"/><circle cx="110.8" cy="65.3" r="1.5" fill="rgb(216,216,216)" opacity="0.85"/><circle cx="144.9" cy="61.7" r="1" fill="rgb(242,242,242)" opacity="0.90"/><circle cx="119.3" cy="63.5" r="1.3" fill="rgb(199,199,199)" opacity="0.78"/><circle cx="101.5" cy="68.7" r="0.9" fill="rgb(246,246,246)" opacity="0.86"/><circle cx="167.7" cy="57.9" r="1.2" fill="rgb(209,209,209)" opacity="0.79"/><circle cx="143.1" cy="59.1" r="0.8" fill="rgb(251,251,251)" opacity="0.80"/><circle cx="369.2" cy="439.5" r="0.9" fill="rgb(217,217,217)" opacity="0.91"/><circle cx="186.8" cy="60.8" r="1.1" fill="rgb(190,190,190)" opacity="0.98"/><circle cx="35.1" cy="90.6" r="0.8" fill="rgb(196,196,196)" opacity="0.88"/><circle cx="51.9" cy="85.4" r="0.8" fill="rgb(211,211,211)" opacity="0.83"/><circle cx="381.6" cy="196.7" r="0.8" fill="rgb(201,201,201)" opacity="0.75"/><circle cx="180.1" cy="58.2" r="1" fill="rgb(198,198,198)" opacity="0.74"/><circle cx="334.5" cy="131.2" r="1.4" fill="rgb(199,199,199)" opacity="0.76"/><circle cx="400.5" cy="349.9" r="0.7" fill="rgb(251,251,251)" opacity="0.93"/><circle cx="234.3" cy="71.2" r="1" fill="rgb(196,196,196)" opacity="0.88"/><circle cx="305.5" cy="108" r="1" fill="rgb(185,185,185)" opacity="0.93"/><circle cx="200.4" cy="60.9" r="0.7" fill="rgb(240,240,240)" opacity="0.95"/><circle cx="327.8" cy="128" r="1.4" fill="rgb(187,187,187)" opacity="0.96"/><circle cx="170.4" cy="59.6" r="1.1" fill="rgb(240,240,240)" opacity="0.73"/><circle cx="233.2" cy="71" r="1" fill="rgb(212,212,212)" opacity="0.83"/><circle cx="327.6" cy="490.2" r="1.1" fill="rgb(207,207,207)" opacity="0.91"/><circle cx="371.8" cy="432.1" r="1" fill="rgb(252,252,252)" opacity="0.92"/><circle cx="371.4" cy="184.4" r="0.9" fill="rgb(244,244,244)" opacity="0.90"/><circle cx="398.1" cy="243.8" r="1.2" fill="rgb(182,182,182)" opacity="0.86"/><circle cx="396.6" cy="375.1" r="0.8" fill="rgb(223,223,223)" opacity="0.95"/><circle cx="107" cy="68.1" r="0.9" fill="rgb(211,211,211)" opacity="0.88"/><circle cx="190.6" cy="61.2" r="0.7" fill="rgb(244,244,244)" opacity="0.98"/><circle cx="225.5" cy="68.3" r="1.4" fill="rgb(236,236,236)" opacity="0.99"/><circle cx="340.9" cy="142.4" r="1" fill="rgb(223,223,223)" opacity="0.74"/><circle cx="375.7" cy="193.7" r="0.8" fill="rgb(175,175,175)" opacity="0.80"/><circle cx="213.8" cy="67.1" r="1.5" fill="rgb(215,215,215)" opacity="0.79"/><circle cx="69" cy="77.1" r="1.1" fill="rgb(206,206,206)" opacity="0.97"/><circle cx="369.8" cy="173.8" r="0.7" fill="rgb(237,237,237)" opacity="0.80"/><circle cx="17.5" cy="101.1" r="1.3" fill="rgb(234,234,234)" opacity="0.73"/><circle cx="395.4" cy="241.1" r="0.7" fill="rgb(170,170,170)" opacity="0.72"/><circle cx="369.8" cy="179.7" r="0.9" fill="rgb(245,245,245)" opacity="0.97"/><circle cx="371.4" cy="186.1" r="1" fill="rgb(227,227,227)" opacity="0.78"/><circle cx="294.2" cy="98.2" r="0.9" fill="rgb(238,238,238)" opacity="0.74"/><circle cx="274.8" cy="87.7" r="1.5" fill="rgb(172,172,172)" opacity="0.78"/><circle cx="385.1" cy="212.2" r="1.4" fill="rgb(208,208,208)" opacity="0.79"/><circle cx="352.2" cy="463.6" r="0.8" fill="rgb(203,203,203)" opacity="0.91"/><circle cx="392.5" cy="238.2" r="1.4" fill="rgb(217,217,217)" opacity="0.86"/><circle cx="241.5" cy="71.2" r="1.2" fill="rgb(173,173,173)" opacity="0.75"/><circle cx="406.4" cy="331.6" r="1.1" fill="rgb(232,232,232)" opacity="0.95"/><circle cx="403.9" cy="264.9" r="1.5" fill="rgb(217,217,217)" opacity="0.72"/><circle cx="168" cy="56.9" r="0.9" fill="rgb(239,239,239)" opacity="0.76"/><circle cx="322.1" cy="119.7" r="0.9" fill="rgb(219,219,219)" opacity="0.94"/><circle cx="79.4" cy="71.2" r="1.4" fill="rgb(204,204,204)" opacity="0.80"/><circle cx="397.2" cy="234.1" r="0.9" fill="rgb(253,253,253)" opacity="0.80"/><circle cx="398.1" cy="369.8" r="0.9" fill="rgb(205,205,205)" opacity="0.79"/><circle cx="255.1" cy="77.7" r="1.1" fill="rgb(235,235,235)" opacity="0.88"/><circle cx="362.1" cy="448.6" r="0.7" fill="rgb(174,174,174)" opacity="0.71"/><circle cx="49.9" cy="81.7" r="0.8" fill="rgb(240,240,240)" opacity="0.93"/><circle cx="315.2" cy="496.5" r="1" fill="rgb(255,255,255)" opacity="1.00"/><circle cx="341.3" cy="479.2" r="0.9" fill="rgb(219,219,219)" opacity="0.72"/><circle cx="207.6" cy="63.1" r="1.5" fill="rgb(210,210,210)" opacity="0.93"/><circle cx="239.3" cy="75.1" r="0.8" fill="rgb(197,197,197)" opacity="0.94"/><circle cx="245" cy="77.3" r="0.9" fill="rgb(173,173,173)" opacity="0.82"/><circle cx="134.8" cy="60.8" r="0.9" fill="rgb(250,250,250)" opacity="0.78"/><circle cx="407.9" cy="302.7" r="0.8" fill="rgb(209,209,209)" opacity="0.81"/><circle cx="13.5" cy="107.6" r="1.3" fill="rgb(199,199,199)" opacity="0.87"/><circle cx="355.3" cy="456" r="0.8" fill="rgb(201,201,201)" opacity="0.72"/><circle cx="398.6" cy="366.5" r="0.7" fill="rgb(175,175,175)" opacity="0.74"/><circle cx="242.3" cy="74.1" r="1.1" fill="rgb(215,215,215)" opacity="0.91"/><circle cx="5.3" cy="109.4" r="1.3" fill="rgb(220,220,220)" opacity="0.80"/><circle cx="407.7" cy="315.9" r="0.9" fill="rgb(203,203,203)" opacity="0.82"/><circle cx="404.3" cy="344.9" r="1.2" fill="rgb(181,181,181)" opacity="0.82"/><circle cx="258.6" cy="76.7" r="1.4" fill="rgb(213,213,213)" opacity="0.71"/><circle cx="375.3" cy="191.2" r="0.7" fill="rgb(243,243,243)" opacity="0.90"/><circle cx="297.7" cy="102.9" r="1.3" fill="rgb(238,238,238)" opacity="0.96"/><circle cx="29.7" cy="92.3" r="1.1" fill="rgb(223,223,223)" opacity="0.89"/><circle cx="68.1" cy="75.1" r="0.8" fill="rgb(184,184,184)" opacity="0.98"/><circle cx="396.9" cy="235.8" r="1.5" fill="rgb(235,235,235)" opacity="0.97"/><circle cx="374.7" cy="186.2" r="1" fill="rgb(191,191,191)" opacity="0.76"/><circle cx="197.7" cy="63.8" r="0.7" fill="rgb(253,253,253)" opacity="0.97"/><circle cx="406.9" cy="304.2" r="1.3" fill="rgb(226,226,226)" opacity="0.85"/><circle cx="336.1" cy="135.3" r="0.9" fill="rgb(190,190,190)" opacity="0.77"/><circle cx="333.2" cy="130.9" r="1.3" fill="rgb(194,194,194)" opacity="0.77"/><circle cx="310.5" cy="117.1" r="0.7" fill="rgb(178,178,178)" opacity="0.77"/><circle cx="143.9" cy="60.3" r="1.1" fill="rgb(237,237,237)" opacity="0.97"/><circle cx="397.7" cy="366.3" r="1.1" fill="rgb(186,186,186)" opacity="0.95"/><circle cx="67.4" cy="74.9" r="1.3" fill="rgb(175,175,175)" opacity="0.76"/><circle cx="251.9" cy="75.5" r="1.2" fill="rgb(245,245,245)" opacity="0.97"/><circle cx="156.9" cy="59.9" r="0.9" fill="rgb(200,200,200)" opacity="0.81"/><circle cx="143" cy="58.1" r="1.2" fill="rgb(208,208,208)" opacity="0.88"/><circle cx="407.9" cy="285.1" r="1.2" fill="rgb(229,229,229)" opacity="0.83"/><circle cx="405.8" cy="287.1" r="1.3" fill="rgb(236,236,236)" opacity="0.95"/><circle cx="399.3" cy="254.2" r="1.2" fill="rgb(234,234,234)" opacity="0.82"/><circle cx="209.7" cy="64.4" r="0.7" fill="rgb(205,205,205)" opacity="0.82"/><circle cx="396.5" cy="377.5" r="1" fill="rgb(176,176,176)" opacity="0.86"/><circle cx="383.8" cy="209.8" r="0.7" fill="rgb(182,182,182)" opacity="0.92"/><circle cx="170.9" cy="60.7" r="0.9" fill="rgb(244,244,244)" opacity="0.86"/><circle cx="202.5" cy="65.3" r="1" fill="rgb(196,196,196)" opacity="0.97"/><circle cx="236.3" cy="73.4" r="0.8" fill="rgb(230,230,230)" opacity="0.96"/><circle cx="178" cy="63" r="1.2" fill="rgb(244,244,244)" opacity="0.76"/><circle cx="66.1" cy="76.5" r="1" fill="rgb(227,227,227)" opacity="0.78"/><circle cx="337.4" cy="135.7" r="1" fill="rgb(198,198,198)" opacity="0.89"/><circle cx="355" cy="463.3" r="1.1" fill="rgb(192,192,192)" opacity="0.87"/><circle cx="379.2" cy="198.4" r="0.9" fill="rgb(250,250,250)" opacity="0.74"/><circle cx="404.7" cy="270.6" r="1.1" fill="rgb(239,239,239)" opacity="0.80"/><circle cx="113.4" cy="64.8" r="1.1" fill="rgb(184,184,184)" opacity="0.70"/><circle cx="403.2" cy="295.4" r="1.3" fill="rgb(197,197,197)" opacity="0.77"/><circle cx="109.8" cy="63.1" r="1.5" fill="rgb(238,238,238)" opacity="0.81"/><circle cx="221.8" cy="66.4" r="1.4" fill="rgb(205,205,205)" opacity="0.82"/><circle cx="384.1" cy="202" r="0.9" fill="rgb(211,211,211)" opacity="0.94"/><circle cx="350.2" cy="464.4" r="1.2" fill="rgb(176,176,176)" opacity="0.85"/><circle cx="359.3" cy="451.4" r="0.9" fill="rgb(196,196,196)" opacity="0.84"/><circle cx="402.5" cy="264.5" r="1.3" fill="rgb(219,219,219)" opacity="0.73"/><circle cx="177.2" cy="61" r="1.4" fill="rgb(208,208,208)" opacity="0.96"/><circle cx="398.2" cy="234.5" r="0.9" fill="rgb(189,189,189)" opacity="0.89"/><circle cx="399.8" cy="356.3" r="1" fill="rgb(188,188,188)" opacity="0.86"/><circle cx="393.5" cy="227.5" r="1.5" fill="rgb(213,213,213)" opacity="0.80"/><circle cx="332.6" cy="130.6" r="1.5" fill="rgb(254,254,254)" opacity="0.72"/><circle cx="215.3" cy="65.7" r="1.3" fill="rgb(237,237,237)" opacity="0.82"/><circle cx="109.9" cy="62.1" r="0.8" fill="rgb(205,205,205)" opacity="0.74"/><circle cx="314.2" cy="115.7" r="1.3" fill="rgb(223,223,223)" opacity="0.74"/><circle cx="397.7" cy="374.5" r="0.7" fill="rgb(180,180,180)" opacity="0.77"/><circle cx="317.9" cy="119.2" r="1.1" fill="rgb(204,204,204)" opacity="0.90"/><circle cx="349.7" cy="465.7" r="1.4" fill="rgb(196,196,196)" opacity="0.82"/><circle cx="334.1" cy="481.8" r="1.4" fill="rgb(225,225,225)" opacity="0.81"/><circle cx="152.8" cy="59.1" r="0.9" fill="rgb(246,246,246)" opacity="0.83"/><circle cx="97.8" cy="61.7" r="0.9" fill="rgb(253,253,253)" opacity="0.70"/><circle cx="362.1" cy="453.3" r="1.4" fill="rgb(180,180,180)" opacity="0.96"/><circle cx="384.1" cy="200.5" r="1.3" fill="rgb(213,213,213)" opacity="0.99"/><circle cx="156.1" cy="58.3" r="1.2" fill="rgb(186,186,186)" opacity="0.75"/><circle cx="208" cy="63.5" r="1.4" fill="rgb(182,182,182)" opacity="0.78"/><circle cx="393" cy="235.5" r="1.2" fill="rgb(242,242,242)" opacity="0.78"/><circle cx="393.3" cy="225" r="1.1" fill="rgb(251,251,251)" opacity="0.77"/><circle cx="372.8" cy="184.5" r="1" fill="rgb(189,189,189)" opacity="0.84"/><circle cx="315.7" cy="500.7" r="1" fill="rgb(188,188,188)" opacity="0.75"/><circle cx="371.4" cy="180.2" r="1.3" fill="rgb(244,244,244)" opacity="0.77"/><circle cx="385.3" cy="208.1" r="1.2" fill="rgb(249,249,249)" opacity="0.77"/><circle cx="55.4" cy="81.7" r="1.1" fill="rgb(199,199,199)" opacity="0.73"/><circle cx="405.1" cy="321.1" r="1.2" fill="rgb(187,187,187)" opacity="0.96"/><circle cx="402.8" cy="325.7" r="1.2" fill="rgb(180,180,180)" opacity="0.78"/><circle cx="406.4" cy="274.2" r="0.8" fill="rgb(235,235,235)" opacity="0.91"/><circle cx="397.6" cy="246.4" r="1.5" fill="rgb(232,232,232)" opacity="0.86"/><circle cx="364" cy="165.8" r="0.8" fill="rgb(229,229,229)" opacity="0.88"/><circle cx="340.8" cy="141.5" r="1.3" fill="rgb(202,202,202)" opacity="0.95"/><circle cx="237.3" cy="72.1" r="0.7" fill="rgb(223,223,223)" opacity="0.85"/><circle cx="406.3" cy="277.5" r="0.9" fill="rgb(170,170,170)" opacity="1.00"/><circle cx="405.3" cy="314" r="1" fill="rgb(218,218,218)" opacity="0.88"/><circle cx="328" cy="488.3" r="0.8" fill="rgb(171,171,171)" opacity="0.79"/><circle cx="386.4" cy="408.2" r="1.3" fill="rgb(181,181,181)" opacity="0.91"/><circle cx="315.5" cy="501.4" r="1.1" fill="rgb(193,193,193)" opacity="0.92"/><circle cx="364.3" cy="441.1" r="0.7" fill="rgb(205,205,205)" opacity="0.87"/><circle cx="390.8" cy="230.1" r="1.5" fill="rgb(233,233,233)" opacity="0.94"/><circle cx="313.4" cy="501.4" r="1.1" fill="rgb(212,212,212)" opacity="0.98"/><circle cx="408.8" cy="308.9" r="1.1" fill="rgb(239,239,239)" opacity="0.85"/><circle cx="86.9" cy="67.6" r="1.4" fill="rgb(248,248,248)" opacity="0.98"/><circle cx="395.3" cy="225.7" r="0.7" fill="rgb(173,173,173)" opacity="0.73"/><circle cx="388.4" cy="204.5" r="0.8" fill="rgb(217,217,217)" opacity="0.93"/><circle cx="327.7" cy="490.9" r="0.8" fill="rgb(196,196,196)" opacity="0.83"/><circle cx="351.7" cy="150.7" r="1.1" fill="rgb(205,205,205)" opacity="0.83"/><circle cx="333.1" cy="127.7" r="1.3" fill="rgb(242,242,242)" opacity="0.92"/><circle cx="301.6" cy="107.7" r="0.7" fill="rgb(246,246,246)" opacity="0.75"/><circle cx="357.1" cy="159.7" r="1.4" fill="rgb(206,206,206)" opacity="0.84"/><circle cx="374.5" cy="186" r="1.4" fill="rgb(194,194,194)" opacity="0.93"/><circle cx="387.3" cy="400.3" r="1.1" fill="rgb(221,221,221)" opacity="0.76"/><circle cx="403.9" cy="264.8" r="0.9" fill="rgb(225,225,225)" opacity="0.72"/><circle cx="46.1" cy="83.2" r="0.9" fill="rgb(212,212,212)" opacity="0.87"/><circle cx="193.4" cy="61.5" r="0.9" fill="rgb(254,254,254)" opacity="0.72"/><circle cx="147" cy="56.9" r="1" fill="rgb(195,195,195)" opacity="0.71"/><circle cx="371.3" cy="179" r="1.4" fill="rgb(223,223,223)" opacity="0.72"/><circle cx="395.9" cy="382.9" r="0.9" fill="rgb(202,202,202)" opacity="0.78"/><circle cx="233.6" cy="68.3" r="1.3" fill="rgb(252,252,252)" opacity="0.85"/><circle cx="141.9" cy="58.2" r="0.7" fill="rgb(241,241,241)" opacity="0.78"/><circle cx="203" cy="62.6" r="0.9" fill="rgb(173,173,173)" opacity="0.82"/><circle cx="359" cy="454.4" r="1.5" fill="rgb(240,240,240)" opacity="0.76"/><circle cx="349.1" cy="150.1" r="1.2" fill="rgb(251,251,251)" opacity="0.71"/><circle cx="102.4" cy="66.9" r="1.4" fill="rgb(253,253,253)" opacity="0.72"/><circle cx="318.6" cy="498" r="1.3" fill="rgb(240,240,240)" opacity="0.99"/><circle cx="385.9" cy="214.1" r="0.9" fill="rgb(250,250,250)" opacity="0.75"/><circle cx="405.8" cy="341.4" r="1.2" fill="rgb(183,183,183)" opacity="0.95"/><circle cx="317.1" cy="501.8" r="0.8" fill="rgb(197,197,197)" opacity="0.87"/><circle cx="364" cy="443.1" r="1.4" fill="rgb(170,170,170)" opacity="0.92"/><circle cx="313" cy="498.2" r="0.7" fill="rgb(185,185,185)" opacity="0.90"/><circle cx="318.2" cy="120.3" r="1.4" fill="rgb(246,246,246)" opacity="0.96"/><circle cx="386.7" cy="219.1" r="0.9" fill="rgb(247,247,247)" opacity="0.73"/><circle cx="346.9" cy="467.3" r="1.1" fill="rgb(209,209,209)" opacity="0.78"/><circle cx="353.9" cy="154" r="1.4" fill="rgb(194,194,194)" opacity="0.97"/><circle cx="404.1" cy="323.2" r="1.3" fill="rgb(253,253,253)" opacity="0.70"/><circle cx="403.1" cy="347.9" r="1.3" fill="rgb(250,250,250)" opacity="0.72"/><circle cx="404.4" cy="344.8" r="0.9" fill="rgb(197,197,197)" opacity="0.86"/><circle cx="365" cy="167.7" r="0.7" fill="rgb(198,198,198)" opacity="0.89"/><circle cx="21.1" cy="99.8" r="1.5" fill="rgb(240,240,240)" opacity="0.86"/><circle cx="249.1" cy="77.8" r="1.1" fill="rgb(214,214,214)" opacity="0.71"/><circle cx="360.6" cy="164.8" r="1.1" fill="rgb(237,237,237)" opacity="0.95"/><circle cx="349.2" cy="150.7" r="1" fill="rgb(186,186,186)" opacity="0.83"/><circle cx="387.3" cy="214.9" r="1" fill="rgb(208,208,208)" opacity="0.94"/><circle cx="402.3" cy="304.1" r="1.1" fill="rgb(224,224,224)" opacity="0.87"/><circle cx="386.9" cy="400.1" r="1.4" fill="rgb(195,195,195)" opacity="0.93"/><circle cx="343.8" cy="471" r="1.3" fill="rgb(181,181,181)" opacity="0.91"/><circle cx="282.1" cy="90.5" r="1.3" fill="rgb(245,245,245)" opacity="0.91"/><circle cx="403.6" cy="281.1" r="1.4" fill="rgb(203,203,203)" opacity="0.78"/><circle cx="80.8" cy="72.2" r="1.4" fill="rgb(204,204,204)" opacity="0.80"/><circle cx="290.9" cy="97.8" r="0.8" fill="rgb(193,193,193)" opacity="0.72"/><circle cx="369" cy="177.3" r="0.8" fill="rgb(204,204,204)" opacity="0.78"/><circle cx="320.6" cy="121.5" r="1" fill="rgb(193,193,193)" opacity="0.85"/><circle cx="335.4" cy="481.2" r="1.2" fill="rgb(251,251,251)" opacity="0.87"/><circle cx="347.9" cy="463.9" r="0.8" fill="rgb(238,238,238)" opacity="0.98"/><circle cx="406" cy="314" r="0.7" fill="rgb(229,229,229)" opacity="0.79"/><circle cx="316.2" cy="118.4" r="0.8" fill="rgb(250,250,250)" opacity="0.83"/><circle cx="222.4" cy="68.9" r="1.4" fill="rgb(251,251,251)" opacity="0.87"/><circle cx="387.4" cy="211.5" r="0.7" fill="rgb(221,221,221)" opacity="0.99"/><circle cx="142.4" cy="57.8" r="0.9" fill="rgb(211,211,211)" opacity="0.95"/><circle cx="347.2" cy="147.8" r="1" fill="rgb(222,222,222)" opacity="0.93"/><circle cx="289.6" cy="96.2" r="0.9" fill="rgb(222,222,222)" opacity="0.83"/><circle cx="388.1" cy="389.8" r="1.2" fill="rgb(231,231,231)" opacity="0.85"/><circle cx="404.3" cy="341" r="0.7" fill="rgb(243,243,243)" opacity="0.81"/><circle cx="215.6" cy="66.4" r="1.2" fill="rgb(202,202,202)" opacity="0.84"/><circle cx="331.4" cy="488.4" r="1.1" fill="rgb(243,243,243)" opacity="0.90"/><circle cx="388.8" cy="393.2" r="1.3" fill="rgb(223,223,223)" opacity="0.94"/><circle cx="345.9" cy="146.1" r="0.9" fill="rgb(228,228,228)" opacity="0.72"/><circle cx="393.6" cy="386.3" r="1" fill="rgb(227,227,227)" opacity="0.96"/><circle cx="266.5" cy="79.4" r="0.9" fill="rgb(253,253,253)" opacity="0.86"/><circle cx="393.6" cy="238.1" r="1.2" fill="rgb(219,219,219)" opacity="0.94"/><circle cx="343.3" cy="475.8" r="1.3" fill="rgb(196,196,196)" opacity="0.75"/><circle cx="382.2" cy="201.7" r="1.1" fill="rgb(196,196,196)" opacity="0.99"/><circle cx="65.5" cy="69.9" r="1.1" fill="rgb(196,196,196)" opacity="0.99"/><circle cx="360" cy="165.5" r="0.7" fill="rgb(226,226,226)" opacity="0.90"/><circle cx="393.4" cy="386.7" r="1.2" fill="rgb(176,176,176)" opacity="0.79"/><circle cx="169.4" cy="59.5" r="1.1" fill="rgb(245,245,245)" opacity="0.80"/><circle cx="388.9" cy="389.4" r="0.8" fill="rgb(188,188,188)" opacity="0.86"/><circle cx="363.3" cy="442" r="1.2" fill="rgb(244,244,244)" opacity="0.93"/><circle cx="350.9" cy="150.9" r="1.1" fill="rgb(175,175,175)" opacity="0.95"/><circle cx="399.8" cy="241.6" r="1.3" fill="rgb(198,198,198)" opacity="0.91"/><circle cx="316.2" cy="498.7" r="1.3" fill="rgb(221,221,221)" opacity="0.78"/><circle cx="393.8" cy="213.7" r="0.9" fill="rgb(231,231,231)" opacity="0.83"/><circle cx="165.3" cy="58.9" r="1.3" fill="rgb(239,239,239)" opacity="0.98"/><circle cx="370.5" cy="185.6" r="1.3" fill="rgb(226,226,226)" opacity="0.92"/><circle cx="91.8" cy="67.8" r="1" fill="rgb(202,202,202)" opacity="0.81"/><circle cx="47.1" cy="88.3" r="0.9" fill="rgb(229,229,229)" opacity="0.81"/><circle cx="186.3" cy="61.1" r="1.3" fill="rgb(203,203,203)" opacity="0.93"/><circle cx="251.9" cy="80.1" r="1.1" fill="rgb(199,199,199)" opacity="0.79"/><circle cx="407.3" cy="289.8" r="0.7" fill="rgb(227,227,227)" opacity="0.98"/><circle cx="353.5" cy="157.8" r="0.9" fill="rgb(208,208,208)" opacity="0.73"/><circle cx="82.6" cy="70.4" r="1.4" fill="rgb(245,245,245)" opacity="0.90"/><circle cx="44.2" cy="86.5" r="0.9" fill="rgb(221,221,221)" opacity="0.97"/><circle cx="332.3" cy="128.8" r="1.2" fill="rgb(192,192,192)" opacity="0.93"/><circle cx="396.8" cy="241" r="0.8" fill="rgb(185,185,185)" opacity="0.86"/><circle cx="358.5" cy="452.7" r="1.4" fill="rgb(236,236,236)" opacity="0.70"/><circle cx="385.9" cy="404" r="0.9" fill="rgb(200,200,200)" opacity="0.98"/><circle cx="373.7" cy="181.5" r="1.2" fill="rgb(191,191,191)" opacity="0.80"/><circle cx="393.6" cy="380.7" r="1" fill="rgb(246,246,246)" opacity="0.98"/><circle cx="357.8" cy="449.7" r="0.8" fill="rgb(178,178,178)" opacity="0.94"/><circle cx="387.5" cy="210.8" r="1.1" fill="rgb(201,201,201)" opacity="0.91"/><circle cx="408" cy="289.7" r="1.3" fill="rgb(192,192,192)" opacity="0.76"/><circle cx="298.9" cy="102.4" r="0.8" fill="rgb(231,231,231)" opacity="0.72"/><circle cx="300.6" cy="102.5" r="0.7" fill="rgb(240,240,240)" opacity="0.74"/><circle cx="54.6" cy="81" r="1" fill="rgb(253,253,253)" opacity="0.95"/><circle cx="212" cy="68.1" r="0.9" fill="rgb(181,181,181)" opacity="0.92"/><circle cx="360" cy="450.4" r="1.3" fill="rgb(174,174,174)" opacity="0.90"/><circle cx="305" cy="107" r="1.1" fill="rgb(196,196,196)" opacity="0.80"/><circle cx="406" cy="330.3" r="1.2" fill="rgb(243,243,243)" opacity="0.83"/><circle cx="394.5" cy="226.6" r="1" fill="rgb(241,241,241)" opacity="0.76"/><circle cx="335.9" cy="129.3" r="0.8" fill="rgb(234,234,234)" opacity="0.97"/><circle cx="342.9" cy="139.5" r="0.8" fill="rgb(186,186,186)" opacity="0.73"/><circle cx="243.7" cy="74.4" r="0.8" fill="rgb(202,202,202)" opacity="0.82"/><circle cx="114.7" cy="61.8" r="1" fill="rgb(222,222,222)" opacity="0.92"/><circle cx="93" cy="70.1" r="1.1" fill="rgb(245,245,245)" opacity="0.90"/><circle cx="371.6" cy="178.4" r="0.7" fill="rgb(243,243,243)" opacity="0.97"/><circle cx="349.5" cy="150.8" r="0.8" fill="rgb(187,187,187)" opacity="0.85"/><circle cx="395.6" cy="369.4" r="1.4" fill="rgb(181,181,181)" opacity="0.80"/><circle cx="354.2" cy="458.4" r="1.1" fill="rgb(180,180,180)" opacity="0.70"/><circle cx="286.5" cy="97.3" r="1.2" fill="rgb(198,198,198)" opacity="0.89"/><circle cx="247.1" cy="72.4" r="1.3" fill="rgb(197,197,197)" opacity="0.81"/><circle cx="409.2" cy="332.1" r="0.8" fill="rgb(224,224,224)" opacity="0.88"/><circle cx="347.7" cy="146.4" r="1.4" fill="rgb(206,206,206)" opacity="0.78"/><circle cx="90.1" cy="65.7" r="1.1" fill="rgb(244,244,244)" opacity="0.90"/><circle cx="217.6" cy="66.4" r="1" fill="rgb(214,214,214)" opacity="0.91"/><circle cx="404.7" cy="299.5" r="1.2" fill="rgb(219,219,219)" opacity="0.85"/><circle cx="119.9" cy="57.4" r="1" fill="rgb(215,215,215)" opacity="0.73"/><circle cx="408.1" cy="307.7" r="1.1" fill="rgb(186,186,186)" opacity="0.93"/><circle cx="65.2" cy="75.8" r="1.5" fill="rgb(212,212,212)" opacity="0.74"/><circle cx="229.4" cy="69.6" r="1.3" fill="rgb(196,196,196)" opacity="0.84"/><circle cx="165.4" cy="57.5" r="1" fill="rgb(210,210,210)" opacity="0.97"/><circle cx="398.1" cy="362" r="1" fill="rgb(251,251,251)" opacity="0.82"/><circle cx="289.6" cy="98.8" r="1.4" fill="rgb(193,193,193)" opacity="0.88"/><circle cx="268.7" cy="86.7" r="1.4" fill="rgb(207,207,207)" opacity="0.93"/><circle cx="349.7" cy="143.6" r="0.8" fill="rgb(204,204,204)" opacity="0.75"/><circle cx="380.9" cy="416.3" r="0.7" fill="rgb(184,184,184)" opacity="0.86"/><circle cx="341.1" cy="471.9" r="0.9" fill="rgb(246,246,246)" opacity="0.89"/><circle cx="387.3" cy="403.8" r="0.7" fill="rgb(237,237,237)" opacity="0.83"/><circle cx="6.5" cy="111.5" r="1.1" fill="rgb(233,233,233)" opacity="0.84"/><circle cx="407" cy="312.5" r="1.3" fill="rgb(255,255,255)" opacity="1.00"/><circle cx="389.3" cy="219.9" r="0.9" fill="rgb(179,179,179)" opacity="0.83"/><circle cx="340.1" cy="473.4" r="1.3" fill="rgb(189,189,189)" opacity="0.74"/><circle cx="390.4" cy="390.9" r="1.4" fill="rgb(206,206,206)" opacity="0.87"/><circle cx="182.2" cy="61.7" r="1.2" fill="rgb(252,252,252)" opacity="0.90"/><circle cx="347" cy="150.5" r="0.9" fill="rgb(183,183,183)" opacity="1.00"/><circle cx="395.1" cy="241" r="0.9" fill="rgb(243,243,243)" opacity="0.81"/><circle cx="387.8" cy="394.4" r="0.7" fill="rgb(237,237,237)" opacity="0.85"/><circle cx="262.5" cy="83.1" r="1.4" fill="rgb(173,173,173)" opacity="0.86"/><circle cx="397.2" cy="368.6" r="1.1" fill="rgb(184,184,184)" opacity="0.86"/><circle cx="292.6" cy="98.2" r="1.4" fill="rgb(172,172,172)" opacity="0.81"/><circle cx="122.9" cy="63.8" r="1" fill="rgb(237,237,237)" opacity="0.77"/><circle cx="402.2" cy="341.5" r="1.2" fill="rgb(234,234,234)" opacity="0.74"/><circle cx="341.4" cy="139.2" r="1.4" fill="rgb(195,195,195)" opacity="0.78"/><circle cx="51.5" cy="78" r="0.7" fill="rgb(251,251,251)" opacity="0.91"/><circle cx="399.9" cy="365.4" r="0.9" fill="rgb(230,230,230)" opacity="0.94"/><circle cx="248.8" cy="74.1" r="1" fill="rgb(179,179,179)" opacity="0.71"/><circle cx="260.1" cy="81.2" r="1.3" fill="rgb(252,252,252)" opacity="0.89"/><circle cx="356.6" cy="156.7" r="1.1" fill="rgb(251,251,251)" opacity="0.89"/><circle cx="156" cy="60.8" r="0.9" fill="rgb(237,237,237)" opacity="0.73"/><circle cx="389.7" cy="390.4" r="1.3" fill="rgb(179,179,179)" opacity="0.91"/><circle cx="278.3" cy="89.5" r="1" fill="rgb(238,238,238)" opacity="0.77"/><circle cx="120.5" cy="60.3" r="1.3" fill="rgb(223,223,223)" opacity="0.90"/><circle cx="369.6" cy="186.6" r="1.1" fill="rgb(227,227,227)" opacity="0.93"/><circle cx="168.6" cy="57" r="0.9" fill="rgb(248,248,248)" opacity="0.83"/><circle cx="276.2" cy="85.6" r="1" fill="rgb(224,224,224)" opacity="0.97"/><circle cx="90.6" cy="69.7" r="1.3" fill="rgb(244,244,244)" opacity="0.98"/><circle cx="398.5" cy="240.9" r="1.4" fill="rgb(186,186,186)" opacity="0.90"/><circle cx="10.7" cy="107.5" r="1.1" fill="rgb(251,251,251)" opacity="0.91"/><circle cx="347.9" cy="470.3" r="0.8" fill="rgb(214,214,214)" opacity="0.71"/><circle cx="161.6" cy="59.3" r="1" fill="rgb(213,213,213)" opacity="0.77"/><circle cx="322.7" cy="495.7" r="1.5" fill="rgb(216,216,216)" opacity="0.76"/><circle cx="101.3" cy="64.7" r="1.3" fill="rgb(229,229,229)" opacity="0.70"/><circle cx="341" cy="141.5" r="0.9" fill="rgb(248,248,248)" opacity="0.91"/><circle cx="383.1" cy="207.4" r="0.9" fill="rgb(200,200,200)" opacity="0.90"/><circle cx="402.3" cy="346.1" r="0.7" fill="rgb(170,170,170)" opacity="0.77"/><circle cx="205" cy="63.2" r="1.2" fill="rgb(231,231,231)" opacity="0.92"/><circle cx="336.7" cy="136.1" r="0.8" fill="rgb(196,196,196)" opacity="0.87"/><circle cx="96.6" cy="65.7" r="1.1" fill="rgb(217,217,217)" opacity="0.91"/><circle cx="342.5" cy="476.1" r="1.3" fill="rgb(228,228,228)" opacity="0.75"/><circle cx="97.9" cy="67.3" r="0.9" fill="rgb(213,213,213)" opacity="0.96"/><circle cx="44.9" cy="85.3" r="0.7" fill="rgb(195,195,195)" opacity="0.82"/><circle cx="132.7" cy="55.6" r="1.2" fill="rgb(253,253,253)" opacity="0.90"/><circle cx="402.2" cy="259.6" r="0.9" fill="rgb(193,193,193)" opacity="0.99"/><circle cx="405.4" cy="331.4" r="0.7" fill="rgb(246,246,246)" opacity="0.90"/><circle cx="47.1" cy="83.4" r="0.9" fill="rgb(174,174,174)" opacity="0.87"/><circle cx="395.5" cy="229.4" r="0.8" fill="rgb(208,208,208)" opacity="0.75"/><circle cx="399.4" cy="256.6" r="1.4" fill="rgb(238,238,238)" opacity="0.84"/><circle cx="406.6" cy="290.8" r="1.3" fill="rgb(209,209,209)" opacity="0.82"/><circle cx="367.3" cy="436.6" r="1.1" fill="rgb(218,218,218)" opacity="0.79"/><circle cx="389.6" cy="392.2" r="1.4" fill="rgb(238,238,238)" opacity="0.87"/><circle cx="195.1" cy="61.8" r="1.2" fill="rgb(210,210,210)" opacity="0.83"/><circle cx="395.9" cy="235.5" r="1.5" fill="rgb(189,189,189)" opacity="0.95"/><circle cx="403.7" cy="303.1" r="1.3" fill="rgb(197,197,197)" opacity="0.74"/><circle cx="356.4" cy="160.2" r="1.5" fill="rgb(194,194,194)" opacity="0.91"/><circle cx="406.1" cy="298.4" r="0.7" fill="rgb(203,203,203)" opacity="0.85"/><circle cx="408.2" cy="297.5" r="0.7" fill="rgb(234,234,234)" opacity="0.76"/><circle cx="70.7" cy="73.3" r="1.2" fill="rgb(196,196,196)" opacity="0.77"/><circle cx="391" cy="388.4" r="0.9" fill="rgb(240,240,240)" opacity="0.91"/><circle cx="400.2" cy="263.4" r="1.1" fill="rgb(221,221,221)" opacity="1.00"/><circle cx="41.4" cy="92.4" r="1.4" fill="rgb(195,195,195)" opacity="0.74"/><circle cx="80.3" cy="67.3" r="0.7" fill="rgb(225,225,225)" opacity="0.76"/><circle cx="96.5" cy="62.9" r="0.8" fill="rgb(176,176,176)" opacity="0.83"/><circle cx="78.5" cy="71.9" r="1.1" fill="rgb(186,186,186)" opacity="0.84"/><circle cx="63.7" cy="77.9" r="0.9" fill="rgb(176,176,176)" opacity="0.84"/><circle cx="328.6" cy="488.8" r="1" fill="rgb(171,171,171)" opacity="0.98"/><circle cx="390.8" cy="388.1" r="1.2" fill="rgb(238,238,238)" opacity="0.94"/><circle cx="140" cy="58.2" r="1.3" fill="rgb(204,204,204)" opacity="0.94"/><circle cx="405.6" cy="303.7" r="0.8" fill="rgb(232,232,232)" opacity="0.87"/><circle cx="403.5" cy="291.6" r="1.4" fill="rgb(185,185,185)" opacity="0.92"/><circle cx="358.5" cy="450" r="0.7" fill="rgb(182,182,182)" opacity="0.81"/><circle cx="197.5" cy="63.1" r="1.1" fill="rgb(240,240,240)" opacity="0.80"/><circle cx="297.8" cy="101.2" r="0.7" fill="rgb(199,199,199)" opacity="0.96"/><circle cx="401.3" cy="261.5" r="1.3" fill="rgb(217,217,217)" opacity="0.84"/><circle cx="99.7" cy="67.3" r="1.2" fill="rgb(172,172,172)" opacity="0.96"/><circle cx="345.2" cy="474.4" r="1.1" fill="rgb(229,229,229)" opacity="0.93"/><circle cx="30.1" cy="94" r="1.2" fill="rgb(212,212,212)" opacity="0.85"/><circle cx="461.8" cy="342.5" r="0.7" fill="rgb(213,213,213)" opacity="0.72"/><circle cx="386.1" cy="111.3" r="1.3" fill="rgb(252,252,252)" opacity="1.00"/><circle cx="141.5" cy="5.1" r="1" fill="rgb(230,230,230)" opacity="0.99"/><circle cx="268.4" cy="23.5" r="1.3" fill="rgb(249,249,249)" opacity="0.95"/><circle cx="92.9" cy="9.8" r="0.9" fill="rgb(247,247,247)" opacity="0.96"/><circle cx="444.6" cy="403" r="0.9" fill="rgb(218,218,218)" opacity="0.89"/><circle cx="85.9" cy="13.1" r="0.7" fill="rgb(209,209,209)" opacity="0.86"/><circle cx="151" cy="4.6" r="1.1" fill="rgb(202,202,202)" opacity="0.88"/><circle cx="427.5" cy="446" r="0.7" fill="rgb(227,227,227)" opacity="0.77"/><circle cx="245.2" cy="14.8" r="0.8" fill="rgb(254,254,254)" opacity="0.75"/><circle cx="251.8" cy="18" r="1.1" fill="rgb(180,180,180)" opacity="0.92"/><circle cx="407.1" cy="479.7" r="0.7" fill="rgb(246,246,246)" opacity="0.79"/><circle cx="435.4" cy="426.7" r="1.2" fill="rgb(236,236,236)" opacity="0.86"/><circle cx="203.5" cy="8.4" r="0.9" fill="rgb(234,234,234)" opacity="0.93"/><circle cx="457.3" cy="241.8" r="0.7" fill="rgb(183,183,183)" opacity="0.74"/><circle cx="441.8" cy="414.7" r="1.2" fill="rgb(170,170,170)" opacity="0.70"/><circle cx="447" cy="393.8" r="0.8" fill="rgb(247,247,247)" opacity="0.73"/><circle cx="460.8" cy="284.6" r="1.1" fill="rgb(240,240,240)" opacity="0.91"/><circle cx="218.9" cy="6.2" r="1.2" fill="rgb(225,225,225)" opacity="0.88"/><circle cx="437.4" cy="421.5" r="1.3" fill="rgb(228,228,228)" opacity="0.84"/><circle cx="459.2" cy="274" r="0.7" fill="rgb(192,192,192)" opacity="0.87"/><circle cx="440.9" cy="203.5" r="1.2" fill="rgb(245,245,245)" opacity="0.92"/><circle cx="399.4" cy="494.8" r="1" fill="rgb(193,193,193)" opacity="0.82"/><circle cx="390.8" cy="112.7" r="1.2" fill="rgb(189,189,189)" opacity="0.88"/><circle cx="396.9" cy="487.7" r="1.3" fill="rgb(194,194,194)" opacity="0.97"/><circle cx="460" cy="353.6" r="1.1" fill="rgb(233,233,233)" opacity="0.87"/><circle cx="429.6" cy="168.1" r="1.1" fill="rgb(226,226,226)" opacity="0.75"/><circle cx="438.2" cy="182.9" r="0.9" fill="rgb(208,208,208)" opacity="0.98"/><circle cx="457.5" cy="262.5" r="0.7" fill="rgb(230,230,230)" opacity="0.89"/><circle cx="456" cy="256.3" r="1.1" fill="rgb(201,201,201)" opacity="0.84"/><circle cx="290.7" cy="31.8" r="1.1" fill="rgb(208,208,208)" opacity="0.92"/><circle cx="372.3" cy="92.2" r="1.3" fill="rgb(237,237,237)" opacity="0.97"/><circle cx="457.5" cy="369.9" r="1" fill="rgb(229,229,229)" opacity="0.90"/><circle cx="420.6" cy="159.7" r="0.8" fill="rgb(178,178,178)" opacity="0.74"/><circle cx="423.9" cy="157.3" r="1.2" fill="rgb(172,172,172)" opacity="0.90"/><circle cx="392.4" cy="494.8" r="1.1" fill="rgb(176,176,176)" opacity="0.84"/><circle cx="29.4" cy="30.2" r="1.1" fill="rgb(234,234,234)" opacity="0.91"/><circle cx="443.2" cy="205.2" r="0.8" fill="rgb(213,213,213)" opacity="0.81"/><circle cx="34.9" cy="32.6" r="1.1" fill="rgb(202,202,202)" opacity="0.78"/><circle cx="103" cy="8.3" r="1.1" fill="rgb(236,236,236)" opacity="0.95"/><circle cx="400.7" cy="126.1" r="1.1" fill="rgb(221,221,221)" opacity="0.76"/><circle cx="400" cy="487.1" r="1" fill="rgb(191,191,191)" opacity="0.95"/><circle cx="456.9" cy="249.6" r="0.9" fill="rgb(227,227,227)" opacity="0.88"/><circle cx="211.1" cy="5.5" r="0.7" fill="rgb(200,200,200)" opacity="0.79"/><circle cx="461.7" cy="280.9" r="1.3" fill="rgb(194,194,194)" opacity="0.88"/><circle cx="437.3" cy="427.8" r="1.3" fill="rgb(198,198,198)" opacity="0.79"/><circle cx="448.4" cy="395.5" r="1.1" fill="rgb(195,195,195)" opacity="0.97"/><circle cx="418.8" cy="460.5" r="1.3" fill="rgb(224,224,224)" opacity="0.95"/><circle cx="105" cy="4.1" r="1" fill="rgb(246,246,246)" opacity="0.94"/><circle cx="78.2" cy="15.7" r="0.7" fill="rgb(198,198,198)" opacity="0.89"/><circle cx="445.8" cy="398.8" r="1.3" fill="rgb(171,171,171)" opacity="0.78"/><circle cx="56.5" cy="22.3" r="0.9" fill="rgb(210,210,210)" opacity="0.89"/><circle cx="229.3" cy="15.3" r="1" fill="rgb(193,193,193)" opacity="0.79"/><circle cx="459.4" cy="354.4" r="1.1" fill="rgb(218,218,218)" opacity="1.00"/><circle cx="363.5" cy="84.3" r="1" fill="rgb(243,243,243)" opacity="0.75"/><circle cx="432.2" cy="428" r="1.1" fill="rgb(247,247,247)" opacity="0.75"/><circle cx="408.8" cy="137.7" r="1.1" fill="rgb(199,199,199)" opacity="0.75"/><circle cx="449.2" cy="379.7" r="1.2" fill="rgb(251,251,251)" opacity="0.96"/><circle cx="396.3" cy="123.9" r="1" fill="rgb(217,217,217)" opacity="0.94"/><circle cx="447.1" cy="202.2" r="1.2" fill="rgb(230,230,230)" opacity="0.98"/><circle cx="445.4" cy="201.1" r="0.8" fill="rgb(176,176,176)" opacity="0.93"/><circle cx="443.9" cy="201.2" r="0.9" fill="rgb(250,250,250)" opacity="0.85"/><circle cx="340" cy="58.7" r="1" fill="rgb(173,173,173)" opacity="0.85"/><circle cx="371.6" cy="90.5" r="1.3" fill="rgb(252,252,252)" opacity="0.75"/><circle cx="456.4" cy="370.2" r="1.1" fill="rgb(209,209,209)" opacity="0.72"/><circle cx="351.9" cy="73" r="0.8" fill="rgb(253,253,253)" opacity="0.75"/><circle cx="443.6" cy="417.4" r="1.1" fill="rgb(173,173,173)" opacity="0.72"/><circle cx="269.1" cy="23" r="1.2" fill="rgb(218,218,218)" opacity="0.91"/><circle cx="455.6" cy="234.3" r="0.7" fill="rgb(211,211,211)" opacity="0.86"/><circle cx="52.2" cy="20" r="0.8" fill="rgb(185,185,185)" opacity="0.88"/><circle cx="250.9" cy="13.8" r="1.1" fill="rgb(208,208,208)" opacity="0.82"/><circle cx="141.9" cy="0.5" r="1.3" fill="rgb(236,236,236)" opacity="0.93"/><circle cx="457.6" cy="247.2" r="1.1" fill="rgb(248,248,248)" opacity="0.80"/><circle cx="458.3" cy="289.8" r="0.9" fill="rgb(236,236,236)" opacity="0.91"/><circle cx="295.5" cy="37.7" r="1.1" fill="rgb(252,252,252)" opacity="1.00"/><circle cx="448.4" cy="393" r="0.7" fill="rgb(228,228,228)" opacity="0.83"/><circle cx="307" cy="41.1" r="1" fill="rgb(220,220,220)" opacity="0.96"/><circle cx="410.9" cy="140.9" r="1" fill="rgb(193,193,193)" opacity="0.96"/><circle cx="58.9" cy="16.6" r="1.1" fill="rgb(209,209,209)" opacity="0.95"/><circle cx="6.7" cy="45.8" r="0.8" fill="rgb(210,210,210)" opacity="0.73"/><circle cx="369.1" cy="86.3" r="0.7" fill="rgb(222,222,222)" opacity="0.91"/><circle cx="440.5" cy="421.6" r="0.7" fill="rgb(211,211,211)" opacity="0.76"/><circle cx="226.2" cy="8.7" r="1.2" fill="rgb(217,217,217)" opacity="0.88"/><circle cx="110.7" cy="6.8" r="0.7" fill="rgb(238,238,238)" opacity="0.77"/><circle cx="255.9" cy="19.3" r="0.8" fill="rgb(227,227,227)" opacity="0.85"/><circle cx="241" cy="16.2" r="1.1" fill="rgb(230,230,230)" opacity="0.74"/><circle cx="258.4" cy="15.6" r="0.8" fill="rgb(255,255,255)" opacity="0.71"/><circle cx="407.1" cy="132.7" r="0.7" fill="rgb(193,193,193)" opacity="0.99"/><circle cx="150.9" cy="0.6" r="1.1" fill="rgb(204,204,204)" opacity="0.95"/><circle cx="242.4" cy="18.6" r="0.9" fill="rgb(249,249,249)" opacity="0.91"/><circle cx="223.4" cy="11.5" r="1.3" fill="rgb(253,253,253)" opacity="0.98"/><circle cx="341" cy="60.3" r="0.7" fill="rgb(199,199,199)" opacity="0.82"/><circle cx="405" cy="483.7" r="1.1" fill="rgb(233,233,233)" opacity="0.74"/><circle cx="354.3" cy="73.4" r="1.3" fill="rgb(194,194,194)" opacity="0.85"/><circle cx="450.5" cy="383.2" r="0.7" fill="rgb(174,174,174)" opacity="0.80"/><circle cx="417.1" cy="467.5" r="0.9" fill="rgb(241,241,241)" opacity="0.83"/><circle cx="84.2" cy="8.6" r="0.8" fill="rgb(181,181,181)" opacity="0.97"/><circle cx="304.5" cy="37.1" r="1.1" fill="rgb(219,219,219)" opacity="0.97"/><circle cx="59.9" cy="20.4" r="1" fill="rgb(226,226,226)" opacity="0.82"/><circle cx="439.3" cy="186.7" r="0.8" fill="rgb(231,231,231)" opacity="0.88"/><circle cx="455.8" cy="243.9" r="0.9" fill="rgb(174,174,174)" opacity="0.81"/><circle cx="239.2" cy="9.9" r="0.7" fill="rgb(174,174,174)" opacity="0.70"/><circle cx="63.8" cy="19.3" r="0.9" fill="rgb(229,229,229)" opacity="0.86"/><circle cx="404.6" cy="120.6" r="0.7" fill="rgb(243,243,243)" opacity="0.75"/><circle cx="20.1" cy="36.6" r="0.7" fill="rgb(228,228,228)" opacity="0.79"/><circle cx="446.4" cy="212.1" r="0.9" fill="rgb(238,238,238)" opacity="0.83"/><circle cx="440.1" cy="418.8" r="0.8" fill="rgb(199,199,199)" opacity="0.74"/><circle cx="450.6" cy="392" r="0.7" fill="rgb(205,205,205)" opacity="0.95"/><circle cx="373.9" cy="91.7" r="1.1" fill="rgb(179,179,179)" opacity="0.89"/><circle cx="271.3" cy="23.7" r="0.7" fill="rgb(199,199,199)" opacity="0.98"/><circle cx="394.6" cy="118" r="1.1" fill="rgb(248,248,248)" opacity="0.76"/><circle cx="422.1" cy="456.8" r="0.9" fill="rgb(213,213,213)" opacity="0.98"/><circle cx="461.5" cy="293.3" r="1.2" fill="rgb(217,217,217)" opacity="0.79"/><circle cx="418.9" cy="142.5" r="0.8" fill="rgb(189,189,189)" opacity="0.74"/><circle cx="436.3" cy="186.7" r="1.3" fill="rgb(217,217,217)" opacity="0.92"/><circle cx="447.8" cy="392.5" r="1.2" fill="rgb(216,216,216)" opacity="0.79"/><circle cx="330.1" cy="57.7" r="1.3" fill="rgb(198,198,198)" opacity="0.93"/><circle cx="182.8" cy="4.9" r="1" fill="rgb(218,218,218)" opacity="0.72"/><circle cx="247.2" cy="18.9" r="1.2" fill="rgb(177,177,177)" opacity="0.99"/><circle cx="207" cy="7.3" r="1" fill="rgb(245,245,245)" opacity="0.76"/><circle cx="376.8" cy="94.2" r="0.9" fill="rgb(217,217,217)" opacity="0.94"/><circle cx="374.6" cy="97.3" r="1" fill="rgb(254,254,254)" opacity="0.72"/><circle cx="429.6" cy="437.3" r="1.3" fill="rgb(179,179,179)" opacity="0.87"/><circle cx="144.8" cy="3" r="0.9" fill="rgb(242,242,242)" opacity="0.86"/><circle cx="444.6" cy="209.8" r="0.9" fill="rgb(203,203,203)" opacity="0.82"/><circle cx="392.7" cy="116.4" r="1" fill="rgb(181,181,181)" opacity="1.00"/><circle cx="456.1" cy="375.2" r="1.1" fill="rgb(206,206,206)" opacity="0.98"/><circle cx="424.5" cy="451.2" r="1.3" fill="rgb(174,174,174)" opacity="0.76"/><circle cx="380.7" cy="99.9" r="0.8" fill="rgb(230,230,230)" opacity="0.76"/><circle cx="158.9" cy="2.1" r="1.3" fill="rgb(211,211,211)" opacity="0.83"/><circle cx="462.4" cy="286.1" r="1.3" fill="rgb(230,230,230)" opacity="0.99"/><circle cx="302.7" cy="35" r="1.2" fill="rgb(245,245,245)" opacity="0.93"/><circle cx="457.2" cy="244" r="1" fill="rgb(176,176,176)" opacity="0.83"/><circle cx="458.1" cy="338.5" r="1.3" fill="rgb(236,236,236)" opacity="0.86"/><circle cx="421.4" cy="155.1" r="0.7" fill="rgb(211,211,211)" opacity="0.71"/><circle cx="460.9" cy="313.9" r="1.1" fill="rgb(183,183,183)" opacity="0.74"/><circle cx="434" cy="171.7" r="1.2" fill="rgb(239,239,239)" opacity="0.79"/><circle cx="456.2" cy="270.7" r="0.9" fill="rgb(242,242,242)" opacity="0.81"/><circle cx="271.5" cy="23.4" r="1.2" fill="rgb(171,171,171)" opacity="0.93"/><circle cx="455.3" cy="373.2" r="0.8" fill="rgb(196,196,196)" opacity="0.86"/><circle cx="353" cy="75.5" r="0.9" fill="rgb(186,186,186)" opacity="0.76"/><circle cx="278.4" cy="26" r="1.3" fill="rgb(185,185,185)" opacity="0.76"/><circle cx="13.6" cy="38.5" r="0.7" fill="rgb(171,171,171)" opacity="0.87"/><circle cx="326.1" cy="51.7" r="1.1" fill="rgb(218,218,218)" opacity="0.79"/><circle cx="426.2" cy="164.7" r="0.9" fill="rgb(180,180,180)" opacity="0.98"/><circle cx="439.2" cy="199.3" r="1.1" fill="rgb(253,253,253)" opacity="0.95"/><circle cx="3.7" cy="45.8" r="1.3" fill="rgb(254,254,254)" opacity="0.96"/><circle cx="414.4" cy="466.4" r="1.1" fill="rgb(234,234,234)" opacity="0.78"/><circle cx="211.9" cy="7.6" r="0.9" fill="rgb(240,240,240)" opacity="0.91"/><circle cx="79.6" cy="14" r="1.3" fill="rgb(175,175,175)" opacity="0.83"/><circle cx="423.2" cy="452.7" r="1.3" fill="rgb(243,243,243)" opacity="0.76"/><circle cx="311.2" cy="42.5" r="1.1" fill="rgb(195,195,195)" opacity="0.82"/><circle cx="428.1" cy="450.6" r="0.7" fill="rgb(219,219,219)" opacity="0.82"/><circle cx="438.3" cy="183.3" r="1.2" fill="rgb(223,223,223)" opacity="0.71"/><circle cx="462.5" cy="281.1" r="1.1" fill="rgb(215,215,215)" opacity="0.99"/><circle cx="456.9" cy="353.6" r="0.8" fill="rgb(250,250,250)" opacity="0.99"/><circle cx="462.9" cy="348.4" r="0.7" fill="rgb(170,170,170)" opacity="0.77"/><circle cx="457.2" cy="271.8" r="0.7" fill="rgb(176,176,176)" opacity="0.96"/><circle cx="425.5" cy="161.1" r="1.2" fill="rgb(206,206,206)" opacity="0.87"/><circle cx="436.6" cy="427.7" r="0.7" fill="rgb(180,180,180)" opacity="0.81"/><circle cx="396.1" cy="119.1" r="0.9" fill="rgb(206,206,206)" opacity="0.84"/><circle cx="207.4" cy="10.4" r="0.8" fill="rgb(186,186,186)" opacity="0.85"/><circle cx="361.1" cy="86.6" r="1.1" fill="rgb(242,242,242)" opacity="0.81"/><circle cx="460.6" cy="326.7" r="1.3" fill="rgb(245,245,245)" opacity="0.93"/><circle cx="415.2" cy="464.3" r="1.2" fill="rgb(236,236,236)" opacity="0.96"/><circle cx="406.2" cy="475.7" r="1.3" fill="rgb(193,193,193)" opacity="0.85"/><circle cx="37.6" cy="23.9" r="0.7" fill="rgb(236,236,236)" opacity="0.97"/><circle cx="453.4" cy="231.6" r="0.7" fill="rgb(209,209,209)" opacity="0.80"/><circle cx="453.9" cy="218.5" r="0.7" fill="rgb(246,246,246)" opacity="0.98"/><circle cx="287.4" cy="32.3" r="0.8" fill="rgb(241,241,241)" opacity="0.96"/><circle cx="366" cy="81.5" r="0.9" fill="rgb(230,230,230)" opacity="0.70"/><circle cx="158.5" cy="2.4" r="0.7" fill="rgb(239,239,239)" opacity="1.00"/><circle cx="463.4" cy="330.2" r="1.3" fill="rgb(226,226,226)" opacity="0.85"/><circle cx="447.8" cy="222.6" r="0.7" fill="rgb(216,216,216)" opacity="0.88"/><circle cx="85" cy="12.4" r="0.7" fill="rgb(194,194,194)" opacity="0.73"/><circle cx="433.7" cy="171.6" r="1.1" fill="rgb(181,181,181)" opacity="0.75"/><circle cx="412.8" cy="469.1" r="0.9" fill="rgb(180,180,180)" opacity="0.73"/><circle cx="439.5" cy="420" r="0.7" fill="rgb(184,184,184)" opacity="0.71"/><circle cx="188.6" cy="4.6" r="0.9" fill="rgb(209,209,209)" opacity="0.92"/><circle cx="458.7" cy="258.4" r="1.3" fill="rgb(218,218,218)" opacity="0.73"/><circle cx="406.6" cy="478.5" r="0.8" fill="rgb(237,237,237)" opacity="0.75"/><circle cx="93.3" cy="12.8" r="1" fill="rgb(254,254,254)" opacity="0.95"/><circle cx="402.5" cy="124" r="0.9" fill="rgb(182,182,182)" opacity="0.79"/><circle cx="366.6" cy="89" r="1" fill="rgb(207,207,207)" opacity="0.78"/><circle cx="170" cy="2.4" r="0.8" fill="rgb(195,195,195)" opacity="0.81"/><circle cx="303" cy="33.5" r="0.7" fill="rgb(191,191,191)" opacity="0.83"/><circle cx="432.1" cy="436.6" r="1" fill="rgb(229,229,229)" opacity="0.82"/><circle cx="426" cy="156.4" r="1" fill="rgb(238,238,238)" opacity="0.74"/><circle cx="317.5" cy="45.5" r="1.2" fill="rgb(197,197,197)" opacity="0.80"/><circle cx="443.5" cy="417.3" r="0.7" fill="rgb(188,188,188)" opacity="0.81"/><circle cx="437.6" cy="201" r="1.1" fill="rgb(208,208,208)" opacity="0.81"/><circle cx="366.8" cy="86.1" r="1.1" fill="rgb(212,212,212)" opacity="0.85"/><circle cx="452.7" cy="242.4" r="1.3" fill="rgb(249,249,249)" opacity="0.86"/><circle cx="46.6" cy="26.9" r="0.7" fill="rgb(179,179,179)" opacity="0.88"/><circle cx="407.3" cy="479.1" r="1.2" fill="rgb(208,208,208)" opacity="0.92"/><circle cx="462.2" cy="256.9" r="1.2" fill="rgb(174,174,174)" opacity="0.75"/><circle cx="34.2" cy="30.7" r="1.1" fill="rgb(230,230,230)" opacity="0.98"/><circle cx="313.7" cy="42.7" r="1.1" fill="rgb(223,223,223)" opacity="0.95"/><circle cx="463.7" cy="301.3" r="0.7" fill="rgb(245,245,245)" opacity="0.71"/><circle cx="242.7" cy="15.3" r="1.3" fill="rgb(233,233,233)" opacity="0.94"/><circle cx="114.1" cy="2.9" r="1.2" fill="rgb(252,252,252)" opacity="0.72"/><circle cx="11.3" cy="42.4" r="0.8" fill="rgb(222,222,222)" opacity="0.75"/><circle cx="461.2" cy="330.8" r="0.8" fill="rgb(202,202,202)" opacity="0.97"/><circle cx="442.3" cy="204.7" r="0.7" fill="rgb(238,238,238)" opacity="0.83"/><circle cx="93.1" cy="12.9" r="1.2" fill="rgb(221,221,221)" opacity="0.71"/><circle cx="426.7" cy="166.3" r="0.9" fill="rgb(189,189,189)" opacity="0.95"/><circle cx="303.4" cy="43.1" r="1.2" fill="rgb(253,253,253)" opacity="0.86"/><circle cx="2" cy="45.5" r="1.2" fill="rgb(175,175,175)" opacity="0.89"/><circle cx="311" cy="43.5" r="1" fill="rgb(197,197,197)" opacity="0.95"/><circle cx="57.7" cy="17.9" r="1.1" fill="rgb(230,230,230)" opacity="0.85"/><circle cx="288.5" cy="33.2" r="0.8" fill="rgb(190,190,190)" opacity="0.98"/><circle cx="261.5" cy="17.3" r="1" fill="rgb(224,224,224)" opacity="0.74"/><circle cx="401.8" cy="125.1" r="0.8" fill="rgb(191,191,191)" opacity="0.92"/><circle cx="456.2" cy="335.5" r="0.7" fill="rgb(238,238,238)" opacity="0.90"/><circle cx="423.3" cy="165" r="0.7" fill="rgb(209,209,209)" opacity="0.83"/><circle cx="445.8" cy="211.3" r="1" fill="rgb(175,175,175)" opacity="0.89"/><circle cx="333.8" cy="58.4" r="0.8" fill="rgb(183,183,183)" opacity="0.73"/><circle cx="392.5" cy="119.1" r="0.9" fill="rgb(236,236,236)" opacity="0.78"/><circle cx="456.2" cy="235" r="1" fill="rgb(215,215,215)" opacity="0.82"/><circle cx="246.3" cy="17.3" r="1.2" fill="rgb(176,176,176)" opacity="0.70"/><circle cx="166.2" cy="4.5" r="1.2" fill="rgb(190,190,190)" opacity="0.81"/><circle cx="413.7" cy="469.2" r="0.9" fill="rgb(252,252,252)" opacity="0.86"/><circle cx="458.8" cy="299.5" r="0.8" fill="rgb(221,221,221)" opacity="0.77"/><circle cx="202.4" cy="9.8" r="0.8" fill="rgb(204,204,204)" opacity="0.92"/><circle cx="357" cy="80.1" r="1.3" fill="rgb(197,197,197)" opacity="0.91"/><circle cx="453.7" cy="372.9" r="1.2" fill="rgb(201,201,201)" opacity="0.82"/><circle cx="316.5" cy="45.9" r="0.7" fill="rgb(206,206,206)" opacity="0.88"/><circle cx="62.1" cy="16.4" r="0.7" fill="rgb(195,195,195)" opacity="0.83"/><circle cx="462.2" cy="298.1" r="1.1" fill="rgb(186,186,186)" opacity="0.81"/><circle cx="451.6" cy="372.7" r="1.1" fill="rgb(247,247,247)" opacity="0.79"/><circle cx="281.9" cy="24.9" r="0.7" fill="rgb(223,223,223)" opacity="0.82"/><circle cx="453.3" cy="241.2" r="1.3" fill="rgb(182,182,182)" opacity="0.88"/><circle cx="463.4" cy="299.5" r="0.9" fill="rgb(252,252,252)" opacity="0.93"/><circle cx="269.8" cy="24.8" r="1.2" fill="rgb(171,171,171)" opacity="0.81"/><circle cx="456.8" cy="254.3" r="1.3" fill="rgb(188,188,188)" opacity="0.88"/><circle cx="452.4" cy="233.8" r="1" fill="rgb(187,187,187)" opacity="0.97"/><circle cx="461.3" cy="293.6" r="0.8" fill="rgb(197,197,197)" opacity="0.72"/><circle cx="430.7" cy="435.7" r="0.7" fill="rgb(216,216,216)" opacity="0.92"/><circle cx="463.4" cy="297.3" r="1.2" fill="rgb(209,209,209)" opacity="0.77"/><circle cx="455.8" cy="356.7" r="0.8" fill="rgb(222,222,222)" opacity="0.98"/><circle cx="112.3" cy="6.7" r="1.1" fill="rgb(248,248,248)" opacity="0.71"/><circle cx="178.5" cy="6.9" r="0.7" fill="rgb(172,172,172)" opacity="0.73"/><circle cx="386.3" cy="502.2" r="0.9" fill="rgb(180,180,180)" opacity="0.72"/><circle cx="1.3" cy="44.5" r="0.7" fill="rgb(190,190,190)" opacity="0.74"/><circle cx="413.2" cy="471.4" r="0.8" fill="rgb(177,177,177)" opacity="0.79"/><circle cx="284.9" cy="32.3" r="1.3" fill="rgb(201,201,201)" opacity="0.93"/><circle cx="462.2" cy="324.2" r="0.8" fill="rgb(234,234,234)" opacity="0.79"/><circle cx="203.7" cy="4.7" r="1" fill="rgb(234,234,234)" opacity="0.86"/><circle cx="247" cy="17" r="1.2" fill="rgb(197,197,197)" opacity="0.95"/><circle cx="462.8" cy="334.3" r="0.7" fill="rgb(249,249,249)" opacity="0.98"/><circle cx="461.7" cy="289.6" r="1" fill="rgb(198,198,198)" opacity="0.91"/><circle cx="334.9" cy="60.3" r="0.9" fill="rgb(174,174,174)" opacity="0.90"/><circle cx="117.9" cy="4.7" r="1.2" fill="rgb(196,196,196)" opacity="1.00"/><circle cx="446.8" cy="403.9" r="1.1" fill="rgb(205,205,205)" opacity="0.75"/><circle cx="305" cy="40.2" r="1.2" fill="rgb(213,213,213)" opacity="0.99"/><circle cx="188" cy="5.1" r="1.1" fill="rgb(255,255,255)" opacity="0.74"/><circle cx="460.6" cy="283.6" r="1.2" fill="rgb(217,217,217)" opacity="0.80"/><circle cx="247" cy="17" r="1.1" fill="rgb(240,240,240)" opacity="0.81"/><circle cx="363.3" cy="81.1" r="1.1" fill="rgb(174,174,174)" opacity="0.99"/><circle cx="461.5" cy="346.2" r="0.7" fill="rgb(179,179,179)" opacity="0.90"/><circle cx="188.3" cy="2.6" r="1" fill="rgb(217,217,217)" opacity="0.86"/><circle cx="166.8" cy="3.7" r="1.2" fill="rgb(243,243,243)" opacity="0.80"/><circle cx="460.2" cy="326.1" r="1" fill="rgb(193,193,193)" opacity="0.74"/><circle cx="452.3" cy="381.6" r="0.9" fill="rgb(210,210,210)" opacity="0.78"/><circle cx="438.6" cy="180.8" r="1" fill="rgb(192,192,192)" opacity="0.78"/><circle cx="93.1" cy="11.1" r="0.8" fill="rgb(221,221,221)" opacity="0.89"/><circle cx="437.9" cy="427.3" r="0.9" fill="rgb(243,243,243)" opacity="0.94"/><circle cx="462.2" cy="278" r="0.7" fill="rgb(184,184,184)" opacity="0.93"/><circle cx="339.4" cy="62.7" r="0.8" fill="rgb(217,217,217)" opacity="0.72"/><circle cx="458" cy="350.4" r="1" fill="rgb(198,198,198)" opacity="0.85"/><circle cx="15.6" cy="37.6" r="0.8" fill="rgb(199,199,199)" opacity="0.83"/><circle cx="441.7" cy="418.4" r="1.2" fill="rgb(194,194,194)" opacity="0.89"/><circle cx="109.9" cy="3.9" r="1" fill="rgb(215,215,215)" opacity="0.85"/><circle cx="460.6" cy="311.4" r="1" fill="rgb(226,226,226)" opacity="0.93"/><circle cx="440.5" cy="415.8" r="1" fill="rgb(195,195,195)" opacity="0.97"/><circle cx="428.2" cy="443" r="1" fill="rgb(251,251,251)" opacity="0.96"/><circle cx="44.8" cy="23.4" r="0.7" fill="rgb(253,253,253)" opacity="0.70"/><circle cx="80.9" cy="12.2" r="0.9" fill="rgb(182,182,182)" opacity="0.82"/><circle cx="214.9" cy="7.8" r="0.9" fill="rgb(246,246,246)" opacity="0.89"/><circle cx="111.2" cy="6.2" r="1.2" fill="rgb(235,235,235)" opacity="0.80"/><circle cx="454" cy="364.6" r="1.2" fill="rgb(184,184,184)" opacity="0.86"/><circle cx="455.9" cy="231.6" r="0.7" fill="rgb(187,187,187)" opacity="1.00"/><circle cx="441.9" cy="410.4" r="1.2" fill="rgb(253,253,253)" opacity="0.74"/><circle cx="320.5" cy="48.5" r="1.2" fill="rgb(245,245,245)" opacity="0.87"/><circle cx="453.1" cy="234.9" r="0.8" fill="rgb(223,223,223)" opacity="0.85"/><circle cx="386.6" cy="107.6" r="0.9" fill="rgb(223,223,223)" opacity="0.80"/><circle cx="313.5" cy="44.1" r="0.8" fill="rgb(201,201,201)" opacity="0.83"/><circle cx="400.6" cy="120" r="1.1" fill="rgb(205,205,205)" opacity="0.94"/><circle cx="343.1" cy="65.2" r="0.9" fill="rgb(206,206,206)" opacity="0.94"/><circle cx="456.5" cy="240.2" r="0.7" fill="rgb(235,235,235)" opacity="0.89"/><circle cx="455.6" cy="384.2" r="1.2" fill="rgb(198,198,198)" opacity="0.96"/><circle cx="201.2" cy="5.9" r="1.1" fill="rgb(237,237,237)" opacity="0.95"/><circle cx="457.4" cy="257" r="1.2" fill="rgb(196,196,196)" opacity="1.00"/><circle cx="398.9" cy="493.2" r="0.8" fill="rgb(246,246,246)" opacity="0.78"/><circle cx="433.2" cy="432.3" r="0.8" fill="rgb(193,193,193)" opacity="0.90"/><circle cx="413" cy="477.1" r="1.3" fill="rgb(226,226,226)" opacity="0.82"/><circle cx="247.9" cy="15.8" r="1.1" fill="rgb(203,203,203)" opacity="0.81"/><circle cx="148.2" cy="4" r="0.7" fill="rgb(211,211,211)" opacity="0.92"/><circle cx="432.9" cy="179.9" r="0.8" fill="rgb(250,250,250)" opacity="0.93"/><circle cx="38" cy="25.1" r="1.1" fill="rgb(175,175,175)" opacity="0.81"/><circle cx="145" cy="-0" r="0.8" fill="rgb(226,226,226)" opacity="1.00"/><circle cx="294.1" cy="31.7" r="1.2" fill="rgb(216,216,216)" opacity="0.95"/><circle cx="438.9" cy="198.6" r="1.3" fill="rgb(202,202,202)" opacity="0.80"/><circle cx="425.9" cy="160.3" r="1.3" fill="rgb(240,240,240)" opacity="0.87"/><circle cx="56.1" cy="21.9" r="1.3" fill="rgb(208,208,208)" opacity="0.90"/><circle cx="455.3" cy="374.2" r="0.8" fill="rgb(232,232,232)" opacity="0.91"/><circle cx="430" cy="171.8" r="0.7" fill="rgb(176,176,176)" opacity="0.82"/><circle cx="401.2" cy="122.2" r="1.2" fill="rgb(204,204,204)" opacity="0.94"/><circle cx="334.7" cy="56.4" r="0.8" fill="rgb(198,198,198)" opacity="0.84"/><circle cx="442.2" cy="201.9" r="0.9" fill="rgb(229,229,229)" opacity="0.92"/><circle cx="389.5" cy="113.9" r="0.8" fill="rgb(180,180,180)" opacity="0.93"/><circle cx="456.2" cy="249.2" r="1" fill="rgb(248,248,248)" opacity="0.91"/><circle cx="458.7" cy="252.2" r="1" fill="rgb(253,253,253)" opacity="1.00"/><circle cx="460.1" cy="288.5" r="1.1" fill="rgb(227,227,227)" opacity="0.96"/><circle cx="296.2" cy="32.6" r="1" fill="rgb(234,234,234)" opacity="0.72"/><circle cx="263.1" cy="22.9" r="0.9" fill="rgb(238,238,238)" opacity="0.80"/><circle cx="399.6" cy="494.1" r="0.7" fill="rgb(236,236,236)" opacity="0.88"/><circle cx="400.1" cy="483.8" r="0.8" fill="rgb(214,214,214)" opacity="0.89"/><circle cx="73.9" cy="14.9" r="1.2" fill="rgb(181,181,181)" opacity="0.87"/><circle cx="448" cy="392.3" r="1.1" fill="rgb(192,192,192)" opacity="0.87"/><circle cx="206.2" cy="7.5" r="1.2" fill="rgb(241,241,241)" opacity="0.86"/><circle cx="278.8" cy="28.3" r="1.3" fill="rgb(177,177,177)" opacity="0.99"/><circle cx="18.3" cy="37.7" r="0.7" fill="rgb(192,192,192)" opacity="0.94"/><circle cx="286" cy="30.8" r="0.7" fill="rgb(220,220,220)" opacity="0.83"/><circle cx="60.7" cy="13.8" r="1" fill="rgb(238,238,238)" opacity="0.81"/><circle cx="254.2" cy="17.3" r="1.1" fill="rgb(171,171,171)" opacity="0.81"/><circle cx="433.4" cy="172.4" r="0.8" fill="rgb(232,232,232)" opacity="0.96"/><circle cx="62.5" cy="20.2" r="1.3" fill="rgb(223,223,223)" opacity="0.81"/><circle cx="354" cy="71.9" r="0.7" fill="rgb(212,212,212)" opacity="0.82"/><circle cx="247.3" cy="21.3" r="0.8" fill="rgb(239,239,239)" opacity="0.80"/><circle cx="236.8" cy="13.7" r="1.3" fill="rgb(182,182,182)" opacity="0.72"/><circle cx="287.3" cy="31.4" r="1" fill="rgb(249,249,249)" opacity="0.71"/><circle cx="298.9" cy="37.2" r="1.3" fill="rgb(223,223,223)" opacity="0.82"/><circle cx="351.6" cy="72.4" r="0.8" fill="rgb(217,217,217)" opacity="0.85"/><circle cx="122.1" cy="2.1" r="0.9" fill="rgb(183,183,183)" opacity="0.76"/><circle cx="461.7" cy="261.7" r="1.3" fill="rgb(246,246,246)" opacity="0.97"/><circle cx="341.4" cy="64.9" r="0.7" fill="rgb(170,170,170)" opacity="0.74"/><circle cx="397.8" cy="116" r="1.2" fill="rgb(233,233,233)" opacity="0.89"/><circle cx="255.3" cy="19.1" r="0.7" fill="rgb(245,245,245)" opacity="0.89"/><circle cx="184.3" cy="4.5" r="1" fill="rgb(172,172,172)" opacity="0.78"/><circle cx="262.1" cy="21" r="1.2" fill="rgb(241,241,241)" opacity="0.81"/><circle cx="97.7" cy="9.9" r="1" fill="rgb(187,187,187)" opacity="0.83"/><circle cx="423.1" cy="457.4" r="0.9" fill="rgb(205,205,205)" opacity="0.97"/><circle cx="438.2" cy="417.4" r="1.3" fill="rgb(241,241,241)" opacity="0.71"/><circle cx="394.5" cy="496.3" r="0.8" fill="rgb(177,177,177)" opacity="0.75"/><circle cx="460.2" cy="366.3" r="0.7" fill="rgb(229,229,229)" opacity="0.97"/><circle cx="459.2" cy="312.8" r="1" fill="rgb(249,249,249)" opacity="0.88"/><circle cx="20.8" cy="34" r="0.9" fill="rgb(188,188,188)" opacity="0.80"/><circle cx="435.1" cy="181.8" r="1" fill="rgb(189,189,189)" opacity="0.90"/><circle cx="166.9" cy="4" r="1" fill="rgb(250,250,250)" opacity="0.98"/><circle cx="181.7" cy="4.8" r="1.1" fill="rgb(187,187,187)" opacity="0.99"/><circle cx="324.8" cy="51.8" r="1.1" fill="rgb(214,214,214)" opacity="0.83"/><circle cx="455.8" cy="243.5" r="1.3" fill="rgb(180,180,180)" opacity="0.87"/><circle cx="459.7" cy="273.2" r="0.9" fill="rgb(174,174,174)" opacity="0.75"/><circle cx="241.4" cy="16.6" r="1" fill="rgb(209,209,209)" opacity="0.79"/><circle cx="417.1" cy="150" r="1" fill="rgb(225,225,225)" opacity="0.92"/><circle cx="388.3" cy="105.5" r="1" fill="rgb(239,239,239)" opacity="0.83"/><circle cx="308.7" cy="44.8" r="1" fill="rgb(211,211,211)" opacity="0.70"/><circle cx="462" cy="296.2" r="1.2" fill="rgb(197,197,197)" opacity="0.95"/><circle cx="452.8" cy="234" r="0.7" fill="rgb(237,237,237)" opacity="0.70"/><circle cx="15.5" cy="39.2" r="0.8" fill="rgb(231,231,231)" opacity="0.79"/><circle cx="99.4" cy="8.4" r="1.3" fill="rgb(175,175,175)" opacity="0.99"/><circle cx="430.5" cy="170.7" r="0.9" fill="rgb(235,235,235)" opacity="0.87"/><circle cx="289.5" cy="29.4" r="0.8" fill="rgb(245,245,245)" opacity="0.84"/><circle cx="459.3" cy="265" r="0.7" fill="rgb(219,219,219)" opacity="0.87"/><circle cx="444.9" cy="214.2" r="0.9" fill="rgb(223,223,223)" opacity="0.89"/><circle cx="452.1" cy="392.4" r="0.7" fill="rgb(241,241,241)" opacity="0.87"/><circle cx="326.8" cy="50.7" r="0.9" fill="rgb(233,233,233)" opacity="0.78"/><circle cx="147.4" cy="3.8" r="1.2" fill="rgb(236,236,236)" opacity="0.80"/><circle cx="66.8" cy="18.6" r="1.1" fill="rgb(218,218,218)" opacity="0.86"/><circle cx="463.1" cy="329.1" r="0.7" fill="rgb(180,180,180)" opacity="0.91"/><circle cx="444" cy="202.1" r="0.7" fill="rgb(242,242,242)" opacity="0.82"/><circle cx="319.3" cy="51.8" r="1.2" fill="rgb(188,188,188)" opacity="0.89"/><circle cx="327.4" cy="55.7" r="1" fill="rgb(247,247,247)" opacity="0.96"/><circle cx="460.6" cy="288.6" r="0.9" fill="rgb(197,197,197)" opacity="0.97"/><circle cx="449.8" cy="381.4" r="1.3" fill="rgb(252,252,252)" opacity="0.87"/><circle cx="174.5" cy="3.2" r="0.9" fill="rgb(187,187,187)" opacity="0.86"/><circle cx="414.2" cy="140.5" r="1.1" fill="rgb(227,227,227)" opacity="0.77"/><circle cx="461.5" cy="292.8" r="1.3" fill="rgb(198,198,198)" opacity="0.98"/><circle cx="437.9" cy="201.7" r="0.8" fill="rgb(214,214,214)" opacity="0.83"/><circle cx="398.6" cy="491" r="0.8" fill="rgb(254,254,254)" opacity="0.99"/><circle cx="437.7" cy="179.7" r="0.8" fill="rgb(219,219,219)" opacity="0.88"/><circle cx="161.4" cy="5.5" r="0.8" fill="rgb(185,185,185)" opacity="0.92"/><circle cx="435.9" cy="179.7" r="0.9" fill="rgb(177,177,177)" opacity="0.90"/><circle cx="459.5" cy="287.6" r="0.7" fill="rgb(180,180,180)" opacity="0.73"/><circle cx="104.1" cy="5.2" r="1.2" fill="rgb(201,201,201)" opacity="0.74"/><circle cx="347.1" cy="68.7" r="1.1" fill="rgb(178,178,178)" opacity="0.77"/><circle cx="392.7" cy="494.1" r="0.9" fill="rgb(173,173,173)" opacity="0.92"/><circle cx="145.7" cy="0.4" r="1.1" fill="rgb(219,219,219)" opacity="0.72"/><circle cx="415.7" cy="467.4" r="0.7" fill="rgb(224,224,224)" opacity="0.79"/><circle cx="44.3" cy="23.3" r="1.2" fill="rgb(171,171,171)" opacity="0.86"/><circle cx="307.5" cy="44.3" r="0.8" fill="rgb(218,218,218)" opacity="0.81"/><circle cx="452.1" cy="225.2" r="1.2" fill="rgb(245,245,245)" opacity="0.91"/><circle cx="252.2" cy="18" r="1.3" fill="rgb(242,242,242)" opacity="0.83"/><circle cx="418.2" cy="468.1" r="0.8" fill="rgb(191,191,191)" opacity="1.00"/><circle cx="425.2" cy="449.1" r="1.2" fill="rgb(228,228,228)" opacity="0.72"/><circle cx="432.5" cy="429.8" r="1" fill="rgb(240,240,240)" opacity="0.83"/><circle cx="444.6" cy="400.1" r="1.1" fill="rgb(200,200,200)" opacity="0.74"/><circle cx="459.4" cy="257.3" r="0.8" fill="rgb(178,178,178)" opacity="0.71"/><circle cx="418.3" cy="149.4" r="1.3" fill="rgb(248,248,248)" opacity="0.74"/><circle cx="142.1" cy="2.1" r="1.1" fill="rgb(191,191,191)" opacity="0.78"/><circle cx="313.7" cy="53.4" r="0.9" fill="rgb(178,178,178)" opacity="0.91"/><circle cx="458.4" cy="287.8" r="1.1" fill="rgb(217,217,217)" opacity="0.98"/><circle cx="309.8" cy="44.6" r="1.2" fill="rgb(222,222,222)" opacity="0.88"/><circle cx="329" cy="59.7" r="0.9" fill="rgb(241,241,241)" opacity="0.73"/><circle cx="64" cy="18.7" r="0.8" fill="rgb(237,237,237)" opacity="0.71"/><circle cx="149.5" cy="4.1" r="1" fill="rgb(211,211,211)" opacity="0.89"/><circle cx="445.9" cy="208.9" r="1.2" fill="rgb(220,220,220)" opacity="0.93"/><circle cx="458.3" cy="356.3" r="1" fill="rgb(250,250,250)" opacity="0.98"/><circle cx="339.8" cy="59.5" r="1.1" fill="rgb(216,216,216)" opacity="0.73"/><circle cx="446.6" cy="213.7" r="1" fill="rgb(209,209,209)" opacity="0.98"/><circle cx="432.4" cy="170.2" r="1.2" fill="rgb(203,203,203)" opacity="0.93"/><circle cx="60.8" cy="18.6" r="1" fill="rgb(222,222,222)" opacity="0.76"/><circle cx="14.4" cy="41" r="1.3" fill="rgb(209,209,209)" opacity="0.86"/><circle cx="435.2" cy="432.1" r="1.1" fill="rgb(207,207,207)" opacity="0.85"/><circle cx="109.7" cy="1.7" r="1.3" fill="rgb(254,254,254)" opacity="0.96"/><circle cx="20.7" cy="36.2" r="1.2" fill="rgb(233,233,233)" opacity="0.71"/><circle cx="307.9" cy="41.6" r="1.2" fill="rgb(229,229,229)" opacity="0.83"/><circle cx="163.7" cy="1.1" r="1.1" fill="rgb(183,183,183)" opacity="0.99"/><circle cx="460.1" cy="338.7" r="1.1" fill="rgb(208,208,208)" opacity="0.75"/><circle cx="149.6" cy="2.1" r="1" fill="rgb(214,214,214)" opacity="0.85"/><circle cx="422.6" cy="163.2" r="0.9" fill="rgb(248,248,248)" opacity="0.75"/><circle cx="152.9" cy="2.1" r="1.2" fill="rgb(189,189,189)" opacity="0.80"/><circle cx="276.5" cy="26.9" r="1" fill="rgb(191,191,191)" opacity="0.83"/><circle cx="460.1" cy="264.6" r="0.8" fill="rgb(193,193,193)" opacity="0.92"/><circle cx="134.4" cy="6.3" r="1.1" fill="rgb(177,177,177)" opacity="0.89"/><circle cx="205.2" cy="5.9" r="1.3" fill="rgb(220,220,220)" opacity="0.79"/><circle cx="450.5" cy="232.6" r="1.3" fill="rgb(181,181,181)" opacity="0.76"/><circle cx="280.2" cy="25.3" r="0.7" fill="rgb(195,195,195)" opacity="0.93"/><circle cx="113.6" cy="7.4" r="1.3" fill="rgb(239,239,239)" opacity="0.92"/><circle cx="457.8" cy="263.5" r="1.2" fill="rgb(183,183,183)" opacity="0.83"/><circle cx="340.6" cy="65.1" r="1.2" fill="rgb(182,182,182)" opacity="0.75"/><circle cx="463.2" cy="332.9" r="1.2" fill="rgb(170,170,170)" opacity="1.00"/><circle cx="371.5" cy="88.5" r="1.1" fill="rgb(211,211,211)" opacity="0.98"/><circle cx="458.9" cy="350.3" r="1.1" fill="rgb(207,207,207)" opacity="0.83"/><circle cx="217.3" cy="6.1" r="0.8" fill="rgb(230,230,230)" opacity="0.82"/><circle cx="379.6" cy="100.7" r="0.8" fill="rgb(232,232,232)" opacity="0.91"/><circle cx="130.4" cy="4.6" r="0.7" fill="rgb(175,175,175)" opacity="0.78"/><circle cx="411.3" cy="139.7" r="0.9" fill="rgb(217,217,217)" opacity="1.00"/><circle cx="195.8" cy="3.6" r="1.3" fill="rgb(207,207,207)" opacity="0.95"/><circle cx="454.9" cy="230.9" r="1.2" fill="rgb(247,247,247)" opacity="0.88"/><circle cx="242.9" cy="13.8" r="1.1" fill="rgb(173,173,173)" opacity="0.72"/><circle cx="134.3" cy="5.4" r="1.3" fill="rgb(197,197,197)" opacity="0.73"/><circle cx="450.8" cy="392.9" r="1.3" fill="rgb(253,253,253)" opacity="0.80"/><circle cx="418.6" cy="454" r="1.2" fill="rgb(240,240,240)" opacity="0.83"/><circle cx="392.1" cy="104.3" r="0.7" fill="rgb(194,194,194)" opacity="0.95"/><circle cx="455.6" cy="236.8" r="1.3" fill="rgb(202,202,202)" opacity="0.93"/><circle cx="24.9" cy="34.2" r="1.3" fill="rgb(178,178,178)" opacity="0.78"/><circle cx="293.2" cy="33.1" r="0.8" fill="rgb(190,190,190)" opacity="0.93"/><circle cx="455.8" cy="371.3" r="0.8" fill="rgb(193,193,193)" opacity="0.85"/><circle cx="205.2" cy="2.1" r="1" fill="rgb(219,219,219)" opacity="0.72"/><circle cx="123.7" cy="6" r="1.1" fill="rgb(180,180,180)" opacity="0.89"/><circle cx="179" cy="3.2" r="0.8" fill="rgb(190,190,190)" opacity="0.82"/><circle cx="448.1" cy="401.8" r="0.7" fill="rgb(200,200,200)" opacity="0.92"/><circle cx="94.6" cy="9.2" r="1.3" fill="rgb(197,197,197)" opacity="1.00"/><circle cx="73.9" cy="16.8" r="1.2" fill="rgb(241,241,241)" opacity="0.74"/><circle cx="400.4" cy="124.8" r="0.8" fill="rgb(189,189,189)" opacity="0.91"/><circle cx="58.4" cy="19.7" r="1.3" fill="rgb(185,185,185)" opacity="0.81"/><circle cx="383.7" cy="106.5" r="1.3" fill="rgb(189,189,189)" opacity="0.70"/><circle cx="98.8" cy="8" r="1.3" fill="rgb(191,191,191)" opacity="0.74"/><circle cx="2.3" cy="44.2" r="1.2" fill="rgb(248,248,248)" opacity="0.81"/><circle cx="212.7" cy="8.2" r="1" fill="rgb(243,243,243)" opacity="0.72"/><circle cx="429.8" cy="168.9" r="1" fill="rgb(195,195,195)" opacity="0.75"/><circle cx="437.9" cy="176.7" r="0.8" fill="rgb(236,236,236)" opacity="0.79"/><circle cx="455.2" cy="225.5" r="0.9" fill="rgb(254,254,254)" opacity="0.89"/><circle cx="227" cy="10.7" r="1" fill="rgb(222,222,222)" opacity="0.85"/><circle cx="462.9" cy="315.9" r="1" fill="rgb(191,191,191)" opacity="0.78"/><circle cx="440.1" cy="426.2" r="0.9" fill="rgb(230,230,230)" opacity="0.77"/><circle cx="461.8" cy="342.6" r="1.3" fill="rgb(248,248,248)" opacity="0.98"/><circle cx="460.6" cy="285.7" r="1.2" fill="rgb(238,238,238)" opacity="0.93"/><circle cx="410.5" cy="470.1" r="0.8" fill="rgb(237,237,237)" opacity="0.82"/><circle cx="307" cy="40.8" r="1" fill="rgb(224,224,224)" opacity="0.79"/><circle cx="429.3" cy="442.2" r="1" fill="rgb(226,226,226)" opacity="0.87"/><circle cx="461" cy="322.4" r="0.9" fill="rgb(193,193,193)" opacity="0.90"/><circle cx="416.9" cy="459.8" r="0.8" fill="rgb(186,186,186)" opacity="0.96"/><circle cx="393.1" cy="111.1" r="0.7" fill="rgb(230,230,230)" opacity="0.75"/><circle cx="439.7" cy="416.9" r="1.1" fill="rgb(206,206,206)" opacity="0.99"/><circle cx="364.4" cy="38.8" r="0.8" fill="rgb(248,248,248)" opacity="0.81"/><circle cx="367.4" cy="47.7" r="1.3" fill="rgb(163,163,163)" opacity="0.95"/><circle cx="458.2" cy="452.4" r="0.9" fill="rgb(221,221,221)" opacity="0.92"/><circle cx="454.2" cy="152.8" r="0.7" fill="rgb(254,254,254)" opacity="0.69"/><circle cx="374.6" cy="52.7" r="0.8" fill="rgb(220,220,220)" opacity="0.97"/><circle cx="347.5" cy="32.5" r="0.9" fill="rgb(168,168,168)" opacity="0.70"/><circle cx="466.9" cy="446.3" r="0.9" fill="rgb(183,183,183)" opacity="0.83"/><circle cx="450.7" cy="145" r="1" fill="rgb(201,201,201)" opacity="0.96"/><circle cx="462.2" cy="456.1" r="1.2" fill="rgb(216,216,216)" opacity="0.95"/><circle cx="384.7" cy="65.6" r="0.9" fill="rgb(246,246,246)" opacity="0.80"/><circle cx="314.8" cy="9.7" r="1" fill="rgb(193,193,193)" opacity="0.68"/><circle cx="406.4" cy="81.7" r="1" fill="rgb(189,189,189)" opacity="0.95"/><circle cx="5.6" cy="4.5" r="1.1" fill="rgb(173,173,173)" opacity="0.94"/><circle cx="410.5" cy="83.4" r="1.2" fill="rgb(221,221,221)" opacity="0.70"/><circle cx="9" cy="4.8" r="1.3" fill="rgb(209,209,209)" opacity="0.91"/><circle cx="412.4" cy="84.4" r="1.3" fill="rgb(198,198,198)" opacity="0.86"/><circle cx="315.3" cy="11.3" r="1.3" fill="rgb(241,241,241)" opacity="0.76"/><circle cx="417.4" cy="93.1" r="1.2" fill="rgb(174,174,174)" opacity="0.67"/><circle cx="291.5" cy="2.1" r="1.3" fill="rgb(193,193,193)" opacity="0.77"/><circle cx="460.5" cy="157.1" r="1" fill="rgb(212,212,212)" opacity="0.90"/><circle cx="16.1" cy="2.9" r="0.7" fill="rgb(201,201,201)" opacity="0.83"/><circle cx="310.9" cy="7.8" r="1.3" fill="rgb(168,168,168)" opacity="0.82"/><circle cx="300.6" cy="-0.3" r="1.3" fill="rgb(203,203,203)" opacity="0.81"/><circle cx="458.4" cy="160" r="1.3" fill="rgb(244,244,244)" opacity="0.78"/><circle cx="454" cy="467.4" r="1" fill="rgb(238,238,238)" opacity="0.98"/><circle cx="409.2" cy="94.6" r="1.1" fill="rgb(241,241,241)" opacity="0.84"/><circle cx="446.7" cy="485.5" r="0.8" fill="rgb(197,197,197)" opacity="0.83"/><circle cx="456.4" cy="151.4" r="0.8" fill="rgb(225,225,225)" opacity="0.81"/><circle cx="463.5" cy="166.5" r="1.2" fill="rgb(204,204,204)" opacity="0.98"/><circle cx="446.4" cy="489.7" r="0.9" fill="rgb(239,239,239)" opacity="0.74"/><circle cx="361.4" cy="44.1" r="1.1" fill="rgb(226,226,226)" opacity="0.94"/><circle cx="445.8" cy="480.7" r="1.3" fill="rgb(163,163,163)" opacity="0.69"/><circle cx="15.4" cy="-0.2" r="1" fill="rgb(210,210,210)" opacity="0.86"/><circle cx="408.4" cy="86.8" r="0.7" fill="rgb(197,197,197)" opacity="0.80"/><circle cx="439.5" cy="497.8" r="1" fill="rgb(177,177,177)" opacity="0.80"/><circle cx="0.4" cy="5.7" r="1" fill="rgb(210,210,210)" opacity="0.71"/><circle cx="413.7" cy="92.5" r="1.1" fill="rgb(187,187,187)" opacity="0.77"/><circle cx="457.4" cy="462" r="1" fill="rgb(192,192,192)" opacity="0.79"/><circle cx="409.2" cy="83.2" r="1.3" fill="rgb(207,207,207)" opacity="0.84"/><circle cx="451" cy="482.3" r="0.7" fill="rgb(207,207,207)" opacity="0.85"/><circle cx="328.9" cy="17.7" r="1.3" fill="rgb(223,223,223)" opacity="0.68"/><circle cx="459.6" cy="465.1" r="0.9" fill="rgb(230,230,230)" opacity="0.97"/><circle cx="420.9" cy="101.1" r="1.3" fill="rgb(218,218,218)" opacity="0.89"/><circle cx="446.7" cy="482.6" r="1" fill="rgb(212,212,212)" opacity="0.79"/><circle cx="421.6" cy="102.1" r="1.1" fill="rgb(188,188,188)" opacity="0.80"/><circle cx="385.8" cy="62.3" r="1" fill="rgb(238,238,238)" opacity="0.80"/><circle cx="451.5" cy="145.5" r="1.2" fill="rgb(228,228,228)" opacity="0.83"/><circle cx="386.7" cy="59.8" r="1" fill="rgb(247,247,247)" opacity="0.77"/><circle cx="25.2" cy="0.6" r="0.9" fill="rgb(177,177,177)" opacity="0.82"/><circle cx="391.5" cy="64.3" r="1.2" fill="rgb(168,168,168)" opacity="0.87"/><circle cx="462" cy="162.2" r="1.1" fill="rgb(246,246,246)" opacity="0.73"/><circle cx="306.7" cy="8.1" r="1" fill="rgb(164,164,164)" opacity="0.99"/><circle cx="421.7" cy="101.5" r="0.9" fill="rgb(211,211,211)" opacity="0.68"/><circle cx="306.8" cy="6.1" r="0.7" fill="rgb(236,236,236)" opacity="0.80"/><circle cx="439.5" cy="122.1" r="1.1" fill="rgb(234,234,234)" opacity="0.98"/><circle cx="448.7" cy="135.7" r="0.7" fill="rgb(215,215,215)" opacity="0.92"/><circle cx="430.3" cy="107.4" r="1.2" fill="rgb(199,199,199)" opacity="0.75"/><circle cx="1.2" cy="9.3" r="1.3" fill="rgb(241,241,241)" opacity="0.69"/><circle cx="458.3" cy="467.3" r="0.9" fill="rgb(162,162,162)" opacity="0.84"/><circle cx="442.6" cy="490.8" r="1.1" fill="rgb(180,180,180)" opacity="0.77"/><circle cx="459.1" cy="461.9" r="0.8" fill="rgb(232,232,232)" opacity="0.83"/><circle cx="448.8" cy="480" r="1.3" fill="rgb(211,211,211)" opacity="0.80"/><circle cx="432.4" cy="109.2" r="1.2" fill="rgb(191,191,191)" opacity="0.69"/><circle cx="339.8" cy="20.4" r="0.8" fill="rgb(249,249,249)" opacity="0.98"/><circle cx="332.9" cy="21.4" r="1" fill="rgb(211,211,211)" opacity="0.95"/><circle cx="465.9" cy="172.6" r="0.9" fill="rgb(175,175,175)" opacity="0.76"/><circle cx="432" cy="112.4" r="0.9" fill="rgb(198,198,198)" opacity="0.67"/><circle cx="452.5" cy="142.3" r="1.2" fill="rgb(238,238,238)" opacity="0.94"/><circle cx="435.4" cy="117.9" r="1" fill="rgb(248,248,248)" opacity="0.70"/><circle cx="448.5" cy="475.1" r="1.3" fill="rgb(244,244,244)" opacity="0.74"/><circle cx="388.3" cy="62" r="0.9" fill="rgb(242,242,242)" opacity="0.78"/><circle cx="18.1" cy="3.2" r="0.9" fill="rgb(226,226,226)" opacity="0.89"/><circle cx="18.9" cy="-0" r="1.3" fill="rgb(169,169,169)" opacity="0.78"/><circle cx="343.1" cy="29" r="1.1" fill="rgb(230,230,230)" opacity="0.89"/><circle cx="384.7" cy="60.8" r="1.1" fill="rgb(195,195,195)" opacity="0.76"/><circle cx="446.1" cy="136.4" r="1.1" fill="rgb(174,174,174)" opacity="0.98"/><circle cx="343.6" cy="22.4" r="1.1" fill="rgb(234,234,234)" opacity="0.83"/><circle cx="345.2" cy="30.8" r="0.9" fill="rgb(192,192,192)" opacity="1.00"/><circle cx="344.3" cy="30.3" r="0.9" fill="rgb(182,182,182)" opacity="0.71"/><circle cx="430.3" cy="501.7" r="1.2" fill="rgb(203,203,203)" opacity="0.98"/><circle cx="408.1" cy="78.8" r="1.3" fill="rgb(202,202,202)" opacity="0.93"/><circle cx="340.1" cy="28.4" r="1.3" fill="rgb(167,167,167)" opacity="0.71"/><circle cx="465" cy="453.6" r="1" fill="rgb(209,209,209)" opacity="0.90"/><circle cx="425.2" cy="108.1" r="0.9" fill="rgb(229,229,229)" opacity="0.82"/><circle cx="436.3" cy="118.3" r="1" fill="rgb(217,217,217)" opacity="0.69"/><circle cx="341.6" cy="28.7" r="1" fill="rgb(165,165,165)" opacity="1.00"/><circle cx="402.6" cy="73.9" r="0.8" fill="rgb(238,238,238)" opacity="0.98"/><circle cx="414.6" cy="95.2" r="1.1" fill="rgb(221,221,221)" opacity="0.89"/><circle cx="438.6" cy="493.9" r="1.3" fill="rgb(190,190,190)" opacity="0.72"/><circle cx="467.4" cy="177.2" r="1" fill="rgb(160,160,160)" opacity="0.99"/><circle cx="405.7" cy="83.1" r="0.7" fill="rgb(251,251,251)" opacity="0.68"/><circle cx="368.7" cy="48.1" r="1.1" fill="rgb(165,165,165)" opacity="0.68"/><circle cx="434.6" cy="116" r="1.1" fill="rgb(174,174,174)" opacity="0.87"/><circle cx="466.6" cy="443" r="0.7" fill="rgb(246,246,246)" opacity="0.69"/><circle cx="329.2" cy="24.4" r="0.9" fill="rgb(192,192,192)" opacity="0.97"/><circle cx="333.8" cy="19.7" r="0.8" fill="rgb(213,213,213)" opacity="0.70"/><circle cx="441.3" cy="495.4" r="1" fill="rgb(211,211,211)" opacity="0.83"/><circle cx="5.8" cy="6.6" r="0.7" fill="rgb(231,231,231)" opacity="0.67"/><circle cx="467.7" cy="440.8" r="1" fill="rgb(215,215,215)" opacity="0.71"/><circle cx="413.1" cy="87.5" r="0.7" fill="rgb(227,227,227)" opacity="0.94"/><circle cx="315.7" cy="12.4" r="1.3" fill="rgb(232,232,232)" opacity="0.91"/><circle cx="0.7" cy="14.1" r="1.3" fill="rgb(190,190,190)" opacity="0.93"/><circle cx="447.1" cy="137.8" r="1.3" fill="rgb(223,223,223)" opacity="0.92"/><circle cx="363.7" cy="39" r="1" fill="rgb(247,247,247)" opacity="0.91"/><circle cx="460.4" cy="453.5" r="1" fill="rgb(215,215,215)" opacity="0.92"/><circle cx="448.5" cy="140.1" r="1.2" fill="rgb(202,202,202)" opacity="0.82"/><circle cx="412.8" cy="92.9" r="1.3" fill="rgb(211,211,211)" opacity="0.85"/><circle cx="459.9" cy="450" r="0.9" fill="rgb(249,249,249)" opacity="0.68"/><circle cx="6.6" cy="8.3" r="0.8" fill="rgb(239,239,239)" opacity="0.70"/><circle cx="6.7" cy="7.9" r="0.8" fill="rgb(247,247,247)" opacity="0.93"/><circle cx="386.9" cy="60.9" r="1.1" fill="rgb(199,199,199)" opacity="0.84"/><circle cx="11" cy="3.2" r="0.7" fill="rgb(218,218,218)" opacity="0.81"/><circle cx="440.3" cy="492.5" r="1.3" fill="rgb(255,255,255)" opacity="0.68"/><circle cx="459.1" cy="447.4" r="1" fill="rgb(191,191,191)" opacity="0.90"/><circle cx="367.7" cy="45.4" r="1.1" fill="rgb(196,196,196)" opacity="0.93"/><circle cx="466.2" cy="446.6" r="1" fill="rgb(178,178,178)" opacity="0.95"/><circle cx="427.9" cy="114.7" r="0.9" fill="rgb(189,189,189)" opacity="0.95"/><circle cx="344.7" cy="23.2" r="0.8" fill="rgb(184,184,184)" opacity="0.72"/><circle cx="326.2" cy="18.7" r="0.7" fill="rgb(200,200,200)" opacity="0.86"/><circle cx="449.2" cy="479.4" r="1" fill="rgb(243,243,243)" opacity="0.75"/><circle cx="435.7" cy="123.5" r="1.2" fill="rgb(236,236,236)" opacity="0.99"/><circle cx="341.3" cy="19.2" r="1.2" fill="rgb(204,204,204)" opacity="0.95"/><circle cx="435.6" cy="123.4" r="1.2" fill="rgb(221,221,221)" opacity="0.88"/><circle cx="356.3" cy="41" r="0.7" fill="rgb(205,205,205)" opacity="0.66"/><circle cx="431.8" cy="116.6" r="1.3" fill="rgb(219,219,219)" opacity="0.99"/><circle cx="448.9" cy="477.3" r="0.8" fill="rgb(222,222,222)" opacity="0.81"/><circle cx="438.7" cy="123.6" r="0.8" fill="rgb(231,231,231)" opacity="0.81"/><circle cx="453" cy="146.9" r="1.2" fill="rgb(247,247,247)" opacity="0.93"/><circle cx="10.8" cy="6.3" r="1.2" fill="rgb(217,217,217)" opacity="0.74"/><circle cx="465.7" cy="169.8" r="1.1" fill="rgb(251,251,251)" opacity="0.98"/><circle cx="0.6" cy="10.9" r="0.7" fill="rgb(212,212,212)" opacity="0.71"/><circle cx="329.6" cy="21.5" r="0.9" fill="rgb(235,235,235)" opacity="0.71"/><circle cx="461.9" cy="457.4" r="0.9" fill="rgb(180,180,180)" opacity="0.68"/><circle cx="349.1" cy="30.4" r="1.1" fill="rgb(186,186,186)" opacity="0.74"/><circle cx="467.2" cy="438.1" r="0.7" fill="rgb(192,192,192)" opacity="0.72"/><circle cx="428.4" cy="105.8" r="0.9" fill="rgb(231,231,231)" opacity="0.94"/><circle cx="394.1" cy="66.1" r="1.3" fill="rgb(199,199,199)" opacity="0.70"/><circle cx="456.5" cy="145.4" r="1.1" fill="rgb(249,249,249)" opacity="0.86"/><circle cx="329.9" cy="22.6" r="0.9" fill="rgb(199,199,199)" opacity="0.75"/><circle cx="436.9" cy="118.6" r="1.2" fill="rgb(241,241,241)" opacity="0.85"/><circle cx="424.7" cy="106.2" r="1.2" fill="rgb(165,165,165)" opacity="0.93"/><circle cx="371.4" cy="51.5" r="1.2" fill="rgb(187,187,187)" opacity="0.70"/><circle cx="460.7" cy="166.3" r="1.2" fill="rgb(168,168,168)" opacity="0.96"/><circle cx="429.3" cy="108.6" r="1" fill="rgb(179,179,179)" opacity="0.81"/><circle cx="308.6" cy="12" r="0.8" fill="rgb(196,196,196)" opacity="0.89"/><circle cx="461.3" cy="160.9" r="1" fill="rgb(218,218,218)" opacity="0.79"/><circle cx="420.7" cy="96.8" r="0.8" fill="rgb(209,209,209)" opacity="0.81"/><circle cx="460.6" cy="161.7" r="1.3" fill="rgb(178,178,178)" opacity="0.90"/><circle cx="17.3" cy="1.7" r="1.3" fill="rgb(241,241,241)" opacity="0.88"/><circle cx="464.6" cy="445.2" r="1.1" fill="rgb(190,190,190)" opacity="0.66"/><circle cx="445.6" cy="128.1" r="0.7" fill="rgb(191,191,191)" opacity="0.78"/><circle cx="2.9" cy="6.5" r="1.3" fill="rgb(211,211,211)" opacity="0.99"/><circle cx="295.5" cy="3.3" r="1.1" fill="rgb(185,185,185)" opacity="0.80"/><circle cx="423.4" cy="102.9" r="1.1" fill="rgb(240,240,240)" opacity="0.85"/><circle cx="415.7" cy="92.5" r="1.3" fill="rgb(194,194,194)" opacity="0.70"/><circle cx="321.2" cy="14.3" r="1.2" fill="rgb(218,218,218)" opacity="0.90"/><circle cx="440" cy="128.1" r="1" fill="rgb(244,244,244)" opacity="0.88"/><circle cx="456.5" cy="455.8" r="1.1" fill="rgb(208,208,208)" opacity="0.65"/><circle cx="456.3" cy="458.9" r="0.7" fill="rgb(207,207,207)" opacity="1.00"/><circle cx="442.6" cy="486.6" r="0.7" fill="rgb(210,210,210)" opacity="0.91"/><circle cx="459.1" cy="156.7" r="0.9" fill="rgb(239,239,239)" opacity="0.69"/><circle cx="1.9" cy="7.9" r="1" fill="rgb(169,169,169)" opacity="0.95"/><circle cx="331.5" cy="20.5" r="1" fill="rgb(222,222,222)" opacity="0.75"/><circle cx="419.7" cy="101" r="1.3" fill="rgb(229,229,229)" opacity="0.65"/><circle cx="458.8" cy="154.1" r="1.1" fill="rgb(197,197,197)" opacity="0.71"/><circle cx="321.9" cy="14.7" r="1.2" fill="rgb(237,237,237)" opacity="0.75"/><circle cx="398" cy="66.1" r="1.3" fill="rgb(172,172,172)" opacity="0.66"/><circle cx="447" cy="138.9" r="1.1" fill="rgb(233,233,233)" opacity="0.92"/><circle cx="467.3" cy="442.1" r="0.7" fill="rgb(193,193,193)" opacity="0.70"/><circle cx="335.6" cy="20" r="0.7" fill="rgb(235,235,235)" opacity="0.82"/><circle cx="459.4" cy="54.2" r="0.7" fill="rgb(213,213,213)" opacity="0.88"/><circle cx="464" cy="60.5" r="1" fill="rgb(176,176,176)" opacity="0.88"/><circle cx="434.7" cy="29.9" r="1.1" fill="rgb(198,198,198)" opacity="0.84"/><circle cx="436.2" cy="36.3" r="0.8" fill="rgb(223,223,223)" opacity="0.85"/><circle cx="394.4" cy="1.8" r="1.1" fill="rgb(228,228,228)" opacity="0.77"/><circle cx="405.5" cy="3.9" r="1.2" fill="rgb(211,211,211)" opacity="0.92"/><circle cx="438.9" cy="27.9" r="1" fill="rgb(183,183,183)" opacity="0.70"/><circle cx="410.2" cy="5.1" r="1.1" fill="rgb(175,175,175)" opacity="0.95"/><circle cx="447.1" cy="42.3" r="0.9" fill="rgb(231,231,231)" opacity="0.96"/><circle cx="413.4" cy="14.3" r="0.9" fill="rgb(187,187,187)" opacity="0.96"/><circle cx="456" cy="59" r="0.7" fill="rgb(202,202,202)" opacity="0.92"/><circle cx="465.5" cy="60.6" r="0.8" fill="rgb(205,205,205)" opacity="0.91"/><circle cx="434.2" cy="30.6" r="1.2" fill="rgb(170,170,170)" opacity="0.72"/><circle cx="424.6" cy="19.4" r="0.8" fill="rgb(248,248,248)" opacity="0.76"/><circle cx="407.7" cy="6.6" r="1.3" fill="rgb(220,220,220)" opacity="0.87"/><circle cx="430.3" cy="23.3" r="1.1" fill="rgb(171,171,171)" opacity="0.95"/><circle cx="442.5" cy="39.9" r="0.8" fill="rgb(175,175,175)" opacity="0.81"/><circle cx="428.2" cy="28.2" r="1.4" fill="rgb(188,188,188)" opacity="0.72"/><circle cx="430.2" cy="23.1" r="1" fill="rgb(199,199,199)" opacity="0.80"/><circle cx="403.9" cy="3.3" r="0.8" fill="rgb(236,236,236)" opacity="0.92"/><circle cx="458.3" cy="71" r="1.1" fill="rgb(208,208,208)" opacity="0.77"/><circle cx="445.8" cy="47.9" r="1.1" fill="rgb(218,218,218)" opacity="0.73"/><circle cx="425.3" cy="22.1" r="1.3" fill="rgb(254,254,254)" opacity="0.89"/><circle cx="462.2" cy="73.9" r="0.9" fill="rgb(172,172,172)" opacity="0.94"/><circle cx="422.8" cy="19.7" r="1.2" fill="rgb(247,247,247)" opacity="0.77"/><circle cx="403.9" cy="5.6" r="1.4" fill="rgb(233,233,233)" opacity="0.99"/><circle cx="413.1" cy="13" r="1" fill="rgb(201,201,201)" opacity="0.74"/><circle cx="434.9" cy="29.6" r="0.9" fill="rgb(241,241,241)" opacity="0.83"/><circle cx="453.1" cy="50.1" r="0.7" fill="rgb(227,227,227)" opacity="0.75"/><circle cx="420.8" cy="9.8" r="1.2" fill="rgb(177,177,177)" opacity="0.77"/><circle cx="465.8" cy="59.2" r="1" fill="rgb(235,235,235)" opacity="0.76"/><circle cx="457.4" cy="51" r="1" fill="rgb(244,244,244)" opacity="0.87"/><circle cx="465.8" cy="62.2" r="0.9" fill="rgb(228,228,228)" opacity="0.90"/><circle cx="430.6" cy="33.3" r="1.1" fill="rgb(224,224,224)" opacity="0.98"/><circle cx="434.7" cy="27.3" r="1.3" fill="rgb(196,196,196)" opacity="0.89"/><circle cx="422.9" cy="18.2" r="0.7" fill="rgb(202,202,202)" opacity="0.71"/><circle cx="464.4" cy="63.1" r="0.7" fill="rgb(174,174,174)" opacity="0.92"/><circle cx="444.2" cy="33.6" r="0.7" fill="rgb(208,208,208)" opacity="0.77"/><circle cx="454.4" cy="55.2" r="1" fill="rgb(185,185,185)" opacity="0.95"/><circle cx="410" cy="3.3" r="0.7" fill="rgb(189,189,189)" opacity="0.92"/><circle cx="461.1" cy="53.4" r="1.2" fill="rgb(224,224,224)" opacity="0.83"/><circle cx="400" cy="9" r="0.9" fill="rgb(229,229,229)" opacity="0.98"/><circle cx="463.1" cy="52" r="1.2" fill="rgb(206,206,206)" opacity="0.70"/><circle cx="430.1" cy="25.5" r="0.8" fill="rgb(239,239,239)" opacity="0.84"/><circle cx="427.7" cy="32.1" r="1.1" fill="rgb(188,188,188)" opacity="1.00"/><circle cx="447.1" cy="42.4" r="1.3" fill="rgb(223,223,223)" opacity="0.75"/><circle cx="434.3" cy="31.7" r="1.1" fill="rgb(225,225,225)" opacity="0.93"/><circle cx="467.2" cy="62.3" r="1.1" fill="rgb(199,199,199)" opacity="0.95"/><circle cx="434.5" cy="26.9" r="1" fill="rgb(204,204,204)" opacity="0.91"/><circle cx="465.6" cy="63.6" r="0.8" fill="rgb(252,252,252)" opacity="0.91"/><circle cx="424.5" cy="29" r="1.3" fill="rgb(197,197,197)" opacity="0.82"/><circle cx="426.5" cy="24.1" r="0.9" fill="rgb(254,254,254)" opacity="0.92"/><circle cx="453.3" cy="51.8" r="1.2" fill="rgb(227,227,227)" opacity="0.82"/><circle cx="466.2" cy="64.1" r="0.9" fill="rgb(223,223,223)" opacity="0.89"/><circle cx="465.2" cy="72.5" r="0.9" fill="rgb(218,218,218)" opacity="0.82"/><circle cx="444.6" cy="35" r="1.2" fill="rgb(231,231,231)" opacity="0.83"/><circle cx="433.7" cy="27.4" r="0.8" fill="rgb(250,250,250)" opacity="0.89"/><circle cx="452.3" cy="49.4" r="1.3" fill="rgb(250,250,250)" opacity="0.71"/><circle cx="413.7" cy="16.3" r="0.8" fill="rgb(210,210,210)" opacity="0.84"/><circle cx="464.5" cy="69.9" r="1.2" fill="rgb(206,206,206)" opacity="0.71"/><circle cx="419.1" cy="20.7" r="1.2" fill="rgb(189,189,189)" opacity="0.79"/><circle cx="427.8" cy="28.4" r="0.8" fill="rgb(230,230,230)" opacity="0.81"/><circle cx="419" cy="11.8" r="1.1" fill="rgb(238,238,238)" opacity="0.80"/><circle cx="431.5" cy="34" r="1.2" fill="rgb(247,247,247)" opacity="0.94"/><circle cx="458.4" cy="59.9" r="1" fill="rgb(252,252,252)" opacity="0.91"/><circle cx="463.1" cy="63.4" r="0.9" fill="rgb(233,233,233)" opacity="0.92"/><circle cx="412.5" cy="9.8" r="1.3" fill="rgb(179,179,179)" opacity="0.99"/><circle cx="461.3" cy="55.8" r="1.2" fill="rgb(213,213,213)" opacity="0.82"/><circle cx="401" cy="0.5" r="1.3" fill="rgb(253,253,253)" opacity="0.99"/><circle cx="441" cy="38.5" r="1.3" fill="rgb(202,202,202)" opacity="0.91"/><circle cx="367" cy="41" r="1.9" fill="#fff"/><circle cx="412" cy="277" r="1.6" fill="#fff"/><circle cx="36" cy="382" r="1.9" fill="#fff"/><circle cx="240" cy="459" r="1.4" fill="#fff"/><circle cx="318" cy="92" r="1.3" fill="#fff"/><circle cx="448" cy="105" r="1.4" fill="#fff"/><circle cx="305" cy="175" r="1.2" fill="#fff"/><circle cx="97" cy="440" r="1.5" fill="#fff"/><circle cx="410" cy="400" r="1.4" fill="#fff"/><circle cx="378" cy="218" r="1.3" fill="#fff"/><circle cx="177.8" cy="399.6" r="0.7" fill="rgb(88,88,88)" opacity="0.6"/><circle cx="110.7" cy="472.3" r="0.6" fill="rgb(65,65,65)" opacity="0.6"/><circle cx="95.6" cy="91.4" r="1" fill="rgb(117,117,117)" opacity="0.6"/><circle cx="292.3" cy="164.7" r="0.6" fill="rgb(133,133,133)" opacity="0.6"/><circle cx="222.8" cy="459.8" r="1" fill="rgb(198,198,198)" opacity="0.6"/><circle cx="437.4" cy="312.7" r="0.9" fill="rgb(139,139,139)" opacity="0.6"/><circle cx="350.2" cy="369.9" r="0.8" fill="rgb(107,107,107)" opacity="0.6"/><circle cx="21.7" cy="111.2" r="0.7" fill="rgb(92,92,92)" opacity="0.6"/><circle cx="248.6" cy="39.9" r="0.5" fill="rgb(183,183,183)" opacity="0.6"/><circle cx="383.2" cy="4.6" r="0.8" fill="rgb(68,68,68)" opacity="0.6"/><circle cx="187.7" cy="176.5" r="0.7" fill="rgb(131,131,131)" opacity="0.6"/><circle cx="332.2" cy="214.8" r="0.6" fill="rgb(185,185,185)" opacity="0.6"/><circle cx="385.7" cy="443" r="0.8" fill="rgb(70,70,70)" opacity="0.6"/><circle cx="406.4" cy="59.3" r="0.7" fill="rgb(165,165,165)" opacity="0.6"/><circle cx="38.2" cy="377.5" r="0.8" fill="rgb(180,180,180)" opacity="0.6"/><circle cx="224.5" cy="134.5" r="0.8" fill="rgb(188,188,188)" opacity="0.6"/><circle cx="145.2" cy="157.7" r="0.9" fill="rgb(120,120,120)" opacity="0.6"/><circle cx="56.7" cy="74.4" r="0.8" fill="rgb(190,190,190)" opacity="0.6"/><circle cx="108.8" cy="334.3" r="0.6" fill="rgb(68,68,68)" opacity="0.6"/><circle cx="155.5" cy="347.5" r="0.8" fill="rgb(188,188,188)" opacity="0.6"/><circle cx="316" cy="199.9" r="0.9" fill="rgb(80,80,80)" opacity="0.6"/><circle cx="208.1" cy="397.4" r="0.5" fill="rgb(188,188,188)" opacity="0.6"/><circle cx="418.8" cy="370.8" r="0.7" fill="rgb(154,154,154)" opacity="0.6"/><circle cx="147.1" cy="303.5" r="0.5" fill="rgb(200,200,200)" opacity="0.6"/><circle cx="365.6" cy="94.8" r="0.8" fill="rgb(148,148,148)" opacity="0.6"/><circle cx="91.7" cy="350.9" r="1" fill="rgb(123,123,123)" opacity="0.6"/><circle cx="396.5" cy="494.7" r="1" fill="rgb(138,138,138)" opacity="0.6"/><circle cx="396.1" cy="238.5" r="0.6" fill="rgb(75,75,75)" opacity="0.6"/><circle cx="142.1" cy="165.2" r="0.5" fill="rgb(138,138,138)" opacity="0.6"/><circle cx="383.5" cy="83.1" r="0.7" fill="rgb(123,123,123)" opacity="0.6"/><circle cx="169.3" cy="175.4" r="1" fill="rgb(130,130,130)" opacity="0.6"/><circle cx="73.3" cy="46.3" r="0.7" fill="rgb(89,89,89)" opacity="0.6"/><circle cx="189.4" cy="13.4" r="0.9" fill="rgb(185,185,185)" opacity="0.6"/><circle cx="240.5" cy="73.8" r="1" fill="rgb(175,175,175)" opacity="0.6"/><circle cx="23.4" cy="278.9" r="0.5" fill="rgb(94,94,94)" opacity="0.6"/><circle cx="334.4" cy="92.4" r="0.6" fill="rgb(156,156,156)" opacity="0.6"/><circle cx="398.3" cy="127.8" r="0.7" fill="rgb(62,62,62)" opacity="0.6"/><circle cx="262.7" cy="43.9" r="0.6" fill="rgb(176,176,176)" opacity="0.6"/><circle cx="209.7" cy="342.8" r="0.6" fill="rgb(83,83,83)" opacity="0.6"/><circle cx="320.1" cy="449.3" r="1" fill="rgb(87,87,87)" opacity="0.6"/><circle cx="462.1" cy="52.6" r="0.5" fill="rgb(188,188,188)" opacity="0.6"/><circle cx="142" cy="167.4" r="0.6" fill="rgb(119,119,119)" opacity="0.6"/><circle cx="96.4" cy="337.9" r="0.6" fill="rgb(163,163,163)" opacity="0.6"/><circle cx="82.5" cy="437.9" r="0.9" fill="rgb(69,69,69)" opacity="0.6"/><circle cx="426.9" cy="376.5" r="1" fill="rgb(134,134,134)" opacity="0.6"/><circle cx="223.6" cy="110.4" r="0.7" fill="rgb(135,135,135)" opacity="0.6"/><circle cx="297.6" cy="1.9" r="0.6" fill="rgb(172,172,172)" opacity="0.6"/><circle cx="207.7" cy="92.2" r="0.8" fill="rgb(66,66,66)" opacity="0.6"/><circle cx="196.2" cy="335" r="0.7" fill="rgb(181,181,181)" opacity="0.6"/><circle cx="329.6" cy="284.9" r="0.9" fill="rgb(169,169,169)" opacity="0.6"/><circle cx="449.6" cy="324.5" r="1" fill="rgb(106,106,106)" opacity="0.6"/><circle cx="199.5" cy="301.8" r="1" fill="rgb(159,159,159)" opacity="0.6"/><circle cx="13.2" cy="182.9" r="0.7" fill="rgb(72,72,72)" opacity="0.6"/><circle cx="108.6" cy="124.8" r="0.8" fill="rgb(96,96,96)" opacity="0.6"/><circle cx="180.1" cy="96.1" r="0.8" fill="rgb(128,128,128)" opacity="0.6"/><circle cx="161" cy="31.3" r="1" fill="rgb(197,197,197)" opacity="0.6"/><circle cx="34.4" cy="325.2" r="0.9" fill="rgb(122,122,122)" opacity="0.6"/><circle cx="81" cy="416.4" r="0.5" fill="rgb(114,114,114)" opacity="0.6"/><circle cx="48.2" cy="436" r="0.9" fill="rgb(127,127,127)" opacity="0.6"/><circle cx="378.6" cy="359.3" r="0.6" fill="rgb(144,144,144)" opacity="0.6"/><circle cx="14.5" cy="220.3" r="0.6" fill="rgb(133,133,133)" opacity="0.6"/><circle cx="264.2" cy="385.3" r="0.8" fill="rgb(143,143,143)" opacity="0.6"/><circle cx="41.9" cy="248.9" r="0.9" fill="rgb(81,81,81)" opacity="0.6"/><circle cx="165.8" cy="405.2" r="0.6" fill="rgb(67,67,67)" opacity="0.6"/><circle cx="398.5" cy="237.1" r="0.9" fill="rgb(120,120,120)" opacity="0.6"/><circle cx="221.8" cy="269" r="0.7" fill="rgb(106,106,106)" opacity="0.6"/><circle cx="77.9" cy="98.5" r="0.8" fill="rgb(182,182,182)" opacity="0.6"/><circle cx="34.5" cy="51.6" r="0.9" fill="rgb(192,192,192)" opacity="0.6"/><circle cx="70.4" cy="223.2" r="1" fill="rgb(167,167,167)" opacity="0.6"/><circle cx="419" cy="144.1" r="0.9" fill="rgb(66,66,66)" opacity="0.6"/><circle cx="429.3" cy="161.6" r="0.9" fill="rgb(163,163,163)" opacity="0.6"/><circle cx="331.4" cy="386.8" r="0.7" fill="rgb(100,100,100)" opacity="0.6"/><circle cx="215.3" cy="173.7" r="0.5" fill="rgb(161,161,161)" opacity="0.6"/><circle cx="87.5" cy="240" r="0.8" fill="rgb(185,185,185)" opacity="0.6"/><circle cx="364.6" cy="238.1" r="1" fill="rgb(132,132,132)" opacity="0.6"/><circle cx="381.3" cy="97" r="1" fill="rgb(78,78,78)" opacity="0.6"/><circle cx="323.9" cy="320.8" r="0.8" fill="rgb(136,136,136)" opacity="0.6"/><circle cx="80.1" cy="476.4" r="0.8" fill="rgb(162,162,162)" opacity="0.6"/><circle cx="64.2" cy="16.2" r="1" fill="rgb(151,151,151)" opacity="0.6"/><circle cx="30.2" cy="430.5" r="0.6" fill="rgb(86,86,86)" opacity="0.6"/><circle cx="355.4" cy="273.8" r="0.9" fill="rgb(87,87,87)" opacity="0.6"/><circle cx="202.7" cy="158.9" r="0.7" fill="rgb(164,164,164)" opacity="0.6"/><circle cx="209.6" cy="174.6" r="1" fill="rgb(72,72,72)" opacity="0.6"/><circle cx="269.5" cy="231" r="0.8" fill="rgb(168,168,168)" opacity="0.6"/><circle cx="286.9" cy="127.7" r="1" fill="rgb(91,91,91)" opacity="0.6"/><circle cx="276.2" cy="79.1" r="0.8" fill="rgb(62,62,62)" opacity="0.6"/><circle cx="432.5" cy="474.2" r="0.8" fill="rgb(100,100,100)" opacity="0.6"/><circle cx="456.7" cy="389.1" r="0.6" fill="rgb(175,175,175)" opacity="0.6"/><circle cx="114.3" cy="287.9" r="0.7" fill="rgb(111,111,111)" opacity="0.6"/><circle cx="378.3" cy="297.4" r="0.8" fill="rgb(191,191,191)" opacity="0.6"/><circle cx="144.6" cy="78.4" r="0.9" fill="rgb(195,195,195)" opacity="0.6"/><circle cx="419.8" cy="454.3" r="0.9" fill="rgb(176,176,176)" opacity="0.6"/><circle cx="119.2" cy="179" r="0.8" fill="rgb(163,163,163)" opacity="0.6"/><circle cx="211.6" cy="209" r="0.5" fill="rgb(82,82,82)" opacity="0.6"/><circle cx="80.4" cy="435.6" r="0.7" fill="rgb(133,133,133)" opacity="0.6"/><circle cx="212.6" cy="202.6" r="0.6" fill="rgb(145,145,145)" opacity="0.6"/><circle cx="21.3" cy="279.3" r="0.9" fill="rgb(180,180,180)" opacity="0.6"/><circle cx="287.3" cy="61" r="0.6" fill="rgb(166,166,166)" opacity="0.6"/><circle cx="285.3" cy="363.7" r="0.9" fill="rgb(112,112,112)" opacity="0.6"/><circle cx="221.2" cy="373.1" r="1" fill="rgb(105,105,105)" opacity="0.6"/><circle cx="374.7" cy="375" r="0.9" fill="rgb(164,164,164)" opacity="0.6"/><circle cx="175.6" cy="71.4" r="0.9" fill="rgb(89,89,89)" opacity="0.6"/><circle cx="131.3" cy="348.6" r="0.9" fill="rgb(160,160,160)" opacity="0.6"/><circle cx="239.3" cy="400.3" r="0.7" fill="rgb(93,93,93)" opacity="0.6"/><circle cx="111.6" cy="171.3" r="0.7" fill="rgb(154,154,154)" opacity="0.6"/><circle cx="282.5" cy="229" r="0.6" fill="rgb(106,106,106)" opacity="0.6"/><circle cx="427" cy="14.2" r="0.6" fill="rgb(144,144,144)" opacity="0.6"/><circle cx="321.1" cy="25.9" r="0.8" fill="rgb(149,149,149)" opacity="0.6"/><circle cx="273.1" cy="405.6" r="0.7" fill="rgb(97,97,97)" opacity="0.6"/><circle cx="135.7" cy="140.1" r="0.7" fill="rgb(117,117,117)" opacity="0.6"/><circle cx="319.1" cy="351" r="0.9" fill="rgb(72,72,72)" opacity="0.6"/><circle cx="319.3" cy="257.2" r="0.5" fill="rgb(146,146,146)" opacity="0.6"/><circle cx="365.5" cy="413.9" r="0.6" fill="rgb(189,189,189)" opacity="0.6"/><circle cx="186.9" cy="444.5" r="0.9" fill="rgb(120,120,120)" opacity="0.6"/><circle cx="347.3" cy="440" r="0.7" fill="rgb(101,101,101)" opacity="0.6"/><circle cx="203.1" cy="182.7" r="0.7" fill="rgb(178,178,178)" opacity="0.6"/><circle cx="235.8" cy="16.3" r="0.7" fill="rgb(62,62,62)" opacity="0.6"/><circle cx="309.4" cy="302.8" r="0.5" fill="rgb(162,162,162)" opacity="0.6"/><circle cx="217.3" cy="78.8" r="0.9" fill="rgb(69,69,69)" opacity="0.6"/><circle cx="99.2" cy="399.7" r="0.9" fill="rgb(98,98,98)" opacity="0.6"/><circle cx="303.5" cy="416.8" r="1" fill="rgb(76,76,76)" opacity="0.6"/><circle cx="132.1" cy="220.5" r="0.9" fill="rgb(197,197,197)" opacity="0.6"/><circle cx="348.5" cy="428.2" r="0.9" fill="rgb(97,97,97)" opacity="0.6"/><circle cx="218.6" cy="246.4" r="0.9" fill="rgb(151,151,151)" opacity="0.6"/><circle cx="91.5" cy="82" r="0.8" fill="rgb(106,106,106)" opacity="0.6"/><circle cx="32.6" cy="51.8" r="1" fill="rgb(105,105,105)" opacity="0.6"/><circle cx="335.4" cy="256.1" r="0.7" fill="rgb(127,127,127)" opacity="0.6"/><circle cx="220.6" cy="344.6" r="0.8" fill="rgb(113,113,113)" opacity="0.6"/><circle cx="247.1" cy="218.5" r="1" fill="rgb(144,144,144)" opacity="0.6"/><circle cx="314.5" cy="260.1" r="0.7" fill="rgb(75,75,75)" opacity="0.6"/><circle cx="305.8" cy="280.5" r="0.6" fill="rgb(128,128,128)" opacity="0.6"/><circle cx="347.5" cy="340.5" r="0.9" fill="rgb(181,181,181)" opacity="0.6"/><circle cx="167" cy="36.9" r="0.8" fill="rgb(76,76,76)" opacity="0.6"/><circle cx="243.2" cy="226" r="1" fill="rgb(95,95,95)" opacity="0.6"/><circle cx="55.6" cy="80.2" r="0.9" fill="rgb(166,166,166)" opacity="0.6"/><circle cx="29.5" cy="269.8" r="0.6" fill="rgb(112,112,112)" opacity="0.6"/><circle cx="431.1" cy="421.4" r="0.8" fill="rgb(138,138,138)" opacity="0.6"/><circle cx="165.2" cy="58.2" r="0.7" fill="rgb(96,96,96)" opacity="0.6"/><circle cx="413.6" cy="31.8" r="0.7" fill="rgb(165,165,165)" opacity="0.6"/><circle cx="47.3" cy="277.6" r="0.5" fill="rgb(170,170,170)" opacity="0.6"/><circle cx="438.9" cy="138.1" r="0.9" fill="rgb(154,154,154)" opacity="0.6"/><circle cx="269.2" cy="222" r="0.7" fill="rgb(128,128,128)" opacity="0.6"/><circle cx="33.2" cy="333" r="0.9" fill="rgb(147,147,147)" opacity="0.6"/><circle cx="61.3" cy="291.2" r="0.7" fill="rgb(127,127,127)" opacity="0.6"/><circle cx="106.2" cy="199.9" r="0.6" fill="rgb(168,168,168)" opacity="0.6"/><circle cx="354" cy="37.9" r="0.9" fill="rgb(130,130,130)" opacity="0.6"/><circle cx="375.3" cy="20.3" r="0.7" fill="rgb(77,77,77)" opacity="0.6"/><circle cx="239.8" cy="286.5" r="0.7" fill="rgb(146,146,146)" opacity="0.6"/><circle cx="320.2" cy="241.6" r="0.5" fill="rgb(132,132,132)" opacity="0.6"/><circle cx="243.5" cy="223.1" r="0.7" fill="rgb(184,184,184)" opacity="0.6"/><circle cx="84.1" cy="394.4" r="0.9" fill="rgb(182,182,182)" opacity="0.6"/><circle cx="6.2" cy="353.9" r="0.7" fill="rgb(96,96,96)" opacity="0.6"/><circle cx="78.9" cy="469.2" r="0.6" fill="rgb(172,172,172)" opacity="0.6"/><circle cx="464.1" cy="297.8" r="0.7" fill="rgb(98,98,98)" opacity="0.6"/><circle cx="26.6" cy="236.9" r="0.7" fill="rgb(153,153,153)" opacity="0.6"/><circle cx="137.2" cy="361.3" r="0.6" fill="rgb(156,156,156)" opacity="0.6"/><circle cx="408.2" cy="370.7" r="0.5" fill="rgb(112,112,112)" opacity="0.6"/><circle cx="93" cy="64.2" r="0.8" fill="rgb(66,66,66)" opacity="0.6"/><circle cx="256.5" cy="301.5" r="0.7" fill="rgb(84,84,84)" opacity="0.6"/><circle cx="422.3" cy="41" r="0.8" fill="rgb(66,66,66)" opacity="0.6"/></g><path d="M0,324.5 L147,307.5 L147,292 L192,292 Q195.5,292 195.5,296 L195.5,324 Q195.5,327.5 192,327.5 L147,327.5 L0,341 Z" fill="#000"/></g><text transform="matrix(0.2696 0 0 0.3913 20.65 47.63)" font-size="100" font-family="'Liberation Sans', Arial, sans-serif" fill="#fff" stroke="#fff" stroke-width="1.3" vector-effect="non-scaling-stroke">(</text><text transform="matrix(0.2835 0 0 0.3542 33.95 48.54)" font-size="100" font-family="'Liberation Sans', Arial, sans-serif" fill="#fff" stroke="#fff" stroke-width="0.7" vector-effect="non-scaling-stroke">a</text><text transform="matrix(0.2619 0 0 0.3913 54.66 47.63)" font-size="100" font-family="'Liberation Sans', Arial, sans-serif" fill="#fff" stroke="#fff" stroke-width="1.3" vector-effect="non-scaling-stroke">)</text><text transform="matrix(0.2143 0 0 0.2161 126.43 137.46)" font-size="100" font-family="'Liberation Sans', Arial, sans-serif" fill="#e6e632" stroke="#e6e632" stroke-width="0.5" vector-effect="non-scaling-stroke">Single ring</text><text transform="matrix(0.2167 0 0 0.2205 309.97 251.58)" font-size="100" font-family="'Liberation Sans', Arial, sans-serif" fill="#e6e632" stroke="#e6e632" stroke-width="0.5" vector-effect="non-scaling-stroke">Broad</text><text transform="matrix(0.2353 0 0 0.2129 309.65 280.13)" font-size="100" font-family="'Liberation Sans', Arial, sans-serif" fill="#e6e632" stroke="#e6e632" stroke-width="0.5" vector-effect="non-scaling-stroke">ring</text><text transform="matrix(0.2109 0 0 0.2226 131.75 265.03)" font-size="100" font-family="'Liberation Sans', Arial, sans-serif" fill="#5b9bd5" stroke="#5b9bd5" stroke-width="0.5" vector-effect="non-scaling-stroke">Sample</text><text transform="matrix(0.2147 0 0 0.2219 257.67 385.88)" font-size="100" font-family="'Liberation Sans', Arial, sans-serif" fill="#5b9bd5" stroke="#5b9bd5" stroke-width="0.5" vector-effect="non-scaling-stroke">Tube</text><path d="M178.2,146.5 L178.2,154.2" stroke="#e6e632" stroke-width="3.2"/><path d="M178.2,162.2 L173.2,153.2 L183.2,153.2 Z" fill="#e6e632"/><path d="M331.5,287.8 L316.7,299.9" stroke="#e6e632" stroke-width="3.4"/><path d="M309.7,305.6 L314,295 L320.9,303.5 Z" fill="#e6e632"/><path d="M213.5,257.6 L223.8,245.3" stroke="#6a8fd6" stroke-width="3.2"/><path d="M229,239.2 L227,249.3 L219.4,242.9 Z" fill="#6a8fd6"/><path d="M315.7,378.5 L324.7,382.8" stroke="#6a8fd6" stroke-width="3.2"/><path d="M331.5,386.1 L321.8,386.7 L325.9,378.1 Z" fill="#6a8fd6"/><rect x="510.8" y="1.3" width="487.2" height="499.5" fill="#000"/><circle cx="749.2" cy="94.9" r="0.6" fill="rgb(229,229,229)"/><circle cx="774.8" cy="95.7" r="0.5" fill="rgb(212,212,212)"/><circle cx="753" cy="94.3" r="0.6" fill="rgb(206,206,206)"/><circle cx="729.5" cy="96" r="0.7" fill="rgb(234,234,234)"/><circle cx="764.7" cy="92" r="0.7" fill="rgb(228,228,228)"/><circle cx="759.6" cy="93.1" r="0.7" fill="rgb(210,210,210)"/><circle cx="773.4" cy="94.7" r="0.7" fill="rgb(215,215,215)"/><circle cx="770" cy="94.4" r="0.6" fill="rgb(220,220,220)"/><circle cx="773.9" cy="96" r="0.5" fill="rgb(231,231,231)"/><circle cx="725.8" cy="95.8" r="0.5" fill="rgb(241,241,241)"/><circle cx="784.1" cy="95.4" r="0.5" fill="rgb(245,245,245)"/><circle cx="768.7" cy="94.3" r="0.6" fill="rgb(232,232,232)"/><circle cx="724.8" cy="95.8" r="0.6" fill="rgb(254,254,254)"/><circle cx="724.7" cy="96.6" r="0.7" fill="rgb(201,201,201)"/><circle cx="720.3" cy="96.4" r="0.6" fill="rgb(230,230,230)"/><circle cx="765.7" cy="92.5" r="0.5" fill="rgb(226,226,226)"/><circle cx="760.5" cy="93.5" r="0.6" fill="rgb(205,205,205)"/><circle cx="721.5" cy="97.1" r="0.7" fill="rgb(226,226,226)"/><circle cx="727.8" cy="95.3" r="0.6" fill="rgb(203,203,203)"/><circle cx="751.4" cy="93.1" r="0.6" fill="rgb(243,243,243)"/><circle cx="748.8" cy="93" r="0.6" fill="rgb(208,208,208)"/><circle cx="744.7" cy="92.5" r="0.6" fill="rgb(225,225,225)"/><circle cx="733.9" cy="94.7" r="0.7" fill="rgb(251,251,251)"/><circle cx="784.3" cy="94.9" r="0.5" fill="rgb(201,201,201)"/><circle cx="745.4" cy="92.9" r="0.5" fill="rgb(206,206,206)"/><circle cx="729.7" cy="95.9" r="0.5" fill="rgb(228,228,228)"/><circle cx="769.6" cy="94.7" r="0.5" fill="rgb(204,204,204)"/><circle cx="733.5" cy="94" r="0.5" fill="rgb(240,240,240)"/><circle cx="758.7" cy="94.1" r="0.6" fill="rgb(237,237,237)"/><circle cx="757" cy="92.9" r="0.6" fill="rgb(255,255,255)"/><circle cx="760.3" cy="93.8" r="0.5" fill="rgb(239,239,239)"/><circle cx="732.3" cy="94.2" r="0.7" fill="rgb(247,247,247)"/><circle cx="755.7" cy="93.7" r="0.7" fill="rgb(230,230,230)"/><circle cx="747.2" cy="94.1" r="0.5" fill="rgb(206,206,206)"/><circle cx="753" cy="93.4" r="0.5" fill="rgb(225,225,225)"/><circle cx="773" cy="93.7" r="0.6" fill="rgb(238,238,238)"/><circle cx="753.5" cy="91.7" r="0.5" fill="rgb(208,208,208)"/><circle cx="756" cy="94.3" r="0.7" fill="rgb(254,254,254)"/><circle cx="725" cy="95.5" r="0.5" fill="rgb(247,247,247)"/><circle cx="737.3" cy="92.6" r="0.5" fill="rgb(228,228,228)"/><circle cx="723.3" cy="96.3" r="0.5" fill="rgb(208,208,208)"/><circle cx="729" cy="94.3" r="0.8" fill="rgb(228,228,228)"/><circle cx="762.2" cy="94.1" r="0.7" fill="rgb(208,208,208)"/><circle cx="779.1" cy="96.7" r="0.8" fill="rgb(230,230,230)"/><circle cx="765.1" cy="93.8" r="0.5" fill="rgb(240,240,240)"/><circle cx="724.6" cy="95.9" r="0.6" fill="rgb(219,219,219)"/><circle cx="784.1" cy="96" r="0.5" fill="rgb(247,247,247)"/><circle cx="780.1" cy="95.6" r="0.7" fill="rgb(247,247,247)"/><circle cx="771" cy="94" r="0.6" fill="rgb(243,243,243)"/><circle cx="725.3" cy="96.1" r="0.6" fill="rgb(254,254,254)"/><circle cx="770.8" cy="93.9" r="0.7" fill="rgb(239,239,239)"/><circle cx="744.5" cy="94.3" r="0.7" fill="rgb(200,200,200)"/><circle cx="725.7" cy="97.2" r="0.7" fill="rgb(226,226,226)"/><circle cx="745.1" cy="95.3" r="0.7" fill="rgb(247,247,247)"/><circle cx="749.5" cy="94.3" r="0.7" fill="rgb(233,233,233)"/><circle cx="722.2" cy="96.2" r="0.5" fill="rgb(238,238,238)"/><circle cx="721.7" cy="96.1" r="0.7" fill="rgb(249,249,249)"/><circle cx="779" cy="95.9" r="0.8" fill="rgb(216,216,216)"/><circle cx="743.7" cy="93" r="0.5" fill="rgb(233,233,233)"/><circle cx="778.2" cy="94.9" r="0.8" fill="rgb(242,242,242)"/><circle cx="752.1" cy="93.4" r="0.5" fill="rgb(216,216,216)"/><circle cx="747.8" cy="92.8" r="0.7" fill="rgb(251,251,251)"/><circle cx="733" cy="94.5" r="0.5" fill="rgb(220,220,220)"/><circle cx="728.8" cy="94.7" r="0.7" fill="rgb(222,222,222)"/><circle cx="774.4" cy="95.4" r="0.7" fill="rgb(217,217,217)"/><circle cx="727.8" cy="97" r="0.5" fill="rgb(230,230,230)"/><circle cx="734" cy="95.3" r="0.7" fill="rgb(231,231,231)"/><circle cx="766.1" cy="93.5" r="0.8" fill="rgb(253,253,253)"/><circle cx="749.2" cy="93.3" r="0.7" fill="rgb(255,255,255)"/><circle cx="763.6" cy="93.7" r="0.6" fill="rgb(217,217,217)"/><circle cx="740" cy="93.9" r="0.6" fill="rgb(208,208,208)"/><circle cx="732.4" cy="94.8" r="0.7" fill="rgb(249,249,249)"/><circle cx="735.4" cy="94.2" r="0.5" fill="rgb(240,240,240)"/><circle cx="727.2" cy="95.3" r="0.7" fill="rgb(234,234,234)"/><circle cx="772" cy="93.6" r="0.7" fill="rgb(212,212,212)"/><circle cx="736.6" cy="94.5" r="0.5" fill="rgb(245,245,245)"/><circle cx="750.4" cy="93.5" r="0.7" fill="rgb(217,217,217)"/><circle cx="754.7" cy="93.8" r="0.6" fill="rgb(233,233,233)"/><circle cx="784" cy="96" r="0.8" fill="rgb(244,244,244)"/><circle cx="725.7" cy="94.6" r="0.6" fill="rgb(246,246,246)"/><circle cx="749" cy="93" r="0.6" fill="rgb(200,200,200)"/><circle cx="756.6" cy="92.1" r="0.7" fill="rgb(232,232,232)"/><circle cx="780.3" cy="97" r="0.5" fill="rgb(213,213,213)"/><circle cx="775.6" cy="95" r="0.7" fill="rgb(251,251,251)"/><circle cx="766.2" cy="93.7" r="0.8" fill="rgb(205,205,205)"/><circle cx="754.6" cy="92" r="0.8" fill="rgb(250,250,250)"/><circle cx="737" cy="94.2" r="0.5" fill="rgb(232,232,232)"/><circle cx="748.4" cy="93.6" r="0.6" fill="rgb(235,235,235)"/><circle cx="737.8" cy="93.6" r="0.5" fill="rgb(255,255,255)"/><circle cx="771.3" cy="94.8" r="0.6" fill="rgb(211,211,211)"/><circle cx="759.7" cy="151.2" r="0.8" fill="rgb(176,176,176)"/><circle cx="752.9" cy="151.7" r="0.7" fill="rgb(196,196,196)"/><circle cx="769.6" cy="154.2" r="0.7" fill="rgb(121,121,121)"/><circle cx="749.8" cy="151.4" r="0.6" fill="rgb(181,181,181)"/><circle cx="761.3" cy="152.2" r="0.5" fill="rgb(181,181,181)"/><circle cx="759" cy="152.1" r="0.5" fill="rgb(188,188,188)"/><circle cx="766.2" cy="151.8" r="0.6" fill="rgb(183,183,183)"/><circle cx="748.7" cy="151.6" r="0.6" fill="rgb(124,124,124)"/><circle cx="756.4" cy="150.2" r="0.8" fill="rgb(176,176,176)"/><circle cx="754" cy="151.2" r="0.5" fill="rgb(182,182,182)"/><circle cx="736" cy="152.2" r="0.6" fill="rgb(168,168,168)"/><circle cx="770.5" cy="152.2" r="0.5" fill="rgb(161,161,161)"/><circle cx="751.1" cy="151" r="0.6" fill="rgb(170,170,170)"/><circle cx="736.6" cy="152.3" r="0.7" fill="rgb(163,163,163)"/><circle cx="769.1" cy="152.3" r="0.5" fill="rgb(112,112,112)"/><circle cx="738.4" cy="151.8" r="0.7" fill="rgb(111,111,111)"/><circle cx="745.2" cy="152.1" r="0.6" fill="rgb(123,123,123)"/><circle cx="755.5" cy="150.9" r="0.7" fill="rgb(175,175,175)"/><circle cx="759.7" cy="164.1" r="0.6" fill="rgb(201,201,201)"/><circle cx="749.2" cy="164.4" r="0.7" fill="rgb(233,233,233)"/><circle cx="753.5" cy="163" r="0.6" fill="rgb(213,213,213)"/><circle cx="764.3" cy="164.8" r="0.7" fill="rgb(239,239,239)"/><circle cx="739.5" cy="163.8" r="0.8" fill="rgb(222,222,222)"/><circle cx="745.8" cy="164" r="0.8" fill="rgb(220,220,220)"/><circle cx="741.6" cy="164" r="0.5" fill="rgb(206,206,206)"/><circle cx="743.2" cy="164.2" r="0.5" fill="rgb(246,246,246)"/><circle cx="748.4" cy="164.6" r="0.7" fill="rgb(234,234,234)"/><circle cx="739.2" cy="163.9" r="0.7" fill="rgb(225,225,225)"/><circle cx="762.6" cy="163.5" r="0.8" fill="rgb(222,222,222)"/><circle cx="768.5" cy="164.6" r="0.7" fill="rgb(207,207,207)"/><circle cx="756.8" cy="164.5" r="0.5" fill="rgb(253,253,253)"/><circle cx="737.1" cy="163.3" r="0.5" fill="rgb(206,206,206)"/><circle cx="761.2" cy="164.7" r="0.5" fill="rgb(230,230,230)"/><circle cx="741.4" cy="164.8" r="0.5" fill="rgb(213,213,213)"/><circle cx="740.4" cy="164.4" r="0.5" fill="rgb(237,237,237)"/><circle cx="767.9" cy="164.2" r="0.5" fill="rgb(229,229,229)"/><circle cx="738.3" cy="165" r="0.6" fill="rgb(222,222,222)"/><circle cx="755.7" cy="163.1" r="0.7" fill="rgb(200,200,200)"/><circle cx="736.3" cy="164.8" r="0.7" fill="rgb(223,223,223)"/><circle cx="748.9" cy="163" r="0.7" fill="rgb(212,212,212)"/><circle cx="738.2" cy="164.5" r="0.7" fill="rgb(205,205,205)"/><circle cx="759.3" cy="164.1" r="0.8" fill="rgb(255,255,255)"/><circle cx="767.3" cy="165.1" r="0.8" fill="rgb(237,237,237)"/><circle cx="762.8" cy="164.2" r="0.5" fill="rgb(216,216,216)"/><circle cx="738.9" cy="164.5" r="0.5" fill="rgb(225,225,225)"/><circle cx="746.3" cy="163.9" r="0.7" fill="rgb(234,234,234)"/><circle cx="761.5" cy="163.9" r="0.5" fill="rgb(246,246,246)"/><circle cx="762.4" cy="164.5" r="0.6" fill="rgb(219,219,219)"/><circle cx="735.4" cy="165.6" r="0.5" fill="rgb(239,239,239)"/><circle cx="744.3" cy="163.2" r="0.6" fill="rgb(242,242,242)"/><circle cx="742.4" cy="164.2" r="0.6" fill="rgb(204,204,204)"/><circle cx="769.5" cy="165" r="0.5" fill="rgb(241,241,241)"/><circle cx="739.1" cy="165" r="0.7" fill="rgb(207,207,207)"/><circle cx="760.5" cy="163.4" r="0.6" fill="rgb(216,216,216)"/><circle cx="752.4" cy="163.3" r="0.5" fill="rgb(200,200,200)"/><circle cx="743.6" cy="164.6" r="0.6" fill="rgb(221,221,221)"/><circle cx="752.5" cy="162.8" r="0.7" fill="rgb(206,206,206)"/><circle cx="762.9" cy="164.2" r="0.6" fill="rgb(204,204,204)"/><circle cx="758.1" cy="163.1" r="0.6" fill="rgb(210,210,210)"/><circle cx="768.4" cy="165.1" r="0.6" fill="rgb(254,254,254)"/><circle cx="756.1" cy="162.4" r="0.5" fill="rgb(226,226,226)"/><circle cx="748.7" cy="163" r="0.6" fill="rgb(219,219,219)"/><circle cx="744.8" cy="164.1" r="0.7" fill="rgb(218,218,218)"/><circle cx="760.7" cy="164.4" r="0.5" fill="rgb(201,201,201)"/><circle cx="743.3" cy="163.6" r="0.7" fill="rgb(248,248,248)"/><circle cx="736.7" cy="164.8" r="0.7" fill="rgb(220,220,220)"/><circle cx="736.4" cy="163.7" r="0.7" fill="rgb(204,204,204)"/><circle cx="742.6" cy="164" r="0.6" fill="rgb(246,246,246)"/><circle cx="768.5" cy="165" r="0.7" fill="rgb(251,251,251)"/><circle cx="751.1" cy="162.8" r="0.5" fill="rgb(252,252,252)"/><circle cx="759.4" cy="163.2" r="0.5" fill="rgb(207,207,207)"/><circle cx="736.7" cy="164.7" r="0.5" fill="rgb(233,233,233)"/><circle cx="747.4" cy="163.2" r="0.5" fill="rgb(238,238,238)"/><circle cx="755.1" cy="163" r="0.6" fill="rgb(226,226,226)"/><circle cx="760.7" cy="163.7" r="0.7" fill="rgb(218,218,218)"/><circle cx="743.2" cy="164.1" r="0.6" fill="rgb(207,207,207)"/><circle cx="745.6" cy="164.6" r="0.5" fill="rgb(217,217,217)"/><circle cx="758.6" cy="163.7" r="0.7" fill="rgb(236,236,236)"/><circle cx="741.5" cy="164.2" r="0.6" fill="rgb(215,215,215)"/><circle cx="757.5" cy="163.2" r="0.8" fill="rgb(212,212,212)"/><circle cx="736.2" cy="164.6" r="0.5" fill="rgb(227,227,227)"/><circle cx="736.2" cy="164.8" r="0.6" fill="rgb(214,214,214)"/><circle cx="737.3" cy="164.1" r="0.5" fill="rgb(235,235,235)"/><circle cx="768.9" cy="164.7" r="0.6" fill="rgb(230,230,230)"/><circle cx="742.2" cy="164.5" r="0.8" fill="rgb(253,253,253)"/><circle cx="762.8" cy="163.4" r="0.7" fill="rgb(228,228,228)"/><circle cx="756.5" cy="163.5" r="0.7" fill="rgb(227,227,227)"/><circle cx="748.4" cy="163.8" r="0.6" fill="rgb(209,209,209)"/><circle cx="759.9" cy="127.3" r="0.7" fill="rgb(180,180,180)"/><circle cx="768.3" cy="129.6" r="0.6" fill="rgb(133,133,133)"/><circle cx="745.6" cy="126.1" r="0.6" fill="rgb(120,120,120)"/><circle cx="748.8" cy="126.7" r="0.6" fill="rgb(182,182,182)"/><circle cx="761.3" cy="129.5" r="0.6" fill="rgb(119,119,119)"/><circle cx="772.8" cy="127.7" r="0.5" fill="rgb(187,187,187)"/><circle cx="742.5" cy="129.2" r="0.8" fill="rgb(146,146,146)"/><circle cx="738.6" cy="131.5" r="0.7" fill="rgb(194,194,194)"/><circle cx="745.5" cy="126.8" r="0.7" fill="rgb(182,182,182)"/><circle cx="772.3" cy="128.5" r="0.8" fill="rgb(197,197,197)"/><circle cx="749.1" cy="128" r="0.5" fill="rgb(150,150,150)"/><circle cx="774.9" cy="131.8" r="0.5" fill="rgb(176,176,176)"/><circle cx="742.4" cy="76.7" r="0.7" fill="rgb(170,170,170)"/><circle cx="774.6" cy="67.1" r="0.6" fill="rgb(214,214,214)"/><circle cx="772.1" cy="87.4" r="0.5" fill="rgb(192,192,192)"/><circle cx="722.9" cy="77.8" r="0.8" fill="rgb(178,178,178)"/><circle cx="735.3" cy="62.6" r="0.5" fill="rgb(189,189,189)"/><circle cx="737.1" cy="70.7" r="0.7" fill="rgb(122,122,122)"/><circle cx="775.6" cy="63.6" r="0.6" fill="rgb(220,220,220)"/><circle cx="739.8" cy="67.9" r="0.7" fill="rgb(155,155,155)"/><circle cx="782.9" cy="64.2" r="0.5" fill="rgb(138,138,138)"/><circle cx="776.1" cy="67.2" r="0.5" fill="rgb(174,174,174)"/><circle cx="731.6" cy="71.7" r="0.6" fill="rgb(217,217,217)"/><circle cx="741.8" cy="81.4" r="0.7" fill="rgb(162,162,162)"/><circle cx="751.8" cy="83.8" r="0.7" fill="rgb(210,210,210)"/><circle cx="719.7" cy="77.5" r="0.7" fill="rgb(216,216,216)"/><circle cx="765" cy="63.1" r="0.8" fill="rgb(131,131,131)"/><circle cx="783.4" cy="85.9" r="0.5" fill="rgb(201,201,201)"/><circle cx="741.9" cy="67.8" r="0.8" fill="rgb(173,173,173)"/><circle cx="733.6" cy="72.1" r="0.8" fill="rgb(140,140,140)"/><circle cx="742.9" cy="69" r="0.6" fill="rgb(174,174,174)"/><circle cx="735.2" cy="67.5" r="0.6" fill="rgb(127,127,127)"/><circle cx="771.9" cy="43.5" r="0.8" fill="rgb(142,142,142)"/><circle cx="774.2" cy="39.3" r="0.7" fill="rgb(122,122,122)"/><circle cx="787.7" cy="41.6" r="0.6" fill="rgb(143,143,143)"/><circle cx="759.8" cy="40.9" r="0.7" fill="rgb(196,196,196)"/><circle cx="760.4" cy="40.9" r="0.6" fill="rgb(155,155,155)"/><circle cx="787.9" cy="40.7" r="0.7" fill="rgb(159,159,159)"/><circle cx="787.9" cy="55.9" r="0.8" fill="rgb(182,182,182)"/><circle cx="787" cy="48.1" r="0.7" fill="rgb(163,163,163)"/><circle cx="776.6" cy="32.8" r="0.5" fill="rgb(171,171,171)"/><circle cx="791.6" cy="38.5" r="0.8" fill="rgb(169,169,169)"/><circle cx="777.6" cy="41.4" r="0.7" fill="rgb(127,127,127)"/><circle cx="730.9" cy="53" r="0.8" fill="rgb(121,121,121)"/><circle cx="786.1" cy="48.6" r="0.7" fill="rgb(173,173,173)"/><circle cx="722.7" cy="42.1" r="0.7" fill="rgb(140,140,140)"/><circle cx="720.4" cy="34.6" r="0.7" fill="rgb(136,136,136)"/><circle cx="793" cy="51.6" r="0.6" fill="rgb(154,154,154)"/><circle cx="714.7" cy="48.3" r="0.7" fill="rgb(146,146,146)"/><circle cx="781.6" cy="45.2" r="0.5" fill="rgb(136,136,136)"/><circle cx="732.5" cy="42.9" r="0.7" fill="rgb(181,181,181)"/><circle cx="717" cy="47.1" r="0.7" fill="rgb(215,215,215)"/><circle cx="782.2" cy="47.2" r="0.5" fill="rgb(173,173,173)"/><circle cx="768.6" cy="32" r="0.7" fill="rgb(220,220,220)"/><circle cx="728.1" cy="49.9" r="0.8" fill="rgb(140,140,140)"/><circle cx="791.4" cy="47.2" r="0.6" fill="rgb(160,160,160)"/><circle cx="716.4" cy="46.9" r="0.5" fill="rgb(211,211,211)"/><circle cx="727.5" cy="109.4" r="0.5" fill="rgb(117,117,117)"/><circle cx="746.7" cy="121.7" r="0.7" fill="rgb(115,115,115)"/><circle cx="724.3" cy="111.8" r="0.7" fill="rgb(148,148,148)"/><circle cx="750.8" cy="111.9" r="0.5" fill="rgb(198,198,198)"/><circle cx="780.2" cy="112.4" r="0.5" fill="rgb(192,192,192)"/><circle cx="758.7" cy="112.5" r="0.7" fill="rgb(169,169,169)"/><circle cx="778.4" cy="110.1" r="0.6" fill="rgb(196,196,196)"/><circle cx="761.6" cy="111.8" r="0.5" fill="rgb(193,193,193)"/><circle cx="741.2" cy="109.2" r="0.6" fill="rgb(135,135,135)"/><circle cx="764.5" cy="115.7" r="0.5" fill="rgb(111,111,111)"/><circle cx="759.4" cy="105.1" r="0.7" fill="rgb(116,116,116)"/><circle cx="764.1" cy="110.2" r="0.7" fill="rgb(159,159,159)"/><circle cx="728.5" cy="109.8" r="0.5" fill="rgb(129,129,129)"/><circle cx="778.3" cy="120.4" r="0.8" fill="rgb(143,143,143)"/><polygon points="680,23.7 711.2,23.7 748.7,243 786.3,23.7 816.7,23.7 890.8,60.3 953.2,145.6 975.3,200.2 975.3,295.9 962.3,340.1 944.1,388.2 910.3,433.7 851.8,466.2 841.4,470.1 682.9,470.1 682.9,466.2 621.8,440.2 556.8,389.5 529.5,320.6 529.5,151 563.8,87.5 621.2,45 665,26" fill="#d90000"/><path d="M746.2,246.4 H758.2 M752.2,240.4 V252.4" stroke="#e8e8f0" stroke-width="1.6"/><text transform="matrix(0.2292 0 0 0.3827 529.24 48.01)" font-size="100" font-family="'Liberation Sans', Arial, sans-serif" fill="#fff" stroke="#fff" stroke-width="1.3" vector-effect="non-scaling-stroke">(</text><text transform="matrix(0.3609 0 0 0.3874 541.91 48.20)" font-size="100" font-family="'Liberation Sans', Arial, sans-serif" fill="#fff" stroke="#fff" stroke-width="0.7" vector-effect="non-scaling-stroke">b</text><text transform="matrix(0.2446 0 0 0.3827 565.38 48.01)" font-size="100" font-family="'Liberation Sans', Arial, sans-serif" fill="#fff" stroke="#fff" stroke-width="1.3" vector-effect="non-scaling-stroke">)</text><text transform="matrix(0.2515 0 0 0.3781 20.87 581.34)" font-size="100" font-family="'Liberation Sans', Arial, sans-serif" fill="#000" stroke="#000" stroke-width="1.2" vector-effect="non-scaling-stroke">(</text><text transform="matrix(0.3256 0 0 0.3709 33.40 582.58)" font-size="100" font-family="'Liberation Sans', Arial, sans-serif" fill="#000" stroke="#000" stroke-width="0.5" vector-effect="non-scaling-stroke">c</text><text transform="matrix(0.2515 0 0 0.3781 53.03 581.34)" font-size="100" font-family="'Liberation Sans', Arial, sans-serif" fill="#000" stroke="#000" stroke-width="1.2" vector-effect="non-scaling-stroke">)</text><polyline points="48,875.6 130,875.6 132,874.2 134,875.6 145,875.2 150,872.5 155,867.5 158,864.5 165,864 175,864.5 180,868 185,873 190,875.5 200,875.6 244.9,875.3 251.4,872.6 254.7,865.6 256.8,864.5 259,855.8 261.2,842.8 263.3,830.9 265.5,839 268.2,833.1 270,824.4 272,828.8 273.6,840.7 274.2,853.7 276.3,866.7 279,870 281.8,868.8 285,873.7 288.3,874.8 310,875.2 330.4,874.6 358,873.4 372.4,869.8 379.6,871.6 384.4,869.8 394,866.2 400,860.2 402.4,850 404.8,818.8 408.4,816.4 410.8,832 413.8,832.6 416.8,859.6 418.6,866.2 421.6,863.2 425.2,863.2 430,869.8 435.2,867.2 438.6,854.8 440.7,835.5 442.8,821.7 445.5,802.4 447.2,808 449,801 450.5,790 451.7,769.3 453,785 454.5,820.3 456.6,846.6 460,860.3 465.5,861.7 471,867.2 482,872 500,872.8 508,872.8 514.4,864.5 517.6,862.6 520.1,849.7 522,817.7 524,783 525.3,772.8 526.5,779.2 528.5,797.2 530.4,794.6 532.3,779.2 533.6,789.5 535.5,824.1 538.1,853.6 541.3,862.6 546.4,867.1 550.9,872.8 556.7,874.1 565.6,872.8 574.6,873.5 590,874.1 600,874 616.8,872.8 632.4,871.6 640.8,869.2 646.8,865.6 649.2,857.2 652.8,840.4 655.2,829.6 656.4,811.6 658,805.6 659.4,810.4 660.6,826 663,829.6 665.4,835.6 667.2,845.2 669,860.8 672,865.6 676.8,868 680.4,872.8 706.8,872.8 710.4,866.8 714.6,862 718.5,861.1 720.7,843.4 722.9,818.3 725.1,799.1 728.1,793.2 729.5,774 731,751.1 732.5,762.2 733.2,799.1 734.7,843.4 737.7,855.2 740.6,859.6 742.8,856.7 745.1,850 747.3,858.2 750.2,867 756.1,865.6 763.5,867 767.9,870 772.4,868.5 778.3,859.6 782.7,862.6 787.1,869.2 794.5,868.5 806.4,870 820,872.2 832.8,870.9 838,867.7 841.8,861.3 845.6,845.9 848.2,826.7 850.1,822.2 852.7,833.1 857.2,849.7 860.4,858.1 862.3,849.7 864.2,833.1 868.1,821.5 869.4,808.7 870,776.7 871.5,722.3 872.5,720 873.3,722 874.5,758.6 875.5,800 876.4,826.7 880.3,842 882.8,852.3 884.4,861.9 887.2,861.4 890.5,863.6 893.2,868.5 904.2,869.1 909.7,870.2 916.3,869.6 926.2,869.1 941.6,869.4 950.4,868.7 957,870.9 964.7,870.9 968,868.5 973.5,868 976.8,866.3" fill="none" stroke="#000" stroke-width="2" stroke-linejoin="round"/><polyline points="48,875.6 140,875.6 145,875 150,873 155,866 158,857 160,851 163,847 166,851 168,857 170,866 174,873 180,875.5 195,875.5 198,874 199.5,873.5 202,875.6 243.3,876.2 255.2,875.3 257.4,868.8 259.5,859.6 261.2,860.2 263.3,866.7 265.5,871 268.8,873.7 270.9,875.3 299,876 310,875.5 330,875.5 335.2,872.8 340,875.5 349.6,875.5 353.2,872.2 358,874 364,875.5 368.8,871.6 374.2,862 379.6,871.6 384.4,872.8 397.6,874 403,863.2 409.6,874 418,872.8 427.6,872.2 435.2,867.2 437.2,854.8 437.9,832.8 438.6,795.5 440,754.1 440.5,697.6 441.3,630 442.8,613.4 444,618 445.2,625.2 445.5,692.9 445.8,750 446.2,770.7 447.6,805.2 448.3,824.5 451,832.8 452.4,852.1 457.2,860.3 465.5,868.6 475.2,872.8 483.4,874.1 500,874.1 511.2,874.1 516.9,861.3 518.8,836.9 519.7,813.8 521.4,785.6 522.7,784.4 524,795.9 525.3,817.7 527.2,847.2 531,860 533.6,871.5 538.7,874.7 554.1,874.7 565.6,872.2 573.3,874.7 591.3,875.4 600,874.6 622.8,874 636,871.6 646.8,869.2 649.2,860.8 651,841.6 652.5,829 653.4,841.6 654.6,851.2 656.4,845.2 658.2,850 659.4,860.8 662.4,866.8 665.4,872.8 672,874 714.8,873.7 718.5,867 722.2,865.6 724.4,867 728.1,859.6 731,868.5 735.5,873 739.9,871.5 745.8,864.1 751,861.1 756.1,865.6 762,872.2 765.7,873 769.4,867 773.9,863.3 776.8,867.8 780.5,869.2 784.2,873 788.6,871.5 794.5,867.8 799,868.5 806.4,873 820,873.7 835.4,872.8 838.6,865.1 840.5,847.2 842.4,831.8 844.4,833.1 845.6,838.2 847.6,848.5 850.1,847.2 852.7,852.3 854.6,865.1 857.2,867.1 860.4,862.6 861.7,843.3 862.9,795.9 863.3,760 863.6,717.8 865,698.5 866.5,717.8 868.8,717.8 870,673.6 871.1,595.4 871.8,561.3 872.7,586.3 873.1,672.4 874,677 874.5,760 875.8,779.2 877.1,780.5 877.7,802.3 879,839.5 880.3,862.6 884.1,868.3 891.8,871.5 902,871.8 919.6,871.8 928.4,869.6 935,871.8 942.7,872.9 968,873.5 976.8,872.9" fill="none" stroke="#e00000" stroke-width="2" stroke-linejoin="round"/><path d="M47.5,917.8 H979.5" stroke="#000" stroke-width="2"/><path d="M48.5,917 V929.8 M82.9,917 V923.8 M117.4,917 V923.8 M151.8,917 V923.8 M186.2,917 V923.8 M220.7,917 V929.8 M255.1,917 V923.8 M289.5,917 V923.8 M323.9,917 V923.8 M358.4,917 V923.8 M392.8,917 V929.8 M427.2,917 V923.8 M461.7,917 V923.8 M496.1,917 V923.8 M530.5,917 V923.8 M565,917 V929.8 M599.4,917 V923.8 M633.8,917 V923.8 M668.2,917 V923.8 M702.7,917 V923.8 M737.1,917 V929.8 M771.5,917 V923.8 M806,917 V923.8 M840.4,917 V923.8 M874.8,917 V923.8 M909.2,917 V929.8 M943.7,917 V923.8 M978.1,917 V923.8" stroke="#000" stroke-width="1.8"/><g font-family="'Liberation Sans', Arial, sans-serif" font-size="27" text-anchor="middle" fill="#000"><text x="48.5" y="957.3">5</text><text x="220.7" y="957.3">10</text><text x="392.8" y="957.3">15</text><text x="565" y="957.3">20</text><text x="737.1" y="957.3">25</text><text x="909.2" y="957.3">30</text></g><text x="0" y="0" transform="matrix(1.022 0 0 1 419.6 1006.4)" font-family="'Liberation Sans', Arial, sans-serif" font-size="31.5" fill="#000">Degrees (2θ)</text><rect x="46.2" y="619.6" width="282.3" height="81.6" fill="#fff" stroke="#3a3a3a" stroke-width="1"/><path d="M50,641.1 H122.5" stroke="#000" stroke-width="2"/><path d="M50,680 H122" stroke="#e00000" stroke-width="2"/><text transform="matrix(0.3150 0 0 0.3219 130.28 650.38)" font-size="100" font-family="'Liberation Sans', Arial, sans-serif" fill="#000">Without mask</text><text transform="matrix(0.3133 0 0 0.3123 130.29 689.29)" font-size="100" font-family="'Liberation Sans', Arial, sans-serif" fill="#000">With mask</text>
</svg>
</body></html>
